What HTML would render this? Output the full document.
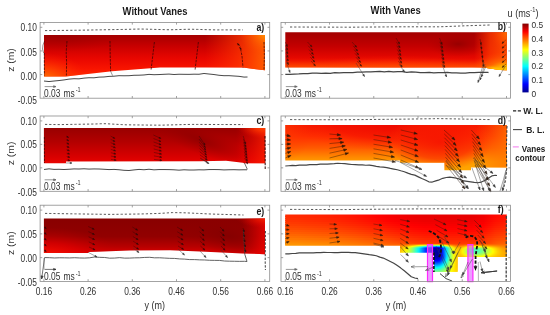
<!DOCTYPE html>
<html lang="en"><head><meta charset="utf-8"><title>Velocity fields with and without vanes</title>
<style>
html,body{margin:0;padding:0;background:#fff;}
body{width:550px;height:315px;overflow:hidden;}
svg{display:block;font-family:'Liberation Sans', sans-serif;}
</style></head><body>
<svg width="550" height="315" viewBox="0 0 550 315">
<defs><linearGradient id="g1" gradientUnits="userSpaceOnUse" x1="0" y1="35" x2="0" y2="77"><stop offset="0" stop-color="#a40000"/><stop offset="0.25" stop-color="#c60000"/><stop offset="0.55" stop-color="#e80600"/><stop offset="0.8" stop-color="#f81400"/><stop offset="1" stop-color="#ff2a00"/></linearGradient><radialGradient id="g2" gradientUnits="userSpaceOnUse" cx="0" cy="0" r="40" gradientTransform="translate(60 34) rotate(0) scale(1.6 0.45)"><stop offset="0" stop-color="#960000" stop-opacity="0.8"/><stop offset="1" stop-color="#a80000" stop-opacity="0"/></radialGradient><radialGradient id="g3" gradientUnits="userSpaceOnUse" cx="0" cy="0" r="34" gradientTransform="translate(44 80) rotate(0) scale(1.3 0.8)"><stop offset="0" stop-color="#ff7a00" stop-opacity="1"/><stop offset="0.45" stop-color="#ff4a00" stop-opacity="0.7"/><stop offset="1" stop-color="#ff2000" stop-opacity="0"/></radialGradient><linearGradient id="g4" gradientUnits="userSpaceOnUse" x1="205" y1="0" x2="266" y2="0"><stop offset="0" stop-color="#ff3000" stop-opacity="0"/><stop offset="0.55" stop-color="#ff3a00" stop-opacity="0.65"/><stop offset="1" stop-color="#ff5e00" stop-opacity="1"/></linearGradient><radialGradient id="g5" gradientUnits="userSpaceOnUse" cx="0" cy="0" r="26" gradientTransform="translate(266 33) rotate(0) scale(1 0.9)"><stop offset="0" stop-color="#ff9a00" stop-opacity="1"/><stop offset="0.4" stop-color="#ff6a00" stop-opacity="0.7"/><stop offset="1" stop-color="#ff4000" stop-opacity="0"/></radialGradient><clipPath id="c6"><polygon points="44,35 265,35 265,70.2 243,67.6 160,67.6 112,71.2 66,76.4 44,76.4"/></clipPath><linearGradient id="g7" gradientUnits="userSpaceOnUse" x1="0" y1="32" x2="0" y2="68"><stop offset="0" stop-color="#a20000"/><stop offset="0.4" stop-color="#c40000"/><stop offset="0.8" stop-color="#ee0a00"/><stop offset="1" stop-color="#ff2a00"/></linearGradient><radialGradient id="g8" gradientUnits="userSpaceOnUse" cx="0" cy="0" r="60" gradientTransform="translate(395 72) rotate(0) scale(1.6 0.28)"><stop offset="0" stop-color="#ff3a00" stop-opacity="0.9"/><stop offset="1" stop-color="#ff2000" stop-opacity="0"/></radialGradient><radialGradient id="g9" gradientUnits="userSpaceOnUse" cx="0" cy="0" r="24" gradientTransform="translate(458 44) rotate(0) scale(1.3 0.55)"><stop offset="0" stop-color="#8e0000" stop-opacity="0.8"/><stop offset="1" stop-color="#b00000" stop-opacity="0"/></radialGradient><linearGradient id="g10" gradientUnits="userSpaceOnUse" x1="474" y1="0" x2="507" y2="0"><stop offset="0" stop-color="#ff3000" stop-opacity="0"/><stop offset="0.5" stop-color="#ff3c00" stop-opacity="0.75"/><stop offset="1" stop-color="#ff5000" stop-opacity="0.95"/></linearGradient><linearGradient id="g11" gradientUnits="userSpaceOnUse" x1="0" y1="58" x2="0" y2="70"><stop offset="0" stop-color="#ff6000" stop-opacity="0"/><stop offset="1" stop-color="#ff7a00" stop-opacity="0.55"/></linearGradient><radialGradient id="g12" gradientUnits="userSpaceOnUse" cx="0" cy="0" r="34" gradientTransform="translate(508 72) rotate(0) scale(1.1 0.62)"><stop offset="0" stop-color="#fff000" stop-opacity="1"/><stop offset="0.3" stop-color="#ffc000" stop-opacity="0.95"/><stop offset="0.55" stop-color="#ff7000" stop-opacity="0.7"/><stop offset="1" stop-color="#ff4000" stop-opacity="0"/></radialGradient><radialGradient id="g13" gradientUnits="userSpaceOnUse" cx="0" cy="0" r="22" gradientTransform="translate(508 32) rotate(0) scale(0.8 1)"><stop offset="0" stop-color="#ff7a00" stop-opacity="0.9"/><stop offset="1" stop-color="#ff3000" stop-opacity="0"/></radialGradient><radialGradient id="g14" gradientUnits="userSpaceOnUse" cx="0" cy="0" r="16" gradientTransform="translate(493 70.5) rotate(0) scale(1 0.36)"><stop offset="0" stop-color="#ffe800" stop-opacity="0.95"/><stop offset="0.5" stop-color="#ffc000" stop-opacity="0.7"/><stop offset="1" stop-color="#ff8000" stop-opacity="0"/></radialGradient><clipPath id="c15"><polygon points="285.3,32.2 506.8,32.2 506.8,70.2 500,70 483,67.6 285.3,67.6"/></clipPath><linearGradient id="g16" gradientUnits="userSpaceOnUse" x1="0" y1="128" x2="0" y2="164"><stop offset="0" stop-color="#980000"/><stop offset="0.4" stop-color="#b40000"/><stop offset="0.8" stop-color="#d80000"/><stop offset="1" stop-color="#ea0400"/></linearGradient><radialGradient id="g17" gradientUnits="userSpaceOnUse" cx="0" cy="0" r="40" gradientTransform="translate(200 140) rotate(22) scale(1.4 0.35)"><stop offset="0" stop-color="#8a0000" stop-opacity="0.75"/><stop offset="1" stop-color="#a00000" stop-opacity="0"/></radialGradient><radialGradient id="g18" gradientUnits="userSpaceOnUse" cx="0" cy="0" r="24" gradientTransform="translate(266 127) rotate(0) scale(1.2 0.5)"><stop offset="0" stop-color="#ffa000" stop-opacity="1"/><stop offset="0.35" stop-color="#ff5a00" stop-opacity="0.85"/><stop offset="1" stop-color="#e00000" stop-opacity="0"/></radialGradient><linearGradient id="g19" gradientUnits="userSpaceOnUse" x1="236" y1="0" x2="266" y2="0"><stop offset="0" stop-color="#f00000" stop-opacity="0"/><stop offset="1" stop-color="#ff2400" stop-opacity="0.75"/></linearGradient><clipPath id="c20"><polygon points="43.9,128 265.2,128 265.2,163.3 244,163.2 243,162.7 226,160.7 200,161.3 66,161.6 66,163.2 43.9,163.2"/></clipPath><linearGradient id="g21" gradientUnits="userSpaceOnUse" x1="0" y1="125" x2="0" y2="171"><stop offset="0" stop-color="#f41200"/><stop offset="0.25" stop-color="#ff2e00"/><stop offset="0.5" stop-color="#ff5a00"/><stop offset="0.68" stop-color="#ff8400"/><stop offset="0.8" stop-color="#ff9e00"/><stop offset="1" stop-color="#ffa600"/></linearGradient><radialGradient id="g22" gradientUnits="userSpaceOnUse" cx="0" cy="0" r="70" gradientTransform="translate(400 122) rotate(0) scale(1.6 0.42)"><stop offset="0" stop-color="#ea0800" stop-opacity="0.95"/><stop offset="0.6" stop-color="#f41000" stop-opacity="0.6"/><stop offset="1" stop-color="#ff3000" stop-opacity="0"/></radialGradient><radialGradient id="g23" gradientUnits="userSpaceOnUse" cx="0" cy="0" r="36" gradientTransform="translate(284 126) rotate(0) scale(0.8 1)"><stop offset="0" stop-color="#ff4200" stop-opacity="0.6"/><stop offset="1" stop-color="#ff3800" stop-opacity="0"/></radialGradient><radialGradient id="g24" gradientUnits="userSpaceOnUse" cx="0" cy="0" r="38" gradientTransform="translate(440 142) rotate(0) scale(1.4 0.75)"><stop offset="0" stop-color="#f61400" stop-opacity="0.9"/><stop offset="0.6" stop-color="#fa1c00" stop-opacity="0.6"/><stop offset="1" stop-color="#ff3000" stop-opacity="0"/></radialGradient><linearGradient id="g25" gradientUnits="userSpaceOnUse" x1="476" y1="0" x2="508" y2="0"><stop offset="0" stop-color="#ff6000" stop-opacity="0"/><stop offset="1" stop-color="#ff7800" stop-opacity="0.8"/></linearGradient><clipPath id="c26"><polygon points="285.3,125 506.8,125 506.8,167.6 471,167.6 471,170.2 444.4,170.2 444.4,162.8 400,162.8 400,160.6 285.3,160.6"/></clipPath><linearGradient id="g27" gradientUnits="userSpaceOnUse" x1="0" y1="218" x2="0" y2="255"><stop offset="0" stop-color="#880000"/><stop offset="0.5" stop-color="#920000"/><stop offset="0.78" stop-color="#b80000"/><stop offset="1" stop-color="#e60000"/></linearGradient><radialGradient id="g28" gradientUnits="userSpaceOnUse" cx="0" cy="0" r="56" gradientTransform="translate(44 258) rotate(0) scale(1.4 0.55)"><stop offset="0" stop-color="#ff1800" stop-opacity="0.9"/><stop offset="0.5" stop-color="#e80000" stop-opacity="0.6"/><stop offset="1" stop-color="#c00000" stop-opacity="0"/></radialGradient><radialGradient id="g29" gradientUnits="userSpaceOnUse" cx="0" cy="0" r="32" gradientTransform="translate(228 236) rotate(15) scale(1.5 0.6)"><stop offset="0" stop-color="#840000" stop-opacity="0.9"/><stop offset="1" stop-color="#900000" stop-opacity="0"/></radialGradient><linearGradient id="g30" gradientUnits="userSpaceOnUse" x1="242" y1="0" x2="266" y2="0"><stop offset="0" stop-color="#e00000" stop-opacity="0"/><stop offset="1" stop-color="#ee0400" stop-opacity="0.85"/></linearGradient><radialGradient id="g31" gradientUnits="userSpaceOnUse" cx="0" cy="0" r="20" gradientTransform="translate(266 218) rotate(0) scale(1.5 0.5)"><stop offset="0" stop-color="#ff2a00" stop-opacity="0.9"/><stop offset="1" stop-color="#e00000" stop-opacity="0"/></radialGradient><clipPath id="c32"><polygon points="43.9,218.6 265,218.6 265,254.2 243,253.4 200,251.6 170,250.2 130,250.5 88.5,251.9 88.5,253.1 43.9,253.1"/></clipPath><clipPath id="c33"><polygon points="285.2,214.6 506.8,214.6 506.8,257 457.6,257 457.6,271.8 434,271.8 434,252.4 400,252.4 400,245.6 285.2,245.6"/></clipPath><linearGradient id="r34" gradientUnits="userSpaceOnUse" x1="285.3" y1="0" x2="506.8" y2="0"><stop offset="0" stop-color="#ff2a00"/><stop offset="0.053" stop-color="#ff2800"/><stop offset="0.105" stop-color="#ff2400"/><stop offset="0.158" stop-color="#ff2100"/><stop offset="0.211" stop-color="#ff1d00"/><stop offset="0.263" stop-color="#ff1800"/><stop offset="0.316" stop-color="#ff1000"/><stop offset="0.368" stop-color="#ff0800"/><stop offset="0.421" stop-color="#ff0000"/><stop offset="0.474" stop-color="#f60000"/><stop offset="0.526" stop-color="#ef0000"/><stop offset="0.579" stop-color="#e90000"/><stop offset="0.632" stop-color="#e60000"/><stop offset="0.842" stop-color="#e60000"/><stop offset="0.895" stop-color="#ef0000"/><stop offset="0.947" stop-color="#ff0600"/><stop offset="1" stop-color="#ff1400"/></linearGradient><linearGradient id="r35" gradientUnits="userSpaceOnUse" x1="285.3" y1="0" x2="506.8" y2="0"><stop offset="0" stop-color="#ff2c00"/><stop offset="0.053" stop-color="#ff2a00"/><stop offset="0.105" stop-color="#ff2700"/><stop offset="0.158" stop-color="#ff2300"/><stop offset="0.211" stop-color="#ff1f00"/><stop offset="0.263" stop-color="#ff1a00"/><stop offset="0.316" stop-color="#ff1300"/><stop offset="0.368" stop-color="#ff0b00"/><stop offset="0.421" stop-color="#ff0200"/><stop offset="0.474" stop-color="#f80000"/><stop offset="0.526" stop-color="#f10000"/><stop offset="0.579" stop-color="#eb0000"/><stop offset="0.632" stop-color="#e80000"/><stop offset="0.684" stop-color="#e70000"/><stop offset="0.842" stop-color="#e70000"/><stop offset="0.895" stop-color="#f00000"/><stop offset="0.947" stop-color="#ff0800"/><stop offset="1" stop-color="#ff1500"/></linearGradient><linearGradient id="r36" gradientUnits="userSpaceOnUse" x1="285.3" y1="0" x2="506.8" y2="0"><stop offset="0" stop-color="#ff3000"/><stop offset="0.053" stop-color="#ff2e00"/><stop offset="0.105" stop-color="#ff2a00"/><stop offset="0.158" stop-color="#ff2700"/><stop offset="0.211" stop-color="#ff2300"/><stop offset="0.263" stop-color="#ff1d00"/><stop offset="0.316" stop-color="#ff1600"/><stop offset="0.368" stop-color="#ff0e00"/><stop offset="0.421" stop-color="#ff0500"/><stop offset="0.474" stop-color="#fc0000"/><stop offset="0.526" stop-color="#f40000"/><stop offset="0.579" stop-color="#ee0000"/><stop offset="0.632" stop-color="#eb0000"/><stop offset="0.684" stop-color="#ea0000"/><stop offset="0.842" stop-color="#ea0000"/><stop offset="0.895" stop-color="#f30000"/><stop offset="0.947" stop-color="#ff0b00"/><stop offset="1" stop-color="#ff1800"/></linearGradient><linearGradient id="r37" gradientUnits="userSpaceOnUse" x1="285.3" y1="0" x2="506.8" y2="0"><stop offset="0" stop-color="#ff3400"/><stop offset="0.053" stop-color="#ff3300"/><stop offset="0.105" stop-color="#ff2f00"/><stop offset="0.158" stop-color="#ff2b00"/><stop offset="0.211" stop-color="#ff2700"/><stop offset="0.263" stop-color="#ff2200"/><stop offset="0.316" stop-color="#ff1b00"/><stop offset="0.368" stop-color="#ff1300"/><stop offset="0.421" stop-color="#ff0a00"/><stop offset="0.474" stop-color="#ff0100"/><stop offset="0.526" stop-color="#f80000"/><stop offset="0.579" stop-color="#f20000"/><stop offset="0.632" stop-color="#ee0000"/><stop offset="0.842" stop-color="#ee0000"/><stop offset="0.895" stop-color="#f70000"/><stop offset="0.947" stop-color="#ff0e00"/><stop offset="1" stop-color="#ff1c00"/></linearGradient><linearGradient id="r38" gradientUnits="userSpaceOnUse" x1="285.3" y1="0" x2="506.8" y2="0"><stop offset="0" stop-color="#ff3a00"/><stop offset="0.053" stop-color="#ff3800"/><stop offset="0.105" stop-color="#ff3400"/><stop offset="0.158" stop-color="#ff3100"/><stop offset="0.211" stop-color="#ff2d00"/><stop offset="0.263" stop-color="#ff2700"/><stop offset="0.316" stop-color="#ff2000"/><stop offset="0.368" stop-color="#ff1800"/><stop offset="0.421" stop-color="#ff0f00"/><stop offset="0.474" stop-color="#ff0700"/><stop offset="0.526" stop-color="#fd0000"/><stop offset="0.579" stop-color="#f70000"/><stop offset="0.632" stop-color="#f30000"/><stop offset="0.684" stop-color="#f20000"/><stop offset="0.842" stop-color="#f20000"/><stop offset="0.895" stop-color="#fb0000"/><stop offset="0.947" stop-color="#ff1300"/><stop offset="1" stop-color="#ff2000"/></linearGradient><linearGradient id="r39" gradientUnits="userSpaceOnUse" x1="285.3" y1="0" x2="506.8" y2="0"><stop offset="0" stop-color="#ff4000"/><stop offset="0.053" stop-color="#ff3e00"/><stop offset="0.105" stop-color="#ff3a00"/><stop offset="0.158" stop-color="#ff3700"/><stop offset="0.211" stop-color="#ff3300"/><stop offset="0.263" stop-color="#ff2d00"/><stop offset="0.316" stop-color="#ff2600"/><stop offset="0.368" stop-color="#ff1e00"/><stop offset="0.421" stop-color="#ff1500"/><stop offset="0.474" stop-color="#ff0d00"/><stop offset="0.526" stop-color="#ff0400"/><stop offset="0.579" stop-color="#fc0000"/><stop offset="0.632" stop-color="#f80000"/><stop offset="0.684" stop-color="#f70000"/><stop offset="0.842" stop-color="#f70000"/><stop offset="0.895" stop-color="#ff0100"/><stop offset="0.947" stop-color="#ff1700"/><stop offset="1" stop-color="#ff2500"/></linearGradient><linearGradient id="r40" gradientUnits="userSpaceOnUse" x1="285.3" y1="0" x2="506.8" y2="0"><stop offset="0" stop-color="#ff4700"/><stop offset="0.053" stop-color="#ff4500"/><stop offset="0.105" stop-color="#ff4100"/><stop offset="0.158" stop-color="#ff3d00"/><stop offset="0.211" stop-color="#ff3a00"/><stop offset="0.263" stop-color="#ff3400"/><stop offset="0.316" stop-color="#ff2d00"/><stop offset="0.368" stop-color="#ff2500"/><stop offset="0.421" stop-color="#ff1c00"/><stop offset="0.474" stop-color="#ff1300"/><stop offset="0.526" stop-color="#ff0a00"/><stop offset="0.579" stop-color="#ff0300"/><stop offset="0.632" stop-color="#fd0000"/><stop offset="0.684" stop-color="#fc0000"/><stop offset="0.842" stop-color="#fc0000"/><stop offset="0.895" stop-color="#ff0600"/><stop offset="0.947" stop-color="#ff1c00"/><stop offset="1" stop-color="#ff2a00"/></linearGradient><linearGradient id="r41" gradientUnits="userSpaceOnUse" x1="285.3" y1="0" x2="506.8" y2="0"><stop offset="0" stop-color="#ff4e00"/><stop offset="0.053" stop-color="#ff4c00"/><stop offset="0.105" stop-color="#ff4800"/><stop offset="0.158" stop-color="#ff4500"/><stop offset="0.211" stop-color="#ff4100"/><stop offset="0.263" stop-color="#ff3b00"/><stop offset="0.316" stop-color="#ff3400"/><stop offset="0.368" stop-color="#ff2c00"/><stop offset="0.421" stop-color="#ff2300"/><stop offset="0.474" stop-color="#ff1a00"/><stop offset="0.526" stop-color="#ff1100"/><stop offset="0.579" stop-color="#ff0900"/><stop offset="0.632" stop-color="#ff0400"/><stop offset="0.684" stop-color="#ff0200"/><stop offset="0.842" stop-color="#ff0200"/><stop offset="0.895" stop-color="#ff0b00"/><stop offset="0.947" stop-color="#ff2200"/><stop offset="1" stop-color="#ff2f00"/></linearGradient><linearGradient id="r42" gradientUnits="userSpaceOnUse" x1="285.3" y1="0" x2="506.8" y2="0"><stop offset="0" stop-color="#ff5500"/><stop offset="0.053" stop-color="#ff5400"/><stop offset="0.105" stop-color="#ff5000"/><stop offset="0.158" stop-color="#ff4c00"/><stop offset="0.211" stop-color="#ff4800"/><stop offset="0.263" stop-color="#ff4300"/><stop offset="0.316" stop-color="#ff3c00"/><stop offset="0.368" stop-color="#ff3400"/><stop offset="0.421" stop-color="#ff2b00"/><stop offset="0.474" stop-color="#ff2200"/><stop offset="0.526" stop-color="#ff1800"/><stop offset="0.579" stop-color="#ff1000"/><stop offset="0.632" stop-color="#ff0a00"/><stop offset="0.684" stop-color="#ff0900"/><stop offset="0.737" stop-color="#ff0800"/><stop offset="0.842" stop-color="#ff0800"/><stop offset="0.895" stop-color="#ff1100"/><stop offset="0.947" stop-color="#ff2800"/><stop offset="1" stop-color="#ff3500"/></linearGradient><linearGradient id="r43" gradientUnits="userSpaceOnUse" x1="285.3" y1="0" x2="506.8" y2="0"><stop offset="0" stop-color="#ff5e00"/><stop offset="0.053" stop-color="#ff5c00"/><stop offset="0.105" stop-color="#ff5800"/><stop offset="0.158" stop-color="#ff5500"/><stop offset="0.211" stop-color="#ff5100"/><stop offset="0.263" stop-color="#ff4b00"/><stop offset="0.316" stop-color="#ff4400"/><stop offset="0.368" stop-color="#ff3c00"/><stop offset="0.421" stop-color="#ff3300"/><stop offset="0.474" stop-color="#ff2a00"/><stop offset="0.526" stop-color="#ff2000"/><stop offset="0.579" stop-color="#ff1700"/><stop offset="0.632" stop-color="#ff1100"/><stop offset="0.684" stop-color="#ff0f00"/><stop offset="0.842" stop-color="#ff0f00"/><stop offset="0.895" stop-color="#ff1800"/><stop offset="0.947" stop-color="#ff2f00"/><stop offset="1" stop-color="#ff3c00"/></linearGradient><linearGradient id="r44" gradientUnits="userSpaceOnUse" x1="285.3" y1="0" x2="506.8" y2="0"><stop offset="0" stop-color="#ff6600"/><stop offset="0.053" stop-color="#ff6500"/><stop offset="0.105" stop-color="#ff6100"/><stop offset="0.158" stop-color="#ff5d00"/><stop offset="0.211" stop-color="#ff5900"/><stop offset="0.263" stop-color="#ff5400"/><stop offset="0.316" stop-color="#ff4d00"/><stop offset="0.368" stop-color="#ff4500"/><stop offset="0.421" stop-color="#ff3c00"/><stop offset="0.474" stop-color="#ff3200"/><stop offset="0.526" stop-color="#ff2800"/><stop offset="0.579" stop-color="#ff1e00"/><stop offset="0.632" stop-color="#ff1800"/><stop offset="0.684" stop-color="#ff1600"/><stop offset="0.842" stop-color="#ff1600"/><stop offset="0.895" stop-color="#ff1f00"/><stop offset="0.947" stop-color="#ff3500"/><stop offset="1" stop-color="#ff4200"/></linearGradient><linearGradient id="r45" gradientUnits="userSpaceOnUse" x1="285.3" y1="0" x2="506.8" y2="0"><stop offset="0" stop-color="#ff6f00"/><stop offset="0.053" stop-color="#ff6e00"/><stop offset="0.105" stop-color="#ff6a00"/><stop offset="0.158" stop-color="#ff6600"/><stop offset="0.211" stop-color="#ff6300"/><stop offset="0.263" stop-color="#ff5d00"/><stop offset="0.316" stop-color="#ff5600"/><stop offset="0.368" stop-color="#ff4e00"/><stop offset="0.421" stop-color="#ff4500"/><stop offset="0.474" stop-color="#ff3b00"/><stop offset="0.526" stop-color="#ff3000"/><stop offset="0.579" stop-color="#ff2600"/><stop offset="0.632" stop-color="#ff1f00"/><stop offset="0.684" stop-color="#ff1d00"/><stop offset="0.842" stop-color="#ff1d00"/><stop offset="0.895" stop-color="#ff2600"/><stop offset="0.947" stop-color="#ff3c00"/><stop offset="1" stop-color="#ff4a00"/></linearGradient><linearGradient id="r46" gradientUnits="userSpaceOnUse" x1="285.3" y1="0" x2="506.8" y2="0"><stop offset="0" stop-color="#ff7900"/><stop offset="0.053" stop-color="#ff7700"/><stop offset="0.105" stop-color="#ff7300"/><stop offset="0.158" stop-color="#ff7000"/><stop offset="0.211" stop-color="#ff6c00"/><stop offset="0.263" stop-color="#ff6700"/><stop offset="0.316" stop-color="#ff6000"/><stop offset="0.368" stop-color="#ff5700"/><stop offset="0.421" stop-color="#ff4f00"/><stop offset="0.474" stop-color="#ff4500"/><stop offset="0.526" stop-color="#ff3900"/><stop offset="0.579" stop-color="#ff2f00"/><stop offset="0.632" stop-color="#ff2700"/><stop offset="0.684" stop-color="#ff2400"/><stop offset="0.842" stop-color="#ff2400"/><stop offset="0.895" stop-color="#ff2d00"/><stop offset="0.947" stop-color="#ff4400"/><stop offset="1" stop-color="#ff5100"/></linearGradient><linearGradient id="r47" gradientUnits="userSpaceOnUse" x1="285.3" y1="0" x2="506.8" y2="0"><stop offset="0" stop-color="#ff8000"/><stop offset="0.053" stop-color="#ff7f00"/><stop offset="0.105" stop-color="#ff7b00"/><stop offset="0.158" stop-color="#ff7700"/><stop offset="0.211" stop-color="#ff7300"/><stop offset="0.263" stop-color="#ff6e00"/><stop offset="0.316" stop-color="#ff6700"/><stop offset="0.368" stop-color="#ff5f00"/><stop offset="0.421" stop-color="#ff5600"/><stop offset="0.474" stop-color="#ff4c00"/><stop offset="0.526" stop-color="#ff4000"/><stop offset="0.579" stop-color="#ff3500"/><stop offset="0.632" stop-color="#ff2d00"/><stop offset="0.684" stop-color="#ff2a00"/><stop offset="0.842" stop-color="#ff2a00"/><stop offset="0.895" stop-color="#ff3300"/><stop offset="0.947" stop-color="#ff4a00"/><stop offset="1" stop-color="#ff5700"/></linearGradient><linearGradient id="r48" gradientUnits="userSpaceOnUse" x1="285.3" y1="0" x2="506.8" y2="0"><stop offset="0" stop-color="#ff8600"/><stop offset="0.062" stop-color="#ff8300"/><stop offset="0.124" stop-color="#ff7e00"/><stop offset="0.186" stop-color="#ff7b00"/><stop offset="0.248" stop-color="#ff7500"/><stop offset="0.31" stop-color="#ff6d00"/><stop offset="0.371" stop-color="#ff6300"/><stop offset="0.433" stop-color="#ff5900"/><stop offset="0.495" stop-color="#ff4c00"/><stop offset="0.509" stop-color="#ff4900"/><stop offset="0.519" stop-color="#ff4700"/><stop offset="0.53" stop-color="#ff4400"/><stop offset="0.54" stop-color="#ff4200"/><stop offset="0.551" stop-color="#ff3f00"/><stop offset="0.561" stop-color="#ff3d00"/><stop offset="0.572" stop-color="#ff3b00"/><stop offset="0.582" stop-color="#ff3900"/><stop offset="0.592" stop-color="#ff3700"/><stop offset="0.603" stop-color="#ff3500"/><stop offset="0.613" stop-color="#ff3400"/><stop offset="0.624" stop-color="#ff3200"/><stop offset="0.634" stop-color="#ff3100"/><stop offset="0.645" stop-color="#ff3000"/><stop offset="0.655" stop-color="#ff2f00"/><stop offset="0.666" stop-color="#ff2f00"/><stop offset="0.676" stop-color="#ff2e00"/><stop offset="0.854" stop-color="#ff2e00"/><stop offset="0.864" stop-color="#ff2f00"/><stop offset="0.875" stop-color="#ff3100"/><stop offset="0.885" stop-color="#ff3300"/><stop offset="0.895" stop-color="#ff3700"/><stop offset="0.906" stop-color="#ff3b00"/><stop offset="0.916" stop-color="#ff4000"/><stop offset="0.927" stop-color="#ff4400"/><stop offset="0.937" stop-color="#ff4900"/><stop offset="0.948" stop-color="#ff4e00"/><stop offset="0.958" stop-color="#ff5200"/><stop offset="0.969" stop-color="#ff5500"/><stop offset="0.979" stop-color="#ff5800"/><stop offset="0.99" stop-color="#ff5a00"/><stop offset="1" stop-color="#ff5b00"/></linearGradient><linearGradient id="r49" gradientUnits="userSpaceOnUse" x1="285.3" y1="0" x2="506.8" y2="0"><stop offset="0" stop-color="#ff8b00"/><stop offset="0.062" stop-color="#ff8800"/><stop offset="0.124" stop-color="#ff8400"/><stop offset="0.186" stop-color="#ff8000"/><stop offset="0.248" stop-color="#ff7a00"/><stop offset="0.31" stop-color="#ff7200"/><stop offset="0.371" stop-color="#ff6800"/><stop offset="0.433" stop-color="#ff5e00"/><stop offset="0.495" stop-color="#ff5100"/><stop offset="0.509" stop-color="#ff4e00"/><stop offset="0.519" stop-color="#ff4b00"/><stop offset="0.53" stop-color="#ff4900"/><stop offset="0.54" stop-color="#ff4700"/><stop offset="0.551" stop-color="#ff4400"/><stop offset="0.561" stop-color="#ff4200"/><stop offset="0.572" stop-color="#ff4000"/><stop offset="0.582" stop-color="#ff3d00"/><stop offset="0.592" stop-color="#ff3b00"/><stop offset="0.603" stop-color="#ff3a00"/><stop offset="0.613" stop-color="#ff3800"/><stop offset="0.624" stop-color="#ff3600"/><stop offset="0.634" stop-color="#ff3500"/><stop offset="0.645" stop-color="#ff3400"/><stop offset="0.655" stop-color="#ff3300"/><stop offset="0.666" stop-color="#ff3300"/><stop offset="0.676" stop-color="#ff3200"/><stop offset="0.854" stop-color="#ff3200"/><stop offset="0.864" stop-color="#ff3300"/><stop offset="0.875" stop-color="#ff3500"/><stop offset="0.885" stop-color="#ff3700"/><stop offset="0.895" stop-color="#ff3b00"/><stop offset="0.906" stop-color="#ff3f00"/><stop offset="0.916" stop-color="#ff4400"/><stop offset="0.927" stop-color="#ff4800"/><stop offset="0.937" stop-color="#ff4d00"/><stop offset="0.948" stop-color="#ff5200"/><stop offset="0.958" stop-color="#ff5600"/><stop offset="0.969" stop-color="#ff5900"/><stop offset="0.979" stop-color="#ff5c00"/><stop offset="0.99" stop-color="#ff5e00"/><stop offset="1" stop-color="#ff5f00"/></linearGradient><linearGradient id="r50" gradientUnits="userSpaceOnUse" x1="285.3" y1="0" x2="506.8" y2="0"><stop offset="0" stop-color="#ff9000"/><stop offset="0.062" stop-color="#ff8e00"/><stop offset="0.124" stop-color="#ff8900"/><stop offset="0.186" stop-color="#ff8500"/><stop offset="0.248" stop-color="#ff7f00"/><stop offset="0.31" stop-color="#ff7700"/><stop offset="0.371" stop-color="#ff6e00"/><stop offset="0.433" stop-color="#ff6300"/><stop offset="0.495" stop-color="#ff5700"/><stop offset="0.509" stop-color="#ff5300"/><stop offset="0.519" stop-color="#ff5100"/><stop offset="0.53" stop-color="#ff4f00"/><stop offset="0.54" stop-color="#ff4d00"/><stop offset="0.551" stop-color="#ff4a00"/><stop offset="0.561" stop-color="#ff4800"/><stop offset="0.572" stop-color="#ff4700"/><stop offset="0.582" stop-color="#ff4500"/><stop offset="0.592" stop-color="#ff4300"/><stop offset="0.603" stop-color="#ff4200"/><stop offset="0.613" stop-color="#ff4100"/><stop offset="0.624" stop-color="#ff4000"/><stop offset="0.634" stop-color="#ff3f00"/><stop offset="0.645" stop-color="#ff3f00"/><stop offset="0.655" stop-color="#ff3e00"/><stop offset="0.676" stop-color="#ff3e00"/><stop offset="0.686" stop-color="#ff3d00"/><stop offset="0.697" stop-color="#ff3d00"/><stop offset="0.707" stop-color="#ff3c00"/><stop offset="0.718" stop-color="#ff3b00"/><stop offset="0.728" stop-color="#ff3a00"/><stop offset="0.739" stop-color="#ff3900"/><stop offset="0.749" stop-color="#ff3800"/><stop offset="0.76" stop-color="#ff3700"/><stop offset="0.812" stop-color="#ff3700"/><stop offset="0.822" stop-color="#ff3800"/><stop offset="0.854" stop-color="#ff3800"/><stop offset="0.864" stop-color="#ff3900"/><stop offset="0.875" stop-color="#ff3b00"/><stop offset="0.885" stop-color="#ff3e00"/><stop offset="0.895" stop-color="#ff4100"/><stop offset="0.906" stop-color="#ff4500"/><stop offset="0.916" stop-color="#ff4900"/><stop offset="0.927" stop-color="#ff4e00"/><stop offset="0.937" stop-color="#ff5200"/><stop offset="0.948" stop-color="#ff5600"/><stop offset="0.958" stop-color="#ff5a00"/><stop offset="0.969" stop-color="#ff5e00"/><stop offset="0.979" stop-color="#ff6100"/><stop offset="0.99" stop-color="#ff6200"/><stop offset="1" stop-color="#ff6300"/></linearGradient><linearGradient id="r51" gradientUnits="userSpaceOnUse" x1="285.3" y1="0" x2="506.8" y2="0"><stop offset="0" stop-color="#ff9500"/><stop offset="0.062" stop-color="#ff9300"/><stop offset="0.124" stop-color="#ff8e00"/><stop offset="0.186" stop-color="#ff8a00"/><stop offset="0.248" stop-color="#ff8500"/><stop offset="0.31" stop-color="#ff7d00"/><stop offset="0.371" stop-color="#ff7300"/><stop offset="0.433" stop-color="#ff6900"/><stop offset="0.495" stop-color="#ff6100"/><stop offset="0.509" stop-color="#ff6000"/><stop offset="0.519" stop-color="#ff6000"/><stop offset="0.53" stop-color="#ff6200"/><stop offset="0.54" stop-color="#ff6300"/><stop offset="0.551" stop-color="#ff6600"/><stop offset="0.561" stop-color="#ff6a00"/><stop offset="0.572" stop-color="#ff7000"/><stop offset="0.582" stop-color="#ff7600"/><stop offset="0.592" stop-color="#ff7c00"/><stop offset="0.603" stop-color="#ff8400"/><stop offset="0.613" stop-color="#ff8c00"/><stop offset="0.624" stop-color="#ff9400"/><stop offset="0.634" stop-color="#ff9c00"/><stop offset="0.645" stop-color="#ffa300"/><stop offset="0.655" stop-color="#ffa800"/><stop offset="0.666" stop-color="#ffad00"/><stop offset="0.676" stop-color="#ffaf00"/><stop offset="0.686" stop-color="#ffb000"/><stop offset="0.697" stop-color="#ffab00"/><stop offset="0.707" stop-color="#ffa000"/><stop offset="0.718" stop-color="#ff9000"/><stop offset="0.728" stop-color="#ff7e00"/><stop offset="0.739" stop-color="#ff6d00"/><stop offset="0.749" stop-color="#ff5f00"/><stop offset="0.76" stop-color="#ff5300"/><stop offset="0.77" stop-color="#ff4c00"/><stop offset="0.781" stop-color="#ff4900"/><stop offset="0.791" stop-color="#ff4a00"/><stop offset="0.801" stop-color="#ff4d00"/><stop offset="0.812" stop-color="#ff5300"/><stop offset="0.822" stop-color="#ff5900"/><stop offset="0.833" stop-color="#ff5e00"/><stop offset="0.843" stop-color="#ff6200"/><stop offset="0.854" stop-color="#ff6300"/><stop offset="0.906" stop-color="#ff6300"/><stop offset="0.916" stop-color="#ff6400"/><stop offset="0.927" stop-color="#ff6400"/><stop offset="0.937" stop-color="#ff6500"/><stop offset="0.948" stop-color="#ff6700"/><stop offset="0.958" stop-color="#ff6800"/><stop offset="0.969" stop-color="#ff6900"/><stop offset="0.979" stop-color="#ff6a00"/><stop offset="1" stop-color="#ff6a00"/></linearGradient><linearGradient id="r52" gradientUnits="userSpaceOnUse" x1="285.3" y1="0" x2="506.8" y2="0"><stop offset="0" stop-color="#ff9b00"/><stop offset="0.062" stop-color="#ff9800"/><stop offset="0.124" stop-color="#ff9400"/><stop offset="0.186" stop-color="#ff9000"/><stop offset="0.248" stop-color="#ff8a00"/><stop offset="0.31" stop-color="#ff8200"/><stop offset="0.371" stop-color="#ff7900"/><stop offset="0.433" stop-color="#ff7000"/><stop offset="0.495" stop-color="#ff6f00"/><stop offset="0.509" stop-color="#ff7300"/><stop offset="0.519" stop-color="#ff7800"/><stop offset="0.53" stop-color="#ff7f00"/><stop offset="0.54" stop-color="#ff8800"/><stop offset="0.551" stop-color="#ff9400"/><stop offset="0.561" stop-color="#ffa300"/><stop offset="0.572" stop-color="#ffb400"/><stop offset="0.582" stop-color="#ffc800"/><stop offset="0.592" stop-color="#ffde00"/><stop offset="0.603" stop-color="#fff500"/><stop offset="0.613" stop-color="#f1ff0e"/><stop offset="0.624" stop-color="#d9ff26"/><stop offset="0.634" stop-color="#c2ff3d"/><stop offset="0.645" stop-color="#aeff51"/><stop offset="0.655" stop-color="#9dff62"/><stop offset="0.666" stop-color="#91ff6e"/><stop offset="0.676" stop-color="#89ff76"/><stop offset="0.686" stop-color="#88ff77"/><stop offset="0.697" stop-color="#94ff6b"/><stop offset="0.707" stop-color="#b2ff4d"/><stop offset="0.718" stop-color="#dcff23"/><stop offset="0.728" stop-color="#fff300"/><stop offset="0.739" stop-color="#ffc600"/><stop offset="0.749" stop-color="#ff9f00"/><stop offset="0.76" stop-color="#ff8200"/><stop offset="0.77" stop-color="#ff6f00"/><stop offset="0.781" stop-color="#ff6700"/><stop offset="0.791" stop-color="#ff6900"/><stop offset="0.801" stop-color="#ff7200"/><stop offset="0.812" stop-color="#ff8100"/><stop offset="0.822" stop-color="#ff9100"/><stop offset="0.833" stop-color="#ffa000"/><stop offset="0.843" stop-color="#ffaa00"/><stop offset="0.854" stop-color="#ffad00"/><stop offset="0.864" stop-color="#ffac00"/><stop offset="0.875" stop-color="#ffa900"/><stop offset="0.885" stop-color="#ffa400"/><stop offset="0.895" stop-color="#ff9e00"/><stop offset="0.906" stop-color="#ff9800"/><stop offset="0.916" stop-color="#ff9100"/><stop offset="0.927" stop-color="#ff8b00"/><stop offset="0.937" stop-color="#ff8500"/><stop offset="0.948" stop-color="#ff8100"/><stop offset="0.958" stop-color="#ff7d00"/><stop offset="0.969" stop-color="#ff7a00"/><stop offset="0.979" stop-color="#ff7700"/><stop offset="0.99" stop-color="#ff7500"/><stop offset="1" stop-color="#ff7200"/></linearGradient><linearGradient id="r53" gradientUnits="userSpaceOnUse" x1="285.3" y1="0" x2="506.8" y2="0"><stop offset="0" stop-color="#ffa000"/><stop offset="0.062" stop-color="#ff9e00"/><stop offset="0.124" stop-color="#ff9900"/><stop offset="0.186" stop-color="#ff9500"/><stop offset="0.248" stop-color="#ff9000"/><stop offset="0.31" stop-color="#ff8800"/><stop offset="0.371" stop-color="#ff7e00"/><stop offset="0.433" stop-color="#ff7600"/><stop offset="0.495" stop-color="#ff7e00"/><stop offset="0.509" stop-color="#ff8700"/><stop offset="0.519" stop-color="#ff9100"/><stop offset="0.53" stop-color="#ff9f00"/><stop offset="0.54" stop-color="#ffb100"/><stop offset="0.551" stop-color="#ffc700"/><stop offset="0.561" stop-color="#ffe100"/><stop offset="0.572" stop-color="#feff01"/><stop offset="0.582" stop-color="#dbff24"/><stop offset="0.592" stop-color="#b4ff4b"/><stop offset="0.603" stop-color="#8bff74"/><stop offset="0.613" stop-color="#61ff9e"/><stop offset="0.624" stop-color="#38ffc7"/><stop offset="0.634" stop-color="#10ffef"/><stop offset="0.645" stop-color="#00ecff"/><stop offset="0.655" stop-color="#00cfff"/><stop offset="0.666" stop-color="#00b9ff"/><stop offset="0.676" stop-color="#00adff"/><stop offset="0.686" stop-color="#00aaff"/><stop offset="0.697" stop-color="#00bfff"/><stop offset="0.707" stop-color="#00f1ff"/><stop offset="0.718" stop-color="#39ffc6"/><stop offset="0.728" stop-color="#88ff77"/><stop offset="0.739" stop-color="#d6ff29"/><stop offset="0.749" stop-color="#ffe600"/><stop offset="0.76" stop-color="#ffb400"/><stop offset="0.77" stop-color="#ff9500"/><stop offset="0.781" stop-color="#ff8900"/><stop offset="0.791" stop-color="#ff8c00"/><stop offset="0.801" stop-color="#ff9e00"/><stop offset="0.812" stop-color="#ffb800"/><stop offset="0.822" stop-color="#ffd500"/><stop offset="0.833" stop-color="#ffef00"/><stop offset="0.843" stop-color="#fdff02"/><stop offset="0.854" stop-color="#f9ff06"/><stop offset="0.864" stop-color="#fcff03"/><stop offset="0.875" stop-color="#fffc00"/><stop offset="0.885" stop-color="#fff100"/><stop offset="0.895" stop-color="#ffe400"/><stop offset="0.906" stop-color="#ffd600"/><stop offset="0.916" stop-color="#ffc700"/><stop offset="0.927" stop-color="#ffb800"/><stop offset="0.937" stop-color="#ffab00"/><stop offset="0.948" stop-color="#ff9f00"/><stop offset="0.958" stop-color="#ff9500"/><stop offset="0.969" stop-color="#ff8d00"/><stop offset="0.979" stop-color="#ff8600"/><stop offset="0.99" stop-color="#ff8100"/><stop offset="1" stop-color="#ff7c00"/></linearGradient><linearGradient id="r54" gradientUnits="userSpaceOnUse" x1="285.3" y1="0" x2="506.8" y2="0"><stop offset="0" stop-color="#ffa600"/><stop offset="0.062" stop-color="#ffa300"/><stop offset="0.124" stop-color="#ff9f00"/><stop offset="0.186" stop-color="#ff9b00"/><stop offset="0.248" stop-color="#ff9500"/><stop offset="0.31" stop-color="#ff8d00"/><stop offset="0.371" stop-color="#ff8400"/><stop offset="0.433" stop-color="#ff7c00"/><stop offset="0.495" stop-color="#ff8b00"/><stop offset="0.509" stop-color="#ff9800"/><stop offset="0.519" stop-color="#ffa700"/><stop offset="0.53" stop-color="#ffba00"/><stop offset="0.54" stop-color="#ffd300"/><stop offset="0.551" stop-color="#fff100"/><stop offset="0.561" stop-color="#e9ff16"/><stop offset="0.572" stop-color="#bfff40"/><stop offset="0.582" stop-color="#8fff70"/><stop offset="0.592" stop-color="#5bffa4"/><stop offset="0.603" stop-color="#23ffdc"/><stop offset="0.613" stop-color="#00e9ff"/><stop offset="0.624" stop-color="#00b1ff"/><stop offset="0.634" stop-color="#007cff"/><stop offset="0.645" stop-color="#004dff"/><stop offset="0.655" stop-color="#0026ff"/><stop offset="0.666" stop-color="#0008ff"/><stop offset="0.676" stop-color="#0000f6"/><stop offset="0.686" stop-color="#0000f2"/><stop offset="0.697" stop-color="#0010ff"/><stop offset="0.707" stop-color="#0053ff"/><stop offset="0.718" stop-color="#00b2ff"/><stop offset="0.728" stop-color="#1dffe2"/><stop offset="0.739" stop-color="#84ff7b"/><stop offset="0.749" stop-color="#dcff23"/><stop offset="0.76" stop-color="#ffdf00"/><stop offset="0.77" stop-color="#ffb600"/><stop offset="0.781" stop-color="#ffa600"/><stop offset="0.791" stop-color="#ffad00"/><stop offset="0.801" stop-color="#ffc600"/><stop offset="0.812" stop-color="#ffec00"/><stop offset="0.822" stop-color="#e9ff16"/><stop offset="0.833" stop-color="#c3ff3c"/><stop offset="0.843" stop-color="#aaff55"/><stop offset="0.854" stop-color="#a4ff5b"/><stop offset="0.864" stop-color="#a8ff57"/><stop offset="0.875" stop-color="#b3ff4c"/><stop offset="0.885" stop-color="#c2ff3d"/><stop offset="0.895" stop-color="#d6ff29"/><stop offset="0.906" stop-color="#ecff13"/><stop offset="0.916" stop-color="#fffb00"/><stop offset="0.927" stop-color="#ffe400"/><stop offset="0.937" stop-color="#ffcf00"/><stop offset="0.948" stop-color="#ffbd00"/><stop offset="0.958" stop-color="#ffad00"/><stop offset="0.969" stop-color="#ffa000"/><stop offset="0.979" stop-color="#ff9500"/><stop offset="0.99" stop-color="#ff8d00"/><stop offset="1" stop-color="#ff8600"/></linearGradient><linearGradient id="r55" gradientUnits="userSpaceOnUse" x1="285.3" y1="0" x2="506.8" y2="0"><stop offset="0" stop-color="#ffac00"/><stop offset="0.062" stop-color="#ffa900"/><stop offset="0.124" stop-color="#ffa500"/><stop offset="0.186" stop-color="#ffa100"/><stop offset="0.248" stop-color="#ff9b00"/><stop offset="0.31" stop-color="#ff9300"/><stop offset="0.371" stop-color="#ff8900"/><stop offset="0.433" stop-color="#ff8200"/><stop offset="0.495" stop-color="#ff9400"/><stop offset="0.509" stop-color="#ffa300"/><stop offset="0.519" stop-color="#ffb400"/><stop offset="0.53" stop-color="#ffc900"/><stop offset="0.54" stop-color="#ffe500"/><stop offset="0.551" stop-color="#f7ff08"/><stop offset="0.561" stop-color="#cfff30"/><stop offset="0.572" stop-color="#9fff60"/><stop offset="0.582" stop-color="#6aff95"/><stop offset="0.592" stop-color="#30ffcf"/><stop offset="0.603" stop-color="#00f1ff"/><stop offset="0.613" stop-color="#00b1ff"/><stop offset="0.624" stop-color="#0073ff"/><stop offset="0.634" stop-color="#0038ff"/><stop offset="0.645" stop-color="#0003ff"/><stop offset="0.655" stop-color="#0000d6"/><stop offset="0.666" stop-color="#0000b5"/><stop offset="0.676" stop-color="#0000a2"/><stop offset="0.686" stop-color="#00009d"/><stop offset="0.697" stop-color="#0000bd"/><stop offset="0.707" stop-color="#0009ff"/><stop offset="0.718" stop-color="#0073ff"/><stop offset="0.728" stop-color="#00e9ff"/><stop offset="0.739" stop-color="#5dffa2"/><stop offset="0.749" stop-color="#bfff40"/><stop offset="0.76" stop-color="#fff600"/><stop offset="0.77" stop-color="#ffc900"/><stop offset="0.781" stop-color="#ffba00"/><stop offset="0.791" stop-color="#ffc500"/><stop offset="0.801" stop-color="#ffe500"/><stop offset="0.812" stop-color="#ebff14"/><stop offset="0.822" stop-color="#b8ff47"/><stop offset="0.833" stop-color="#8aff75"/><stop offset="0.843" stop-color="#6cff93"/><stop offset="0.854" stop-color="#63ff9c"/><stop offset="0.864" stop-color="#69ff96"/><stop offset="0.875" stop-color="#76ff89"/><stop offset="0.885" stop-color="#8aff75"/><stop offset="0.895" stop-color="#a3ff5c"/><stop offset="0.906" stop-color="#bfff40"/><stop offset="0.916" stop-color="#dcff23"/><stop offset="0.927" stop-color="#f8ff07"/><stop offset="0.937" stop-color="#ffeb00"/><stop offset="0.948" stop-color="#ffd400"/><stop offset="0.958" stop-color="#ffc000"/><stop offset="0.969" stop-color="#ffaf00"/><stop offset="0.979" stop-color="#ffa100"/><stop offset="0.99" stop-color="#ff9700"/><stop offset="1" stop-color="#ff8e00"/></linearGradient><linearGradient id="r56" gradientUnits="userSpaceOnUse" x1="285.3" y1="0" x2="506.8" y2="0"><stop offset="0" stop-color="#ffb100"/><stop offset="0.062" stop-color="#ffaf00"/><stop offset="0.124" stop-color="#ffaa00"/><stop offset="0.186" stop-color="#ffa600"/><stop offset="0.248" stop-color="#ffa100"/><stop offset="0.31" stop-color="#ff9900"/><stop offset="0.371" stop-color="#ff8f00"/><stop offset="0.433" stop-color="#ff8800"/><stop offset="0.495" stop-color="#ff9900"/><stop offset="0.509" stop-color="#ffa800"/><stop offset="0.519" stop-color="#ffb900"/><stop offset="0.53" stop-color="#ffce00"/><stop offset="0.54" stop-color="#ffe900"/><stop offset="0.551" stop-color="#f3ff0c"/><stop offset="0.561" stop-color="#cbff34"/><stop offset="0.572" stop-color="#9cff63"/><stop offset="0.582" stop-color="#67ff98"/><stop offset="0.592" stop-color="#2dffd2"/><stop offset="0.603" stop-color="#00eeff"/><stop offset="0.613" stop-color="#00afff"/><stop offset="0.624" stop-color="#0071ff"/><stop offset="0.634" stop-color="#0036ff"/><stop offset="0.645" stop-color="#0001ff"/><stop offset="0.655" stop-color="#0000d5"/><stop offset="0.666" stop-color="#0000b4"/><stop offset="0.676" stop-color="#0000a1"/><stop offset="0.686" stop-color="#00009d"/><stop offset="0.697" stop-color="#0000bc"/><stop offset="0.707" stop-color="#0008ff"/><stop offset="0.718" stop-color="#0071ff"/><stop offset="0.728" stop-color="#00e6ff"/><stop offset="0.739" stop-color="#5affa5"/><stop offset="0.749" stop-color="#bbff44"/><stop offset="0.76" stop-color="#fffb00"/><stop offset="0.77" stop-color="#ffcf00"/><stop offset="0.781" stop-color="#ffc200"/><stop offset="0.791" stop-color="#ffcf00"/><stop offset="0.801" stop-color="#fff200"/><stop offset="0.812" stop-color="#daff25"/><stop offset="0.822" stop-color="#a3ff5c"/><stop offset="0.833" stop-color="#72ff8d"/><stop offset="0.843" stop-color="#51ffae"/><stop offset="0.854" stop-color="#49ffb6"/><stop offset="0.864" stop-color="#4fffb0"/><stop offset="0.875" stop-color="#5dffa2"/><stop offset="0.885" stop-color="#72ff8d"/><stop offset="0.895" stop-color="#8dff72"/><stop offset="0.906" stop-color="#abff54"/><stop offset="0.916" stop-color="#caff35"/><stop offset="0.927" stop-color="#e9ff16"/><stop offset="0.937" stop-color="#fff900"/><stop offset="0.948" stop-color="#ffdf00"/><stop offset="0.958" stop-color="#ffc900"/><stop offset="0.969" stop-color="#ffb700"/><stop offset="0.979" stop-color="#ffa900"/><stop offset="0.99" stop-color="#ff9d00"/><stop offset="1" stop-color="#ff9400"/></linearGradient><linearGradient id="r57" gradientUnits="userSpaceOnUse" x1="285.3" y1="0" x2="506.8" y2="0"><stop offset="0" stop-color="#ffb700"/><stop offset="0.062" stop-color="#ffb500"/><stop offset="0.124" stop-color="#ffb000"/><stop offset="0.186" stop-color="#ffac00"/><stop offset="0.248" stop-color="#ffa600"/><stop offset="0.31" stop-color="#ff9f00"/><stop offset="0.371" stop-color="#ff9500"/><stop offset="0.433" stop-color="#ff8e00"/><stop offset="0.495" stop-color="#ff9f00"/><stop offset="0.509" stop-color="#ffad00"/><stop offset="0.519" stop-color="#ffbe00"/><stop offset="0.53" stop-color="#ffd300"/><stop offset="0.54" stop-color="#ffee00"/><stop offset="0.551" stop-color="#efff10"/><stop offset="0.561" stop-color="#c7ff38"/><stop offset="0.572" stop-color="#98ff67"/><stop offset="0.582" stop-color="#64ff9b"/><stop offset="0.592" stop-color="#2affd5"/><stop offset="0.603" stop-color="#00ecff"/><stop offset="0.613" stop-color="#00adff"/><stop offset="0.624" stop-color="#006fff"/><stop offset="0.634" stop-color="#0035ff"/><stop offset="0.645" stop-color="#0001ff"/><stop offset="0.655" stop-color="#0000d4"/><stop offset="0.666" stop-color="#0000b4"/><stop offset="0.676" stop-color="#0000a1"/><stop offset="0.686" stop-color="#00009c"/><stop offset="0.697" stop-color="#0000bc"/><stop offset="0.707" stop-color="#0007ff"/><stop offset="0.718" stop-color="#006fff"/><stop offset="0.728" stop-color="#00e4ff"/><stop offset="0.739" stop-color="#57ffa8"/><stop offset="0.749" stop-color="#b8ff47"/><stop offset="0.76" stop-color="#fffe00"/><stop offset="0.77" stop-color="#ffd300"/><stop offset="0.781" stop-color="#ffc600"/><stop offset="0.791" stop-color="#ffd300"/><stop offset="0.801" stop-color="#fff600"/><stop offset="0.812" stop-color="#d6ff29"/><stop offset="0.822" stop-color="#a0ff5f"/><stop offset="0.833" stop-color="#6fff90"/><stop offset="0.843" stop-color="#4fffb0"/><stop offset="0.854" stop-color="#46ffb9"/><stop offset="0.864" stop-color="#4cffb3"/><stop offset="0.875" stop-color="#5affa5"/><stop offset="0.885" stop-color="#6fff90"/><stop offset="0.895" stop-color="#8aff75"/><stop offset="0.906" stop-color="#a8ff57"/><stop offset="0.916" stop-color="#c7ff38"/><stop offset="0.927" stop-color="#e5ff1a"/><stop offset="0.937" stop-color="#fffc00"/><stop offset="0.948" stop-color="#ffe300"/><stop offset="0.958" stop-color="#ffcd00"/><stop offset="0.969" stop-color="#ffbc00"/><stop offset="0.979" stop-color="#ffad00"/><stop offset="0.99" stop-color="#ffa200"/><stop offset="1" stop-color="#ff9800"/></linearGradient><linearGradient id="r58" gradientUnits="userSpaceOnUse" x1="285.3" y1="0" x2="506.8" y2="0"><stop offset="0" stop-color="#ffbd00"/><stop offset="0.062" stop-color="#ffbb00"/><stop offset="0.124" stop-color="#ffb600"/><stop offset="0.186" stop-color="#ffb200"/><stop offset="0.248" stop-color="#ffac00"/><stop offset="0.31" stop-color="#ffa500"/><stop offset="0.371" stop-color="#ff9b00"/><stop offset="0.433" stop-color="#ff9400"/><stop offset="0.495" stop-color="#ffa400"/><stop offset="0.509" stop-color="#ffb300"/><stop offset="0.519" stop-color="#ffc300"/><stop offset="0.53" stop-color="#ffd800"/><stop offset="0.54" stop-color="#fff300"/><stop offset="0.551" stop-color="#eaff15"/><stop offset="0.561" stop-color="#c3ff3c"/><stop offset="0.572" stop-color="#95ff6a"/><stop offset="0.582" stop-color="#61ff9e"/><stop offset="0.592" stop-color="#27ffd8"/><stop offset="0.603" stop-color="#00eaff"/><stop offset="0.613" stop-color="#00abff"/><stop offset="0.624" stop-color="#006eff"/><stop offset="0.634" stop-color="#0034ff"/><stop offset="0.645" stop-color="#0000ff"/><stop offset="0.655" stop-color="#0000d4"/><stop offset="0.666" stop-color="#0000b4"/><stop offset="0.676" stop-color="#0000a1"/><stop offset="0.686" stop-color="#00009c"/><stop offset="0.697" stop-color="#0000bc"/><stop offset="0.707" stop-color="#0007ff"/><stop offset="0.718" stop-color="#006eff"/><stop offset="0.728" stop-color="#00e2ff"/><stop offset="0.739" stop-color="#54ffab"/><stop offset="0.749" stop-color="#b5ff4a"/><stop offset="0.76" stop-color="#fcff03"/><stop offset="0.77" stop-color="#ffd700"/><stop offset="0.781" stop-color="#ffc900"/><stop offset="0.791" stop-color="#ffd600"/><stop offset="0.801" stop-color="#fff900"/><stop offset="0.812" stop-color="#d4ff2b"/><stop offset="0.822" stop-color="#9eff61"/><stop offset="0.833" stop-color="#6eff91"/><stop offset="0.843" stop-color="#4effb1"/><stop offset="0.854" stop-color="#46ffb9"/><stop offset="0.864" stop-color="#4bffb4"/><stop offset="0.875" stop-color="#59ffa6"/><stop offset="0.885" stop-color="#6eff91"/><stop offset="0.895" stop-color="#88ff77"/><stop offset="0.906" stop-color="#a6ff59"/><stop offset="0.916" stop-color="#c5ff3a"/><stop offset="0.927" stop-color="#e3ff1c"/><stop offset="0.937" stop-color="#ffff00"/><stop offset="0.948" stop-color="#ffe600"/><stop offset="0.958" stop-color="#ffd100"/><stop offset="0.969" stop-color="#ffbf00"/><stop offset="0.979" stop-color="#ffb100"/><stop offset="0.99" stop-color="#ffa600"/><stop offset="1" stop-color="#ff9c00"/></linearGradient><linearGradient id="r59" gradientUnits="userSpaceOnUse" x1="285.3" y1="0" x2="506.8" y2="0"><stop offset="0" stop-color="#ffc300"/><stop offset="0.062" stop-color="#ffc100"/><stop offset="0.124" stop-color="#ffbc00"/><stop offset="0.186" stop-color="#ffb800"/><stop offset="0.248" stop-color="#ffb200"/><stop offset="0.31" stop-color="#ffab00"/><stop offset="0.371" stop-color="#ffa100"/><stop offset="0.433" stop-color="#ff9a00"/><stop offset="0.495" stop-color="#ffaa00"/><stop offset="0.509" stop-color="#ffb800"/><stop offset="0.519" stop-color="#ffc800"/><stop offset="0.53" stop-color="#ffdd00"/><stop offset="0.54" stop-color="#fff700"/><stop offset="0.551" stop-color="#e6ff19"/><stop offset="0.561" stop-color="#bfff40"/><stop offset="0.572" stop-color="#91ff6e"/><stop offset="0.582" stop-color="#5dffa2"/><stop offset="0.592" stop-color="#25ffda"/><stop offset="0.603" stop-color="#00e7ff"/><stop offset="0.613" stop-color="#00aaff"/><stop offset="0.624" stop-color="#006cff"/><stop offset="0.634" stop-color="#0033ff"/><stop offset="0.645" stop-color="#0000fe"/><stop offset="0.655" stop-color="#0000d3"/><stop offset="0.666" stop-color="#0000b3"/><stop offset="0.676" stop-color="#0000a1"/><stop offset="0.686" stop-color="#00009c"/><stop offset="0.697" stop-color="#0000bb"/><stop offset="0.707" stop-color="#0006ff"/><stop offset="0.718" stop-color="#006dff"/><stop offset="0.728" stop-color="#00e0ff"/><stop offset="0.739" stop-color="#52ffad"/><stop offset="0.749" stop-color="#b2ff4d"/><stop offset="0.76" stop-color="#f9ff06"/><stop offset="0.77" stop-color="#ffd900"/><stop offset="0.781" stop-color="#ffcb00"/><stop offset="0.791" stop-color="#ffd600"/><stop offset="0.801" stop-color="#fff600"/><stop offset="0.812" stop-color="#daff25"/><stop offset="0.822" stop-color="#a7ff58"/><stop offset="0.833" stop-color="#79ff86"/><stop offset="0.843" stop-color="#5bffa4"/><stop offset="0.854" stop-color="#53ffac"/><stop offset="0.864" stop-color="#59ffa6"/><stop offset="0.875" stop-color="#66ff99"/><stop offset="0.885" stop-color="#79ff86"/><stop offset="0.895" stop-color="#92ff6d"/><stop offset="0.906" stop-color="#aeff51"/><stop offset="0.916" stop-color="#cbff34"/><stop offset="0.927" stop-color="#e7ff18"/><stop offset="0.937" stop-color="#fffd00"/><stop offset="0.948" stop-color="#ffe500"/><stop offset="0.958" stop-color="#ffd100"/><stop offset="0.969" stop-color="#ffc100"/><stop offset="0.979" stop-color="#ffb300"/><stop offset="0.99" stop-color="#ffa900"/><stop offset="1" stop-color="#ffa000"/></linearGradient><linearGradient id="r60" gradientUnits="userSpaceOnUse" x1="285.3" y1="0" x2="506.8" y2="0"><stop offset="0" stop-color="#ffc900"/><stop offset="0.062" stop-color="#ffc700"/><stop offset="0.124" stop-color="#ffc200"/><stop offset="0.186" stop-color="#ffbe00"/><stop offset="0.248" stop-color="#ffb900"/><stop offset="0.31" stop-color="#ffb100"/><stop offset="0.371" stop-color="#ffa700"/><stop offset="0.433" stop-color="#ffa000"/><stop offset="0.495" stop-color="#ffaf00"/><stop offset="0.509" stop-color="#ffbe00"/><stop offset="0.519" stop-color="#ffcd00"/><stop offset="0.53" stop-color="#ffe200"/><stop offset="0.54" stop-color="#fffc00"/><stop offset="0.551" stop-color="#e2ff1d"/><stop offset="0.561" stop-color="#bbff44"/><stop offset="0.572" stop-color="#8eff71"/><stop offset="0.582" stop-color="#5affa5"/><stop offset="0.592" stop-color="#22ffdd"/><stop offset="0.603" stop-color="#00e5ff"/><stop offset="0.613" stop-color="#00a8ff"/><stop offset="0.624" stop-color="#006bff"/><stop offset="0.634" stop-color="#0032ff"/><stop offset="0.645" stop-color="#0000fd"/><stop offset="0.655" stop-color="#0000d3"/><stop offset="0.666" stop-color="#0000b3"/><stop offset="0.676" stop-color="#0000a0"/><stop offset="0.686" stop-color="#00009c"/><stop offset="0.697" stop-color="#0000bb"/><stop offset="0.707" stop-color="#0005ff"/><stop offset="0.718" stop-color="#006bff"/><stop offset="0.728" stop-color="#00deff"/><stop offset="0.739" stop-color="#4fffb0"/><stop offset="0.749" stop-color="#afff50"/><stop offset="0.76" stop-color="#f7ff08"/><stop offset="0.77" stop-color="#ffdb00"/><stop offset="0.781" stop-color="#ffca00"/><stop offset="0.791" stop-color="#ffd200"/><stop offset="0.801" stop-color="#ffed00"/><stop offset="0.812" stop-color="#e7ff18"/><stop offset="0.822" stop-color="#baff45"/><stop offset="0.833" stop-color="#91ff6e"/><stop offset="0.843" stop-color="#75ff8a"/><stop offset="0.854" stop-color="#6eff91"/><stop offset="0.864" stop-color="#73ff8c"/><stop offset="0.875" stop-color="#7fff80"/><stop offset="0.885" stop-color="#90ff6f"/><stop offset="0.895" stop-color="#a6ff59"/><stop offset="0.906" stop-color="#bfff40"/><stop offset="0.916" stop-color="#d9ff26"/><stop offset="0.927" stop-color="#f2ff0d"/><stop offset="0.937" stop-color="#fff500"/><stop offset="0.948" stop-color="#ffe000"/><stop offset="0.958" stop-color="#ffce00"/><stop offset="0.969" stop-color="#ffc000"/><stop offset="0.979" stop-color="#ffb400"/><stop offset="0.99" stop-color="#ffab00"/><stop offset="1" stop-color="#ffa300"/></linearGradient><linearGradient id="r61" gradientUnits="userSpaceOnUse" x1="285.3" y1="0" x2="506.8" y2="0"><stop offset="0" stop-color="#ffcf00"/><stop offset="0.062" stop-color="#ffcd00"/><stop offset="0.124" stop-color="#ffc800"/><stop offset="0.186" stop-color="#ffc400"/><stop offset="0.248" stop-color="#ffbf00"/><stop offset="0.31" stop-color="#ffb700"/><stop offset="0.371" stop-color="#ffad00"/><stop offset="0.433" stop-color="#ffa600"/><stop offset="0.495" stop-color="#ffb500"/><stop offset="0.509" stop-color="#ffc300"/><stop offset="0.519" stop-color="#ffd200"/><stop offset="0.53" stop-color="#ffe700"/><stop offset="0.54" stop-color="#fdff02"/><stop offset="0.551" stop-color="#ddff22"/><stop offset="0.561" stop-color="#b7ff48"/><stop offset="0.572" stop-color="#8aff75"/><stop offset="0.582" stop-color="#57ffa8"/><stop offset="0.592" stop-color="#1fffe0"/><stop offset="0.603" stop-color="#00e3ff"/><stop offset="0.613" stop-color="#00a6ff"/><stop offset="0.624" stop-color="#0069ff"/><stop offset="0.634" stop-color="#0030ff"/><stop offset="0.645" stop-color="#0000fc"/><stop offset="0.655" stop-color="#0000d2"/><stop offset="0.666" stop-color="#0000b3"/><stop offset="0.676" stop-color="#0000a0"/><stop offset="0.686" stop-color="#00009c"/><stop offset="0.697" stop-color="#0000bb"/><stop offset="0.707" stop-color="#0004ff"/><stop offset="0.718" stop-color="#006aff"/><stop offset="0.728" stop-color="#00dcff"/><stop offset="0.739" stop-color="#4dffb2"/><stop offset="0.749" stop-color="#acff53"/><stop offset="0.76" stop-color="#f5ff0a"/><stop offset="0.77" stop-color="#ffdb00"/><stop offset="0.781" stop-color="#ffc700"/><stop offset="0.791" stop-color="#ffcb00"/><stop offset="0.801" stop-color="#ffe100"/><stop offset="0.812" stop-color="#faff05"/><stop offset="0.822" stop-color="#d3ff2c"/><stop offset="0.833" stop-color="#b0ff4f"/><stop offset="0.843" stop-color="#99ff66"/><stop offset="0.854" stop-color="#93ff6c"/><stop offset="0.864" stop-color="#97ff68"/><stop offset="0.875" stop-color="#a1ff5e"/><stop offset="0.885" stop-color="#afff50"/><stop offset="0.895" stop-color="#c2ff3d"/><stop offset="0.906" stop-color="#d7ff28"/><stop offset="0.916" stop-color="#ecff13"/><stop offset="0.927" stop-color="#fffd00"/><stop offset="0.937" stop-color="#ffe900"/><stop offset="0.948" stop-color="#ffd800"/><stop offset="0.958" stop-color="#ffc900"/><stop offset="0.969" stop-color="#ffbd00"/><stop offset="0.979" stop-color="#ffb300"/><stop offset="0.99" stop-color="#ffab00"/><stop offset="1" stop-color="#ffa500"/></linearGradient><linearGradient id="r62" gradientUnits="userSpaceOnUse" x1="285.3" y1="0" x2="506.8" y2="0"><stop offset="0" stop-color="#ffd600"/><stop offset="0.062" stop-color="#ffd300"/><stop offset="0.124" stop-color="#ffcf00"/><stop offset="0.186" stop-color="#ffcb00"/><stop offset="0.248" stop-color="#ffc500"/><stop offset="0.31" stop-color="#ffbd00"/><stop offset="0.371" stop-color="#ffb400"/><stop offset="0.433" stop-color="#ffac00"/><stop offset="0.495" stop-color="#ffbb00"/><stop offset="0.509" stop-color="#ffc900"/><stop offset="0.519" stop-color="#ffd800"/><stop offset="0.53" stop-color="#ffec00"/><stop offset="0.54" stop-color="#f9ff06"/><stop offset="0.551" stop-color="#d9ff26"/><stop offset="0.561" stop-color="#b3ff4c"/><stop offset="0.572" stop-color="#86ff79"/><stop offset="0.582" stop-color="#54ffab"/><stop offset="0.592" stop-color="#1dffe2"/><stop offset="0.603" stop-color="#00e1ff"/><stop offset="0.613" stop-color="#00a4ff"/><stop offset="0.624" stop-color="#0068ff"/><stop offset="0.634" stop-color="#0030ff"/><stop offset="0.645" stop-color="#0000fc"/><stop offset="0.655" stop-color="#0000d2"/><stop offset="0.666" stop-color="#0000b3"/><stop offset="0.676" stop-color="#0000a1"/><stop offset="0.686" stop-color="#00009c"/><stop offset="0.697" stop-color="#0000bb"/><stop offset="0.707" stop-color="#0004ff"/><stop offset="0.718" stop-color="#0069ff"/><stop offset="0.728" stop-color="#00dbff"/><stop offset="0.739" stop-color="#4affb5"/><stop offset="0.749" stop-color="#aaff55"/><stop offset="0.76" stop-color="#f3ff0c"/><stop offset="0.77" stop-color="#ffdb00"/><stop offset="0.781" stop-color="#ffc400"/><stop offset="0.791" stop-color="#ffc300"/><stop offset="0.801" stop-color="#ffd300"/><stop offset="0.812" stop-color="#ffee00"/><stop offset="0.822" stop-color="#f1ff0e"/><stop offset="0.833" stop-color="#d4ff2b"/><stop offset="0.843" stop-color="#c1ff3e"/><stop offset="0.854" stop-color="#bcff43"/><stop offset="0.864" stop-color="#bfff40"/><stop offset="0.875" stop-color="#c7ff38"/><stop offset="0.885" stop-color="#d3ff2c"/><stop offset="0.895" stop-color="#e1ff1e"/><stop offset="0.906" stop-color="#f2ff0d"/><stop offset="0.916" stop-color="#fffc00"/><stop offset="0.927" stop-color="#ffeb00"/><stop offset="0.937" stop-color="#ffdc00"/><stop offset="0.948" stop-color="#ffce00"/><stop offset="0.958" stop-color="#ffc300"/><stop offset="0.969" stop-color="#ffba00"/><stop offset="0.979" stop-color="#ffb200"/><stop offset="0.99" stop-color="#ffac00"/><stop offset="1" stop-color="#ffa700"/></linearGradient><linearGradient id="r63" gradientUnits="userSpaceOnUse" x1="285.3" y1="0" x2="506.8" y2="0"><stop offset="0" stop-color="#ffdc00"/><stop offset="0.062" stop-color="#ffda00"/><stop offset="0.124" stop-color="#ffd500"/><stop offset="0.186" stop-color="#ffd100"/><stop offset="0.248" stop-color="#ffcb00"/><stop offset="0.31" stop-color="#ffc300"/><stop offset="0.371" stop-color="#ffba00"/><stop offset="0.433" stop-color="#ffb300"/><stop offset="0.495" stop-color="#ffc000"/><stop offset="0.509" stop-color="#ffce00"/><stop offset="0.519" stop-color="#ffdc00"/><stop offset="0.53" stop-color="#fff000"/><stop offset="0.54" stop-color="#f5ff0a"/><stop offset="0.551" stop-color="#d6ff29"/><stop offset="0.561" stop-color="#b0ff4f"/><stop offset="0.572" stop-color="#85ff7a"/><stop offset="0.582" stop-color="#53ffac"/><stop offset="0.592" stop-color="#1dffe2"/><stop offset="0.603" stop-color="#00e2ff"/><stop offset="0.613" stop-color="#00a7ff"/><stop offset="0.624" stop-color="#006cff"/><stop offset="0.634" stop-color="#0034ff"/><stop offset="0.645" stop-color="#0002ff"/><stop offset="0.655" stop-color="#0000d8"/><stop offset="0.666" stop-color="#0000b9"/><stop offset="0.676" stop-color="#0000a7"/><stop offset="0.686" stop-color="#0000a3"/><stop offset="0.697" stop-color="#0000c1"/><stop offset="0.707" stop-color="#0009ff"/><stop offset="0.718" stop-color="#006cff"/><stop offset="0.728" stop-color="#00dcff"/><stop offset="0.739" stop-color="#4bffb4"/><stop offset="0.749" stop-color="#a9ff56"/><stop offset="0.76" stop-color="#f2ff0d"/><stop offset="0.77" stop-color="#ffdb00"/><stop offset="0.781" stop-color="#ffc100"/><stop offset="0.791" stop-color="#ffbb00"/><stop offset="0.801" stop-color="#ffc500"/><stop offset="0.812" stop-color="#ffd800"/><stop offset="0.822" stop-color="#fff000"/><stop offset="0.833" stop-color="#f8ff07"/><stop offset="0.843" stop-color="#e9ff16"/><stop offset="0.854" stop-color="#e5ff1a"/><stop offset="0.864" stop-color="#e8ff17"/><stop offset="0.875" stop-color="#edff12"/><stop offset="0.885" stop-color="#f6ff09"/><stop offset="0.895" stop-color="#fffe00"/><stop offset="0.906" stop-color="#fff200"/><stop offset="0.916" stop-color="#ffe500"/><stop offset="0.927" stop-color="#ffda00"/><stop offset="0.937" stop-color="#ffcf00"/><stop offset="0.948" stop-color="#ffc500"/><stop offset="0.958" stop-color="#ffbd00"/><stop offset="0.969" stop-color="#ffb700"/><stop offset="0.979" stop-color="#ffb100"/><stop offset="0.99" stop-color="#ffad00"/><stop offset="1" stop-color="#ffa900"/></linearGradient><linearGradient id="r64" gradientUnits="userSpaceOnUse" x1="285.3" y1="0" x2="506.8" y2="0"><stop offset="0" stop-color="#ffe200"/><stop offset="0.062" stop-color="#ffe000"/><stop offset="0.124" stop-color="#ffdb00"/><stop offset="0.186" stop-color="#ffd800"/><stop offset="0.248" stop-color="#ffd200"/><stop offset="0.31" stop-color="#ffca00"/><stop offset="0.371" stop-color="#ffc000"/><stop offset="0.433" stop-color="#ffb900"/><stop offset="0.495" stop-color="#ffc600"/><stop offset="0.509" stop-color="#ffd300"/><stop offset="0.519" stop-color="#ffe100"/><stop offset="0.53" stop-color="#fff400"/><stop offset="0.54" stop-color="#f2ff0d"/><stop offset="0.551" stop-color="#d4ff2b"/><stop offset="0.561" stop-color="#b0ff4f"/><stop offset="0.572" stop-color="#85ff7a"/><stop offset="0.582" stop-color="#55ffaa"/><stop offset="0.592" stop-color="#20ffdf"/><stop offset="0.603" stop-color="#00e7ff"/><stop offset="0.613" stop-color="#00adff"/><stop offset="0.624" stop-color="#0074ff"/><stop offset="0.634" stop-color="#003dff"/><stop offset="0.645" stop-color="#000dff"/><stop offset="0.655" stop-color="#0000e4"/><stop offset="0.666" stop-color="#0000c6"/><stop offset="0.676" stop-color="#0000b4"/><stop offset="0.686" stop-color="#0000b0"/><stop offset="0.697" stop-color="#0000cd"/><stop offset="0.707" stop-color="#0013ff"/><stop offset="0.718" stop-color="#0074ff"/><stop offset="0.728" stop-color="#00e2ff"/><stop offset="0.739" stop-color="#4effb1"/><stop offset="0.749" stop-color="#abff54"/><stop offset="0.76" stop-color="#f3ff0c"/><stop offset="0.77" stop-color="#ffda00"/><stop offset="0.781" stop-color="#ffbe00"/><stop offset="0.791" stop-color="#ffb400"/><stop offset="0.801" stop-color="#ffb800"/><stop offset="0.812" stop-color="#ffc500"/><stop offset="0.822" stop-color="#ffd600"/><stop offset="0.833" stop-color="#ffe600"/><stop offset="0.843" stop-color="#fff100"/><stop offset="0.854" stop-color="#fff400"/><stop offset="0.864" stop-color="#fff200"/><stop offset="0.875" stop-color="#ffee00"/><stop offset="0.885" stop-color="#ffe900"/><stop offset="0.895" stop-color="#ffe200"/><stop offset="0.906" stop-color="#ffda00"/><stop offset="0.916" stop-color="#ffd200"/><stop offset="0.927" stop-color="#ffca00"/><stop offset="0.937" stop-color="#ffc300"/><stop offset="0.948" stop-color="#ffbd00"/><stop offset="0.958" stop-color="#ffb800"/><stop offset="0.969" stop-color="#ffb400"/><stop offset="0.979" stop-color="#ffb100"/><stop offset="0.99" stop-color="#ffae00"/><stop offset="1" stop-color="#ffab00"/></linearGradient><linearGradient id="r65" gradientUnits="userSpaceOnUse" x1="285.3" y1="0" x2="506.8" y2="0"><stop offset="0" stop-color="#ffe900"/><stop offset="0.062" stop-color="#ffe700"/><stop offset="0.124" stop-color="#ffe200"/><stop offset="0.186" stop-color="#ffde00"/><stop offset="0.248" stop-color="#ffd800"/><stop offset="0.31" stop-color="#ffd000"/><stop offset="0.371" stop-color="#ffc700"/><stop offset="0.433" stop-color="#ffbf00"/><stop offset="0.495" stop-color="#ffcb00"/><stop offset="0.509" stop-color="#ffd700"/><stop offset="0.519" stop-color="#ffe500"/><stop offset="0.53" stop-color="#fff700"/><stop offset="0.54" stop-color="#f0ff0f"/><stop offset="0.551" stop-color="#d3ff2c"/><stop offset="0.561" stop-color="#b0ff4f"/><stop offset="0.572" stop-color="#87ff78"/><stop offset="0.582" stop-color="#59ffa6"/><stop offset="0.592" stop-color="#26ffd9"/><stop offset="0.603" stop-color="#00efff"/><stop offset="0.613" stop-color="#00b7ff"/><stop offset="0.624" stop-color="#007fff"/><stop offset="0.634" stop-color="#004bff"/><stop offset="0.645" stop-color="#001cff"/><stop offset="0.655" stop-color="#0000f4"/><stop offset="0.666" stop-color="#0000d8"/><stop offset="0.676" stop-color="#0000c6"/><stop offset="0.686" stop-color="#0000c2"/><stop offset="0.697" stop-color="#0000df"/><stop offset="0.707" stop-color="#0023ff"/><stop offset="0.718" stop-color="#0081ff"/><stop offset="0.728" stop-color="#00ebff"/><stop offset="0.739" stop-color="#53ffac"/><stop offset="0.749" stop-color="#adff52"/><stop offset="0.76" stop-color="#f4ff0b"/><stop offset="0.77" stop-color="#ffd900"/><stop offset="0.781" stop-color="#ffbb00"/><stop offset="0.791" stop-color="#ffae00"/><stop offset="0.801" stop-color="#ffae00"/><stop offset="0.812" stop-color="#ffb500"/><stop offset="0.822" stop-color="#ffc000"/><stop offset="0.833" stop-color="#ffcb00"/><stop offset="0.843" stop-color="#ffd300"/><stop offset="0.854" stop-color="#ffd500"/><stop offset="0.864" stop-color="#ffd400"/><stop offset="0.875" stop-color="#ffd200"/><stop offset="0.885" stop-color="#ffce00"/><stop offset="0.895" stop-color="#ffca00"/><stop offset="0.906" stop-color="#ffc600"/><stop offset="0.916" stop-color="#ffc200"/><stop offset="0.927" stop-color="#ffbd00"/><stop offset="0.937" stop-color="#ffba00"/><stop offset="0.948" stop-color="#ffb700"/><stop offset="0.958" stop-color="#ffb400"/><stop offset="0.969" stop-color="#ffb300"/><stop offset="0.979" stop-color="#ffb100"/><stop offset="0.99" stop-color="#ffb000"/><stop offset="1" stop-color="#ffae00"/></linearGradient><linearGradient id="r66" gradientUnits="userSpaceOnUse" x1="285.3" y1="0" x2="506.8" y2="0"><stop offset="0" stop-color="#fff000"/><stop offset="0.062" stop-color="#ffed00"/><stop offset="0.124" stop-color="#ffe900"/><stop offset="0.186" stop-color="#ffe500"/><stop offset="0.248" stop-color="#ffdf00"/><stop offset="0.31" stop-color="#ffd700"/><stop offset="0.371" stop-color="#ffcd00"/><stop offset="0.433" stop-color="#ffc600"/><stop offset="0.495" stop-color="#ffd000"/><stop offset="0.509" stop-color="#ffdb00"/><stop offset="0.519" stop-color="#ffe800"/><stop offset="0.53" stop-color="#fff900"/><stop offset="0.54" stop-color="#efff10"/><stop offset="0.551" stop-color="#d3ff2c"/><stop offset="0.561" stop-color="#b2ff4d"/><stop offset="0.572" stop-color="#8bff74"/><stop offset="0.582" stop-color="#5fffa0"/><stop offset="0.592" stop-color="#2effd1"/><stop offset="0.603" stop-color="#00faff"/><stop offset="0.613" stop-color="#00c4ff"/><stop offset="0.624" stop-color="#008fff"/><stop offset="0.634" stop-color="#005dff"/><stop offset="0.645" stop-color="#0030ff"/><stop offset="0.655" stop-color="#000bff"/><stop offset="0.666" stop-color="#0000ef"/><stop offset="0.676" stop-color="#0000de"/><stop offset="0.686" stop-color="#0000da"/><stop offset="0.697" stop-color="#0000f6"/><stop offset="0.707" stop-color="#0037ff"/><stop offset="0.718" stop-color="#0091ff"/><stop offset="0.728" stop-color="#00f6ff"/><stop offset="0.739" stop-color="#5bffa4"/><stop offset="0.749" stop-color="#b2ff4d"/><stop offset="0.76" stop-color="#f6ff09"/><stop offset="0.77" stop-color="#ffd800"/><stop offset="0.781" stop-color="#ffba00"/><stop offset="0.791" stop-color="#ffab00"/><stop offset="0.801" stop-color="#ffa600"/><stop offset="0.812" stop-color="#ffa900"/><stop offset="0.822" stop-color="#ffb000"/><stop offset="0.833" stop-color="#ffb700"/><stop offset="0.843" stop-color="#ffbc00"/><stop offset="0.854" stop-color="#ffbd00"/><stop offset="0.864" stop-color="#ffbd00"/><stop offset="0.875" stop-color="#ffbc00"/><stop offset="0.885" stop-color="#ffbb00"/><stop offset="0.895" stop-color="#ffb900"/><stop offset="0.906" stop-color="#ffb700"/><stop offset="0.916" stop-color="#ffb600"/><stop offset="0.927" stop-color="#ffb500"/><stop offset="0.937" stop-color="#ffb400"/><stop offset="0.948" stop-color="#ffb300"/><stop offset="0.969" stop-color="#ffb300"/><stop offset="0.979" stop-color="#ffb200"/><stop offset="0.99" stop-color="#ffb200"/><stop offset="1" stop-color="#ffb100"/></linearGradient><linearGradient id="r67" gradientUnits="userSpaceOnUse" x1="285.3" y1="0" x2="506.8" y2="0"><stop offset="0" stop-color="#fff600"/><stop offset="0.062" stop-color="#fff400"/><stop offset="0.124" stop-color="#ffef00"/><stop offset="0.186" stop-color="#ffeb00"/><stop offset="0.248" stop-color="#ffe600"/><stop offset="0.31" stop-color="#ffde00"/><stop offset="0.371" stop-color="#ffd400"/><stop offset="0.433" stop-color="#ffcc00"/><stop offset="0.495" stop-color="#ffd500"/><stop offset="0.509" stop-color="#ffdf00"/><stop offset="0.519" stop-color="#ffeb00"/><stop offset="0.53" stop-color="#fffb00"/><stop offset="0.54" stop-color="#eeff11"/><stop offset="0.551" stop-color="#d5ff2a"/><stop offset="0.561" stop-color="#b5ff4a"/><stop offset="0.572" stop-color="#91ff6e"/><stop offset="0.582" stop-color="#67ff98"/><stop offset="0.592" stop-color="#39ffc6"/><stop offset="0.603" stop-color="#08fff7"/><stop offset="0.613" stop-color="#00d4ff"/><stop offset="0.624" stop-color="#00a2ff"/><stop offset="0.634" stop-color="#0073ff"/><stop offset="0.645" stop-color="#0048ff"/><stop offset="0.655" stop-color="#0025ff"/><stop offset="0.666" stop-color="#000bff"/><stop offset="0.676" stop-color="#0000fa"/><stop offset="0.686" stop-color="#0000f7"/><stop offset="0.697" stop-color="#0012ff"/><stop offset="0.707" stop-color="#004fff"/><stop offset="0.718" stop-color="#00a4ff"/><stop offset="0.728" stop-color="#06fff9"/><stop offset="0.739" stop-color="#64ff9b"/><stop offset="0.749" stop-color="#b7ff48"/><stop offset="0.76" stop-color="#f8ff07"/><stop offset="0.77" stop-color="#ffd700"/><stop offset="0.781" stop-color="#ffb900"/><stop offset="0.791" stop-color="#ffa900"/><stop offset="0.801" stop-color="#ffa200"/><stop offset="0.812" stop-color="#ffa200"/><stop offset="0.822" stop-color="#ffa500"/><stop offset="0.833" stop-color="#ffa900"/><stop offset="0.843" stop-color="#ffac00"/><stop offset="0.854" stop-color="#ffad00"/><stop offset="0.885" stop-color="#ffad00"/><stop offset="0.895" stop-color="#ffae00"/><stop offset="0.906" stop-color="#ffae00"/><stop offset="0.916" stop-color="#ffaf00"/><stop offset="0.927" stop-color="#ffaf00"/><stop offset="0.937" stop-color="#ffb000"/><stop offset="0.948" stop-color="#ffb200"/><stop offset="0.958" stop-color="#ffb300"/><stop offset="0.969" stop-color="#ffb400"/><stop offset="0.979" stop-color="#ffb500"/><stop offset="1" stop-color="#ffb500"/></linearGradient><linearGradient id="r68" gradientUnits="userSpaceOnUse" x1="285.3" y1="0" x2="506.8" y2="0"><stop offset="0" stop-color="#fffd00"/><stop offset="0.062" stop-color="#fffb00"/><stop offset="0.124" stop-color="#fff600"/><stop offset="0.186" stop-color="#fff200"/><stop offset="0.248" stop-color="#ffec00"/><stop offset="0.31" stop-color="#ffe400"/><stop offset="0.371" stop-color="#ffdb00"/><stop offset="0.433" stop-color="#ffd300"/><stop offset="0.495" stop-color="#ffda00"/><stop offset="0.509" stop-color="#ffe300"/><stop offset="0.519" stop-color="#ffee00"/><stop offset="0.53" stop-color="#fffd00"/><stop offset="0.54" stop-color="#eeff11"/><stop offset="0.551" stop-color="#d6ff29"/><stop offset="0.561" stop-color="#b9ff46"/><stop offset="0.572" stop-color="#97ff68"/><stop offset="0.582" stop-color="#70ff8f"/><stop offset="0.592" stop-color="#45ffba"/><stop offset="0.603" stop-color="#17ffe8"/><stop offset="0.613" stop-color="#00e7ff"/><stop offset="0.624" stop-color="#00b8ff"/><stop offset="0.634" stop-color="#008bff"/><stop offset="0.645" stop-color="#0064ff"/><stop offset="0.655" stop-color="#0042ff"/><stop offset="0.666" stop-color="#002aff"/><stop offset="0.676" stop-color="#001bff"/><stop offset="0.686" stop-color="#0018ff"/><stop offset="0.697" stop-color="#0030ff"/><stop offset="0.707" stop-color="#006aff"/><stop offset="0.718" stop-color="#00baff"/><stop offset="0.728" stop-color="#16ffe9"/><stop offset="0.739" stop-color="#6fff90"/><stop offset="0.749" stop-color="#bdff42"/><stop offset="0.76" stop-color="#fbff04"/><stop offset="0.77" stop-color="#ffd600"/><stop offset="0.781" stop-color="#ffb900"/><stop offset="0.791" stop-color="#ffa800"/><stop offset="0.801" stop-color="#ffa000"/><stop offset="0.812" stop-color="#ff9e00"/><stop offset="0.822" stop-color="#ff9f00"/><stop offset="0.833" stop-color="#ffa100"/><stop offset="0.843" stop-color="#ffa300"/><stop offset="0.854" stop-color="#ffa300"/><stop offset="0.864" stop-color="#ffa400"/><stop offset="0.875" stop-color="#ffa400"/><stop offset="0.885" stop-color="#ffa600"/><stop offset="0.895" stop-color="#ffa700"/><stop offset="0.906" stop-color="#ffa900"/><stop offset="0.916" stop-color="#ffab00"/><stop offset="0.927" stop-color="#ffad00"/><stop offset="0.937" stop-color="#ffb000"/><stop offset="0.948" stop-color="#ffb200"/><stop offset="0.958" stop-color="#ffb400"/><stop offset="0.969" stop-color="#ffb700"/><stop offset="0.979" stop-color="#ffb800"/><stop offset="0.99" stop-color="#ffb900"/><stop offset="1" stop-color="#ffb900"/></linearGradient><linearGradient id="r69" gradientUnits="userSpaceOnUse" x1="285.3" y1="0" x2="506.8" y2="0"><stop offset="0" stop-color="#faff05"/><stop offset="0.062" stop-color="#fdff02"/><stop offset="0.124" stop-color="#fffd00"/><stop offset="0.186" stop-color="#fff900"/><stop offset="0.248" stop-color="#fff300"/><stop offset="0.31" stop-color="#ffeb00"/><stop offset="0.371" stop-color="#ffe200"/><stop offset="0.433" stop-color="#ffd900"/><stop offset="0.495" stop-color="#ffde00"/><stop offset="0.509" stop-color="#ffe700"/><stop offset="0.519" stop-color="#fff000"/><stop offset="0.53" stop-color="#fffe00"/><stop offset="0.54" stop-color="#efff10"/><stop offset="0.551" stop-color="#d9ff26"/><stop offset="0.561" stop-color="#beff41"/><stop offset="0.572" stop-color="#9eff61"/><stop offset="0.582" stop-color="#7aff85"/><stop offset="0.592" stop-color="#53ffac"/><stop offset="0.603" stop-color="#28ffd7"/><stop offset="0.613" stop-color="#00fbff"/><stop offset="0.624" stop-color="#00cfff"/><stop offset="0.634" stop-color="#00a6ff"/><stop offset="0.645" stop-color="#0081ff"/><stop offset="0.655" stop-color="#0062ff"/><stop offset="0.666" stop-color="#004cff"/><stop offset="0.676" stop-color="#003eff"/><stop offset="0.686" stop-color="#003bff"/><stop offset="0.697" stop-color="#0052ff"/><stop offset="0.707" stop-color="#0087ff"/><stop offset="0.718" stop-color="#00d3ff"/><stop offset="0.728" stop-color="#28ffd7"/><stop offset="0.739" stop-color="#7bff84"/><stop offset="0.749" stop-color="#c4ff3b"/><stop offset="0.76" stop-color="#feff01"/><stop offset="0.77" stop-color="#ffd600"/><stop offset="0.781" stop-color="#ffba00"/><stop offset="0.791" stop-color="#ffa900"/><stop offset="0.801" stop-color="#ffa100"/><stop offset="0.812" stop-color="#ff9d00"/><stop offset="0.822" stop-color="#ff9d00"/><stop offset="0.833" stop-color="#ff9e00"/><stop offset="0.843" stop-color="#ff9e00"/><stop offset="0.854" stop-color="#ff9f00"/><stop offset="0.864" stop-color="#ff9f00"/><stop offset="0.875" stop-color="#ffa000"/><stop offset="0.885" stop-color="#ffa200"/><stop offset="0.895" stop-color="#ffa400"/><stop offset="0.906" stop-color="#ffa700"/><stop offset="0.916" stop-color="#ffaa00"/><stop offset="0.927" stop-color="#ffae00"/><stop offset="0.937" stop-color="#ffb100"/><stop offset="0.948" stop-color="#ffb400"/><stop offset="0.958" stop-color="#ffb700"/><stop offset="0.969" stop-color="#ffba00"/><stop offset="0.979" stop-color="#ffbc00"/><stop offset="0.99" stop-color="#ffbd00"/><stop offset="1" stop-color="#ffbe00"/></linearGradient><linearGradient id="r70" gradientUnits="userSpaceOnUse" x1="285.3" y1="0" x2="506.8" y2="0"><stop offset="0" stop-color="#f3ff0c"/><stop offset="0.062" stop-color="#f6ff09"/><stop offset="0.124" stop-color="#faff05"/><stop offset="0.186" stop-color="#feff01"/><stop offset="0.248" stop-color="#fffa00"/><stop offset="0.31" stop-color="#fff200"/><stop offset="0.371" stop-color="#ffe800"/><stop offset="0.433" stop-color="#ffe000"/><stop offset="0.495" stop-color="#ffe300"/><stop offset="0.509" stop-color="#ffea00"/><stop offset="0.519" stop-color="#fff300"/><stop offset="0.53" stop-color="#ffff00"/><stop offset="0.54" stop-color="#efff10"/><stop offset="0.551" stop-color="#dbff24"/><stop offset="0.561" stop-color="#c3ff3c"/><stop offset="0.572" stop-color="#a6ff59"/><stop offset="0.582" stop-color="#85ff7a"/><stop offset="0.592" stop-color="#61ff9e"/><stop offset="0.603" stop-color="#3affc5"/><stop offset="0.613" stop-color="#11ffee"/><stop offset="0.624" stop-color="#00e8ff"/><stop offset="0.634" stop-color="#00c2ff"/><stop offset="0.645" stop-color="#00a0ff"/><stop offset="0.655" stop-color="#0084ff"/><stop offset="0.666" stop-color="#006fff"/><stop offset="0.676" stop-color="#0063ff"/><stop offset="0.686" stop-color="#0060ff"/><stop offset="0.697" stop-color="#0075ff"/><stop offset="0.707" stop-color="#00a7ff"/><stop offset="0.718" stop-color="#00ecff"/><stop offset="0.728" stop-color="#3cffc3"/><stop offset="0.739" stop-color="#88ff77"/><stop offset="0.749" stop-color="#ccff33"/><stop offset="0.76" stop-color="#fffc00"/><stop offset="0.77" stop-color="#ffd500"/><stop offset="0.781" stop-color="#ffbb00"/><stop offset="0.791" stop-color="#ffab00"/><stop offset="0.801" stop-color="#ffa300"/><stop offset="0.812" stop-color="#ff9f00"/><stop offset="0.822" stop-color="#ff9d00"/><stop offset="0.833" stop-color="#ff9d00"/><stop offset="0.843" stop-color="#ff9e00"/><stop offset="0.864" stop-color="#ff9e00"/><stop offset="0.875" stop-color="#ffa000"/><stop offset="0.885" stop-color="#ffa200"/><stop offset="0.895" stop-color="#ffa500"/><stop offset="0.906" stop-color="#ffa800"/><stop offset="0.916" stop-color="#ffac00"/><stop offset="0.927" stop-color="#ffb000"/><stop offset="0.937" stop-color="#ffb400"/><stop offset="0.948" stop-color="#ffb800"/><stop offset="0.958" stop-color="#ffbb00"/><stop offset="0.969" stop-color="#ffbe00"/><stop offset="0.979" stop-color="#ffc100"/><stop offset="0.99" stop-color="#ffc200"/><stop offset="1" stop-color="#ffc300"/></linearGradient><linearGradient id="r71" gradientUnits="userSpaceOnUse" x1="285.3" y1="0" x2="506.8" y2="0"><stop offset="0" stop-color="#edff12"/><stop offset="0.062" stop-color="#efff10"/><stop offset="0.124" stop-color="#f4ff0b"/><stop offset="0.186" stop-color="#f7ff08"/><stop offset="0.248" stop-color="#fdff02"/><stop offset="0.31" stop-color="#fff900"/><stop offset="0.371" stop-color="#ffef00"/><stop offset="0.433" stop-color="#ffe700"/><stop offset="0.495" stop-color="#ffe800"/><stop offset="0.509" stop-color="#ffee00"/><stop offset="0.519" stop-color="#fff500"/><stop offset="0.53" stop-color="#feff01"/><stop offset="0.54" stop-color="#f0ff0f"/><stop offset="0.551" stop-color="#deff21"/><stop offset="0.561" stop-color="#c8ff37"/><stop offset="0.572" stop-color="#aeff51"/><stop offset="0.582" stop-color="#91ff6e"/><stop offset="0.592" stop-color="#70ff8f"/><stop offset="0.603" stop-color="#4cffb3"/><stop offset="0.613" stop-color="#28ffd7"/><stop offset="0.624" stop-color="#03fffc"/><stop offset="0.634" stop-color="#00e0ff"/><stop offset="0.645" stop-color="#00c1ff"/><stop offset="0.655" stop-color="#00a7ff"/><stop offset="0.666" stop-color="#0094ff"/><stop offset="0.676" stop-color="#0088ff"/><stop offset="0.686" stop-color="#0086ff"/><stop offset="0.697" stop-color="#0099ff"/><stop offset="0.707" stop-color="#00c7ff"/><stop offset="0.718" stop-color="#07fff8"/><stop offset="0.728" stop-color="#4fffb0"/><stop offset="0.739" stop-color="#96ff69"/><stop offset="0.749" stop-color="#d4ff2b"/><stop offset="0.76" stop-color="#fff900"/><stop offset="0.77" stop-color="#ffd500"/><stop offset="0.781" stop-color="#ffbd00"/><stop offset="0.791" stop-color="#ffae00"/><stop offset="0.801" stop-color="#ffa600"/><stop offset="0.812" stop-color="#ffa200"/><stop offset="0.822" stop-color="#ffa000"/><stop offset="0.833" stop-color="#ff9f00"/><stop offset="0.854" stop-color="#ff9f00"/><stop offset="0.864" stop-color="#ffa000"/><stop offset="0.875" stop-color="#ffa200"/><stop offset="0.885" stop-color="#ffa400"/><stop offset="0.895" stop-color="#ffa700"/><stop offset="0.906" stop-color="#ffab00"/><stop offset="0.916" stop-color="#ffaf00"/><stop offset="0.927" stop-color="#ffb300"/><stop offset="0.937" stop-color="#ffb800"/><stop offset="0.948" stop-color="#ffbc00"/><stop offset="0.958" stop-color="#ffc000"/><stop offset="0.969" stop-color="#ffc300"/><stop offset="0.979" stop-color="#ffc600"/><stop offset="0.99" stop-color="#ffc700"/><stop offset="1" stop-color="#ffc800"/></linearGradient><linearGradient id="r72" gradientUnits="userSpaceOnUse" x1="285.3" y1="0" x2="506.8" y2="0"><stop offset="0" stop-color="#e6ff19"/><stop offset="0.062" stop-color="#e8ff17"/><stop offset="0.124" stop-color="#edff12"/><stop offset="0.186" stop-color="#f0ff0f"/><stop offset="0.248" stop-color="#f6ff09"/><stop offset="0.31" stop-color="#feff01"/><stop offset="0.371" stop-color="#fff600"/><stop offset="0.433" stop-color="#ffee00"/><stop offset="0.495" stop-color="#ffed00"/><stop offset="0.509" stop-color="#fff200"/><stop offset="0.519" stop-color="#fff800"/><stop offset="0.53" stop-color="#fdff02"/><stop offset="0.54" stop-color="#f1ff0e"/><stop offset="0.551" stop-color="#e1ff1e"/><stop offset="0.561" stop-color="#ceff31"/><stop offset="0.572" stop-color="#b7ff48"/><stop offset="0.582" stop-color="#9cff63"/><stop offset="0.592" stop-color="#7eff81"/><stop offset="0.603" stop-color="#5fffa0"/><stop offset="0.613" stop-color="#3effc1"/><stop offset="0.624" stop-color="#1dffe2"/><stop offset="0.634" stop-color="#00fdff"/><stop offset="0.645" stop-color="#00e1ff"/><stop offset="0.655" stop-color="#00caff"/><stop offset="0.666" stop-color="#00b9ff"/><stop offset="0.676" stop-color="#00aeff"/><stop offset="0.686" stop-color="#00acff"/><stop offset="0.697" stop-color="#00beff"/><stop offset="0.707" stop-color="#00e7ff"/><stop offset="0.718" stop-color="#22ffdd"/><stop offset="0.728" stop-color="#63ff9c"/><stop offset="0.739" stop-color="#a3ff5c"/><stop offset="0.749" stop-color="#dbff24"/><stop offset="0.76" stop-color="#fff600"/><stop offset="0.77" stop-color="#ffd500"/><stop offset="0.781" stop-color="#ffbf00"/><stop offset="0.791" stop-color="#ffb100"/><stop offset="0.801" stop-color="#ffa900"/><stop offset="0.812" stop-color="#ffa500"/><stop offset="0.822" stop-color="#ffa400"/><stop offset="0.833" stop-color="#ffa300"/><stop offset="0.843" stop-color="#ffa300"/><stop offset="0.854" stop-color="#ffa200"/><stop offset="0.864" stop-color="#ffa300"/><stop offset="0.875" stop-color="#ffa500"/><stop offset="0.885" stop-color="#ffa800"/><stop offset="0.895" stop-color="#ffab00"/><stop offset="0.906" stop-color="#ffaf00"/><stop offset="0.916" stop-color="#ffb300"/><stop offset="0.927" stop-color="#ffb800"/><stop offset="0.937" stop-color="#ffbc00"/><stop offset="0.948" stop-color="#ffc100"/><stop offset="0.958" stop-color="#ffc500"/><stop offset="0.969" stop-color="#ffc800"/><stop offset="0.979" stop-color="#ffcb00"/><stop offset="0.99" stop-color="#ffcc00"/><stop offset="1" stop-color="#ffcd00"/></linearGradient><linearGradient id="r73" gradientUnits="userSpaceOnUse" x1="285.3" y1="0" x2="506.8" y2="0"><stop offset="0" stop-color="#deff21"/><stop offset="0.062" stop-color="#e1ff1e"/><stop offset="0.124" stop-color="#e5ff1a"/><stop offset="0.186" stop-color="#e9ff16"/><stop offset="0.248" stop-color="#efff10"/><stop offset="0.31" stop-color="#f7ff08"/><stop offset="0.371" stop-color="#fffd00"/><stop offset="0.433" stop-color="#fff500"/><stop offset="0.495" stop-color="#fff200"/><stop offset="0.509" stop-color="#fff500"/><stop offset="0.519" stop-color="#fffb00"/><stop offset="0.53" stop-color="#fcff03"/><stop offset="0.54" stop-color="#f1ff0e"/><stop offset="0.551" stop-color="#e4ff1b"/><stop offset="0.561" stop-color="#d3ff2c"/><stop offset="0.572" stop-color="#beff41"/><stop offset="0.582" stop-color="#a7ff58"/><stop offset="0.592" stop-color="#8dff72"/><stop offset="0.603" stop-color="#71ff8e"/><stop offset="0.613" stop-color="#53ffac"/><stop offset="0.624" stop-color="#36ffc9"/><stop offset="0.634" stop-color="#1bffe4"/><stop offset="0.645" stop-color="#02fffd"/><stop offset="0.655" stop-color="#00ecff"/><stop offset="0.666" stop-color="#00ddff"/><stop offset="0.676" stop-color="#00d4ff"/><stop offset="0.686" stop-color="#00d2ff"/><stop offset="0.697" stop-color="#00e2ff"/><stop offset="0.707" stop-color="#08fff7"/><stop offset="0.718" stop-color="#3cffc3"/><stop offset="0.728" stop-color="#77ff88"/><stop offset="0.739" stop-color="#b0ff4f"/><stop offset="0.749" stop-color="#e3ff1c"/><stop offset="0.76" stop-color="#fff300"/><stop offset="0.77" stop-color="#ffd500"/><stop offset="0.781" stop-color="#ffc100"/><stop offset="0.791" stop-color="#ffb500"/><stop offset="0.801" stop-color="#ffae00"/><stop offset="0.812" stop-color="#ffaa00"/><stop offset="0.822" stop-color="#ffa800"/><stop offset="0.833" stop-color="#ffa700"/><stop offset="0.854" stop-color="#ffa700"/><stop offset="0.864" stop-color="#ffa800"/><stop offset="0.875" stop-color="#ffa900"/><stop offset="0.885" stop-color="#ffac00"/><stop offset="0.895" stop-color="#ffb000"/><stop offset="0.906" stop-color="#ffb400"/><stop offset="0.916" stop-color="#ffb800"/><stop offset="0.927" stop-color="#ffbd00"/><stop offset="0.937" stop-color="#ffc100"/><stop offset="0.948" stop-color="#ffc600"/><stop offset="0.958" stop-color="#ffca00"/><stop offset="0.969" stop-color="#ffcd00"/><stop offset="0.979" stop-color="#ffd000"/><stop offset="0.99" stop-color="#ffd200"/><stop offset="1" stop-color="#ffd300"/></linearGradient><linearGradient id="r74" gradientUnits="userSpaceOnUse" x1="285.3" y1="0" x2="506.8" y2="0"><stop offset="0" stop-color="#d7ff28"/><stop offset="0.062" stop-color="#daff25"/><stop offset="0.124" stop-color="#deff21"/><stop offset="0.186" stop-color="#e2ff1d"/><stop offset="0.248" stop-color="#e8ff17"/><stop offset="0.31" stop-color="#f0ff0f"/><stop offset="0.371" stop-color="#f9ff06"/><stop offset="0.433" stop-color="#fffc00"/><stop offset="0.495" stop-color="#fff700"/><stop offset="0.509" stop-color="#fff900"/><stop offset="0.519" stop-color="#fffd00"/><stop offset="0.53" stop-color="#faff05"/><stop offset="0.54" stop-color="#f1ff0e"/><stop offset="0.551" stop-color="#e6ff19"/><stop offset="0.561" stop-color="#d7ff28"/><stop offset="0.572" stop-color="#c6ff39"/><stop offset="0.582" stop-color="#b1ff4e"/><stop offset="0.592" stop-color="#9bff64"/><stop offset="0.603" stop-color="#82ff7d"/><stop offset="0.613" stop-color="#68ff97"/><stop offset="0.624" stop-color="#4fffb0"/><stop offset="0.634" stop-color="#36ffc9"/><stop offset="0.645" stop-color="#21ffde"/><stop offset="0.655" stop-color="#0efff1"/><stop offset="0.666" stop-color="#01fffe"/><stop offset="0.676" stop-color="#00f8ff"/><stop offset="0.686" stop-color="#00f6ff"/><stop offset="0.697" stop-color="#06fff9"/><stop offset="0.707" stop-color="#27ffd8"/><stop offset="0.718" stop-color="#55ffaa"/><stop offset="0.728" stop-color="#8aff75"/><stop offset="0.739" stop-color="#bdff42"/><stop offset="0.749" stop-color="#eaff15"/><stop offset="0.76" stop-color="#fff000"/><stop offset="0.77" stop-color="#ffd500"/><stop offset="0.781" stop-color="#ffc400"/><stop offset="0.791" stop-color="#ffb900"/><stop offset="0.801" stop-color="#ffb200"/><stop offset="0.812" stop-color="#ffaf00"/><stop offset="0.822" stop-color="#ffad00"/><stop offset="0.833" stop-color="#ffac00"/><stop offset="0.854" stop-color="#ffac00"/><stop offset="0.864" stop-color="#ffad00"/><stop offset="0.875" stop-color="#ffae00"/><stop offset="0.885" stop-color="#ffb100"/><stop offset="0.895" stop-color="#ffb500"/><stop offset="0.906" stop-color="#ffb900"/><stop offset="0.916" stop-color="#ffbd00"/><stop offset="0.927" stop-color="#ffc200"/><stop offset="0.937" stop-color="#ffc700"/><stop offset="0.948" stop-color="#ffcb00"/><stop offset="0.958" stop-color="#ffcf00"/><stop offset="0.969" stop-color="#ffd300"/><stop offset="0.979" stop-color="#ffd600"/><stop offset="0.99" stop-color="#ffd700"/><stop offset="1" stop-color="#ffd800"/></linearGradient><linearGradient id="r75" gradientUnits="userSpaceOnUse" x1="285.3" y1="0" x2="506.8" y2="0"><stop offset="0" stop-color="#d0ff2f"/><stop offset="0.062" stop-color="#d3ff2c"/><stop offset="0.124" stop-color="#d7ff28"/><stop offset="0.186" stop-color="#dbff24"/><stop offset="0.248" stop-color="#e1ff1e"/><stop offset="0.31" stop-color="#e9ff16"/><stop offset="0.371" stop-color="#f2ff0d"/><stop offset="0.433" stop-color="#fbff04"/><stop offset="0.495" stop-color="#fffc00"/><stop offset="0.509" stop-color="#fffe00"/><stop offset="0.519" stop-color="#fdff02"/><stop offset="0.53" stop-color="#f8ff07"/><stop offset="0.54" stop-color="#f1ff0e"/><stop offset="0.551" stop-color="#e8ff17"/><stop offset="0.561" stop-color="#dbff24"/><stop offset="0.572" stop-color="#cdff32"/><stop offset="0.582" stop-color="#bbff44"/><stop offset="0.592" stop-color="#a8ff57"/><stop offset="0.603" stop-color="#92ff6d"/><stop offset="0.613" stop-color="#7cff83"/><stop offset="0.624" stop-color="#66ff99"/><stop offset="0.634" stop-color="#51ffae"/><stop offset="0.645" stop-color="#3effc1"/><stop offset="0.655" stop-color="#2effd1"/><stop offset="0.666" stop-color="#22ffdd"/><stop offset="0.676" stop-color="#1bffe4"/><stop offset="0.686" stop-color="#1affe5"/><stop offset="0.697" stop-color="#27ffd8"/><stop offset="0.707" stop-color="#44ffbb"/><stop offset="0.718" stop-color="#6dff92"/><stop offset="0.728" stop-color="#9bff64"/><stop offset="0.739" stop-color="#c9ff36"/><stop offset="0.749" stop-color="#f1ff0e"/><stop offset="0.76" stop-color="#ffed00"/><stop offset="0.77" stop-color="#ffd600"/><stop offset="0.781" stop-color="#ffc600"/><stop offset="0.791" stop-color="#ffbd00"/><stop offset="0.801" stop-color="#ffb700"/><stop offset="0.812" stop-color="#ffb400"/><stop offset="0.822" stop-color="#ffb200"/><stop offset="0.833" stop-color="#ffb200"/><stop offset="0.843" stop-color="#ffb100"/><stop offset="0.854" stop-color="#ffb100"/><stop offset="0.864" stop-color="#ffb200"/><stop offset="0.875" stop-color="#ffb400"/><stop offset="0.885" stop-color="#ffb700"/><stop offset="0.895" stop-color="#ffba00"/><stop offset="0.906" stop-color="#ffbe00"/><stop offset="0.916" stop-color="#ffc300"/><stop offset="0.927" stop-color="#ffc800"/><stop offset="0.937" stop-color="#ffcc00"/><stop offset="0.948" stop-color="#ffd100"/><stop offset="0.958" stop-color="#ffd500"/><stop offset="0.969" stop-color="#ffd800"/><stop offset="0.979" stop-color="#ffdb00"/><stop offset="0.99" stop-color="#ffdd00"/><stop offset="1" stop-color="#ffde00"/></linearGradient><linearGradient id="r76" gradientUnits="userSpaceOnUse" x1="285.3" y1="0" x2="506.8" y2="0"><stop offset="0" stop-color="#c9ff36"/><stop offset="0.062" stop-color="#cbff34"/><stop offset="0.124" stop-color="#d0ff2f"/><stop offset="0.186" stop-color="#d4ff2b"/><stop offset="0.248" stop-color="#daff25"/><stop offset="0.31" stop-color="#e1ff1e"/><stop offset="0.371" stop-color="#ebff14"/><stop offset="0.433" stop-color="#f4ff0b"/><stop offset="0.495" stop-color="#fdff02"/><stop offset="0.509" stop-color="#fcff03"/><stop offset="0.519" stop-color="#faff05"/><stop offset="0.53" stop-color="#f6ff09"/><stop offset="0.54" stop-color="#f1ff0e"/><stop offset="0.551" stop-color="#e9ff16"/><stop offset="0.561" stop-color="#dfff20"/><stop offset="0.572" stop-color="#d3ff2c"/><stop offset="0.582" stop-color="#c4ff3b"/><stop offset="0.592" stop-color="#b3ff4c"/><stop offset="0.603" stop-color="#a1ff5e"/><stop offset="0.613" stop-color="#8eff71"/><stop offset="0.624" stop-color="#7bff84"/><stop offset="0.634" stop-color="#69ff96"/><stop offset="0.645" stop-color="#59ffa6"/><stop offset="0.655" stop-color="#4bffb4"/><stop offset="0.666" stop-color="#41ffbe"/><stop offset="0.676" stop-color="#3bffc4"/><stop offset="0.686" stop-color="#3affc5"/><stop offset="0.697" stop-color="#46ffb9"/><stop offset="0.707" stop-color="#5fffa0"/><stop offset="0.718" stop-color="#83ff7c"/><stop offset="0.728" stop-color="#acff53"/><stop offset="0.739" stop-color="#d4ff2b"/><stop offset="0.749" stop-color="#f7ff08"/><stop offset="0.76" stop-color="#ffec00"/><stop offset="0.77" stop-color="#ffd700"/><stop offset="0.781" stop-color="#ffc900"/><stop offset="0.791" stop-color="#ffc100"/><stop offset="0.801" stop-color="#ffbc00"/><stop offset="0.812" stop-color="#ffb900"/><stop offset="0.822" stop-color="#ffb800"/><stop offset="0.833" stop-color="#ffb700"/><stop offset="0.864" stop-color="#ffb700"/><stop offset="0.875" stop-color="#ffb900"/><stop offset="0.885" stop-color="#ffbc00"/><stop offset="0.895" stop-color="#ffc000"/><stop offset="0.906" stop-color="#ffc400"/><stop offset="0.916" stop-color="#ffc800"/><stop offset="0.927" stop-color="#ffcd00"/><stop offset="0.937" stop-color="#ffd200"/><stop offset="0.948" stop-color="#ffd600"/><stop offset="0.958" stop-color="#ffda00"/><stop offset="0.969" stop-color="#ffde00"/><stop offset="0.979" stop-color="#ffe100"/><stop offset="0.99" stop-color="#ffe300"/><stop offset="1" stop-color="#ffe300"/></linearGradient><linearGradient id="r77" gradientUnits="userSpaceOnUse" x1="285.3" y1="0" x2="506.8" y2="0"><stop offset="0" stop-color="#c1ff3e"/><stop offset="0.062" stop-color="#c4ff3b"/><stop offset="0.124" stop-color="#c9ff36"/><stop offset="0.186" stop-color="#ccff33"/><stop offset="0.248" stop-color="#d2ff2d"/><stop offset="0.31" stop-color="#daff25"/><stop offset="0.371" stop-color="#e4ff1b"/><stop offset="0.433" stop-color="#edff12"/><stop offset="0.495" stop-color="#f7ff08"/><stop offset="0.509" stop-color="#f7ff08"/><stop offset="0.519" stop-color="#f6ff09"/><stop offset="0.53" stop-color="#f4ff0b"/><stop offset="0.54" stop-color="#f0ff0f"/><stop offset="0.551" stop-color="#eaff15"/><stop offset="0.561" stop-color="#e2ff1d"/><stop offset="0.572" stop-color="#d8ff27"/><stop offset="0.582" stop-color="#cbff34"/><stop offset="0.592" stop-color="#beff41"/><stop offset="0.603" stop-color="#afff50"/><stop offset="0.613" stop-color="#9fff60"/><stop offset="0.624" stop-color="#8fff70"/><stop offset="0.634" stop-color="#80ff7f"/><stop offset="0.645" stop-color="#72ff8d"/><stop offset="0.655" stop-color="#66ff99"/><stop offset="0.666" stop-color="#5effa1"/><stop offset="0.676" stop-color="#59ffa6"/><stop offset="0.686" stop-color="#58ffa7"/><stop offset="0.697" stop-color="#62ff9d"/><stop offset="0.707" stop-color="#78ff87"/><stop offset="0.718" stop-color="#97ff68"/><stop offset="0.728" stop-color="#bbff44"/><stop offset="0.739" stop-color="#ddff22"/><stop offset="0.749" stop-color="#fbff04"/><stop offset="0.76" stop-color="#ffea00"/><stop offset="0.77" stop-color="#ffd900"/><stop offset="0.781" stop-color="#ffcd00"/><stop offset="0.791" stop-color="#ffc500"/><stop offset="0.801" stop-color="#ffc100"/><stop offset="0.812" stop-color="#ffbe00"/><stop offset="0.822" stop-color="#ffbd00"/><stop offset="0.833" stop-color="#ffbd00"/><stop offset="0.843" stop-color="#ffbc00"/><stop offset="0.854" stop-color="#ffbc00"/><stop offset="0.864" stop-color="#ffbd00"/><stop offset="0.875" stop-color="#ffbf00"/><stop offset="0.885" stop-color="#ffc200"/><stop offset="0.895" stop-color="#ffc500"/><stop offset="0.906" stop-color="#ffca00"/><stop offset="0.916" stop-color="#ffce00"/><stop offset="0.927" stop-color="#ffd300"/><stop offset="0.937" stop-color="#ffd700"/><stop offset="0.948" stop-color="#ffdc00"/><stop offset="0.958" stop-color="#ffe000"/><stop offset="0.969" stop-color="#ffe400"/><stop offset="0.979" stop-color="#ffe600"/><stop offset="0.99" stop-color="#ffe800"/><stop offset="1" stop-color="#ffe900"/></linearGradient><linearGradient id="r78" gradientUnits="userSpaceOnUse" x1="285.3" y1="0" x2="506.8" y2="0"><stop offset="0" stop-color="#baff45"/><stop offset="0.062" stop-color="#bcff43"/><stop offset="0.124" stop-color="#c1ff3e"/><stop offset="0.186" stop-color="#c5ff3a"/><stop offset="0.248" stop-color="#cbff34"/><stop offset="0.31" stop-color="#d3ff2c"/><stop offset="0.371" stop-color="#dcff23"/><stop offset="0.433" stop-color="#e6ff19"/><stop offset="0.495" stop-color="#f2ff0d"/><stop offset="0.509" stop-color="#f3ff0c"/><stop offset="0.519" stop-color="#f2ff0d"/><stop offset="0.53" stop-color="#f1ff0e"/><stop offset="0.54" stop-color="#eeff11"/><stop offset="0.551" stop-color="#eaff15"/><stop offset="0.561" stop-color="#e4ff1b"/><stop offset="0.572" stop-color="#dcff23"/><stop offset="0.582" stop-color="#d2ff2d"/><stop offset="0.592" stop-color="#c7ff38"/><stop offset="0.603" stop-color="#baff45"/><stop offset="0.613" stop-color="#adff52"/><stop offset="0.624" stop-color="#a0ff5f"/><stop offset="0.634" stop-color="#94ff6b"/><stop offset="0.645" stop-color="#88ff77"/><stop offset="0.655" stop-color="#7fff80"/><stop offset="0.666" stop-color="#78ff87"/><stop offset="0.676" stop-color="#74ff8b"/><stop offset="0.686" stop-color="#73ff8c"/><stop offset="0.697" stop-color="#7bff84"/><stop offset="0.707" stop-color="#8fff70"/><stop offset="0.718" stop-color="#a9ff56"/><stop offset="0.728" stop-color="#c8ff37"/><stop offset="0.739" stop-color="#e5ff1a"/><stop offset="0.749" stop-color="#fffe00"/><stop offset="0.76" stop-color="#ffea00"/><stop offset="0.77" stop-color="#ffda00"/><stop offset="0.781" stop-color="#ffd000"/><stop offset="0.791" stop-color="#ffca00"/><stop offset="0.801" stop-color="#ffc600"/><stop offset="0.812" stop-color="#ffc400"/><stop offset="0.822" stop-color="#ffc300"/><stop offset="0.833" stop-color="#ffc200"/><stop offset="0.854" stop-color="#ffc200"/><stop offset="0.864" stop-color="#ffc300"/><stop offset="0.875" stop-color="#ffc500"/><stop offset="0.885" stop-color="#ffc800"/><stop offset="0.895" stop-color="#ffcb00"/><stop offset="0.906" stop-color="#ffcf00"/><stop offset="0.916" stop-color="#ffd400"/><stop offset="0.927" stop-color="#ffd900"/><stop offset="0.937" stop-color="#ffdd00"/><stop offset="0.948" stop-color="#ffe200"/><stop offset="0.958" stop-color="#ffe600"/><stop offset="0.969" stop-color="#ffe900"/><stop offset="0.979" stop-color="#ffec00"/><stop offset="0.99" stop-color="#ffee00"/><stop offset="1" stop-color="#ffef00"/></linearGradient><linearGradient id="g79" gradientUnits="userSpaceOnUse" x1="0" y1="23.6" x2="0" y2="92.4"><stop offset="0" stop-color="#800000"/><stop offset="0.12" stop-color="#ff0000"/><stop offset="0.38" stop-color="#ffff00"/><stop offset="0.5" stop-color="#80ff80"/><stop offset="0.62" stop-color="#00ffff"/><stop offset="0.88" stop-color="#0000ff"/><stop offset="1" stop-color="#00008f"/></linearGradient></defs>
<rect width="550" height="315" fill="#fff"/>
<g clip-path="url(#c6)"><rect x="43" y="34" width="223" height="43.4" fill="url(#g1)"/><rect x="43" y="34" width="223" height="43.4" fill="url(#g2)"/><rect x="43" y="34" width="223" height="43.4" fill="url(#g3)"/><rect x="43" y="34" width="223" height="43.4" fill="url(#g4)"/><rect x="43" y="34" width="223" height="43.4" fill="url(#g5)"/></g><polyline points="45,30.6 50.08,30.54 55.15,30.48 60.23,30.43 65.31,30.37 70.38,30.31 75.46,30.25 80.54,30.19 85.62,30.1 90.69,30.01 95.77,29.92 100.85,29.83 105.92,29.74 111,29.65 116.08,29.56 121.15,29.47 126.23,29.37 131.31,29.23 136.38,29.1 141.46,29.04 146.54,29.17 151.62,29.31 156.69,29.45 161.77,29.58 166.85,29.72 171.92,29.74 177,29.59 182.08,29.44 187.15,29.29 192.23,29.26 197.31,29.4 202.38,29.55 207.46,29.69 212.54,29.83 217.62,29.9 222.69,29.9 227.77,29.9 232.85,29.9 237.92,29.9 243,29.9" fill="none" stroke="#444" stroke-width="0.9" stroke-dasharray="2.2 2.0"/><polyline points="44,81.04 49,81.56 54,81.02 59,80.54 64,79.93 69,79.11 74,78.71 79,78.83 84,78.11 89,77.72 94,77.81 99,77.13 104,76.98 109,76.4 114,76.2 119,75.7 124,75.78 129,75.71 134,75.29 139,75.21 144,74.96 149,74.38 154,74.71 159,74.55 164,74.31 169,74.09 174,74.53 179,74.24 184,74.32 189,74.36 194,74.2 199,74.26 204,73.47 209,74.03 214,74.54 219,75.28 224,75.69 229,75.67 234,76.01 239,76.34 244,77.08 247.5,77" fill="none" stroke="#333" stroke-width="0.9" stroke-linejoin="round"/><polyline points="44.3,53 44.4,75.5" fill="none" stroke="#3a0606" stroke-width="0.75" stroke-dasharray="2.6 1.0"/><polyline points="67,41 66.2,52 66.6,62 66.4,75.5" fill="none" stroke="#3a0606" stroke-width="0.75" stroke-dasharray="2.6 1.0"/><polyline points="110,41 110.2,55 110.6,71" fill="none" stroke="#3a0606" stroke-width="0.75" stroke-dasharray="2.6 1.0"/><polyline points="154.4,42 153.2,52 152,62 151,70.5" fill="none" stroke="#3a0606" stroke-width="0.75" stroke-dasharray="2.6 1.0"/><polyline points="198.4,42 197.2,52 196,62 195,70.5" fill="none" stroke="#3a0606" stroke-width="0.75" stroke-dasharray="2.6 1.0"/><polyline points="240.6,49 242,56 243,67.5" fill="none" stroke="#3a0606" stroke-width="0.75" stroke-dasharray="2.6 1.0"/><polyline points="264,42 264.4,56 264,69.5" fill="none" stroke="#3a0606" stroke-width="0.75" stroke-dasharray="2.6 1.0"/><polyline points="44.6,41 43,45 42.6,49 43.6,53" fill="none" stroke="#300808" stroke-width="0.5" stroke-linejoin="round"/><path d="M240.4 46.4L237.4 43.6M239.18 44.33L237.4 43.6L238.25 45.33Z" stroke="#300808" stroke-width="0.5" fill="#300808" opacity="1" stroke-linejoin="miter"/><path d="M241.6 49.4L239.6 47.6M241.2 48.22L239.6 47.6L240.38 49.12Z" stroke="#300808" stroke-width="0.5" fill="#300808" opacity="1" stroke-linejoin="miter"/><polyline points="110.5,71 112.6,75.6" fill="none" stroke="#333" stroke-width="0.5" stroke-linejoin="round"/><rect x="40.1" y="22.4" width="229.6" height="75.8" fill="none" stroke="#8c8c8c" stroke-width="0.8"/><path d="M43.9 98.2v-2.2M43.9 22.4v2.2M88.1 98.2v-2.2M88.1 22.4v2.2M132.3 98.2v-2.2M132.3 22.4v2.2M176.5 98.2v-2.2M176.5 22.4v2.2M220.7 98.2v-2.2M220.7 22.4v2.2M264.9 98.2v-2.2M264.9 22.4v2.2M40.1 27.3h2.2M269.7 27.3h-2.2M40.1 50.93h2.2M269.7 50.93h-2.2M40.1 74.57h2.2M269.7 74.57h-2.2" stroke="#8c8c8c" stroke-width="0.8" fill="none"/><text transform="translate(256.4 30.8) scale(0.88 1)" font-size="10" font-weight="bold" fill="#1a1a1a">a)</text><path d="M44.6 86.6L56 86.6M53.6 87.51L56 86.6L53.6 85.69Z" stroke="#6a6a6a" stroke-width="0.7" fill="#6a6a6a" opacity="1" stroke-linejoin="miter"/><text transform="translate(44.1 96.9) scale(0.84 1)" font-size="10" fill="#303030">0.03<tspan dx="0.9"> ms</tspan><tspan dy="-4.8" dx="1.2" font-size="6.6">-1</tspan></text><g clip-path="url(#c15)"><rect x="284.3" y="31.2" width="223.5" height="40" fill="url(#g7)"/><rect x="284.3" y="31.2" width="223.5" height="40" fill="url(#g8)"/><rect x="284.3" y="31.2" width="223.5" height="40" fill="url(#g9)"/><rect x="284.3" y="31.2" width="223.5" height="40" fill="url(#g10)"/><rect x="284.3" y="31.2" width="223.5" height="40" fill="url(#g11)"/><rect x="284.3" y="31.2" width="223.5" height="40" fill="url(#g12)"/><rect x="284.3" y="31.2" width="223.5" height="40" fill="url(#g13)"/><rect x="284.3" y="31.2" width="223.5" height="40" fill="url(#g14)"/></g><polyline points="290,27 295.13,27.02 300.26,27.03 305.38,27.05 310.51,27.07 315.64,27.09 320.77,27.1 325.9,27.12 331.03,27.14 336.15,27.15 341.28,27.17 346.41,27.19 351.54,27.19 356.67,27.15 361.79,27.11 366.92,27.06 372.05,27.02 377.18,26.98 382.31,26.94 387.44,26.9 392.56,26.86 397.69,26.82 402.82,26.8 407.95,26.8 413.08,26.8 418.21,26.8 423.33,26.8 428.46,26.8 433.59,26.8 438.72,26.8 443.85,26.65 448.97,26.44 454.1,26.24 459.23,26.03 464.36,25.83 469.49,25.66 474.62,25.49 479.74,25.33 484.87,25.16 490,25" fill="none" stroke="#444" stroke-width="0.9" stroke-dasharray="2.2 2.0"/><polyline points="285.3,74.49 289.8,74.32 294.3,74.12 298.8,73.98 303.3,73.7 307.8,73.74 312.3,73.02 316.8,73.24 321.3,73.48 325.8,73.19 330.3,73.27 334.8,72.63 339.3,72.79 343.8,72.55 348.3,72.66 352.8,72.6 357.3,72.11 361.8,72.08 366.3,71.83 370.8,71.97 375.3,71.59 379.8,71.28 384.3,71.83 388.8,71.48 393.3,71.92 397.8,71.69 402.3,71.69 406.8,72.36 411.3,71.97 415.8,72.04 420.3,72.64 424.8,72.63 429.3,72.29 433.8,72.83 438.3,72.6 442.8,72.74 447.3,72.44 451.8,72.99 456.3,72.84 460.8,73.07 465.3,73.04 469.8,72.66 474.3,72.66 478.8,72.47 483.3,72.41 487.8,72.3 488.5,72.6" fill="none" stroke="#454545" stroke-width="1.25" stroke-linejoin="round"/><path d="M285.4 42L287.4 46.6M285.98 45.15L287.4 46.6L287.3 44.57Z" stroke="#2e1208" stroke-width="0.45" fill="#2e1208" opacity="0.9" stroke-linejoin="miter"/><path d="M285.6 45.6L287.6 50.2M286.18 48.75L287.6 50.2L287.5 48.17Z" stroke="#2e1208" stroke-width="0.45" fill="#2e1208" opacity="0.9" stroke-linejoin="miter"/><path d="M285.8 49.2L287.8 53.8M286.38 52.35L287.8 53.8L287.7 51.77Z" stroke="#2e1208" stroke-width="0.45" fill="#2e1208" opacity="0.9" stroke-linejoin="miter"/><path d="M286 52.8L288 57.4M286.58 55.95L288 57.4L287.9 55.37Z" stroke="#2e1208" stroke-width="0.45" fill="#2e1208" opacity="0.9" stroke-linejoin="miter"/><path d="M286.2 56.4L288.2 61M286.78 59.55L288.2 61L288.1 58.97Z" stroke="#2e1208" stroke-width="0.45" fill="#2e1208" opacity="0.9" stroke-linejoin="miter"/><path d="M286.4 60L288.4 64.6M286.98 63.15L288.4 64.6L288.3 62.57Z" stroke="#2e1208" stroke-width="0.45" fill="#2e1208" opacity="0.9" stroke-linejoin="miter"/><path d="M307.5 42L311.9 46.8M310.08 45.89L311.9 46.8L311.15 44.91Z" stroke="#2e1208" stroke-width="0.45" fill="#2e1208" opacity="0.9" stroke-linejoin="miter"/><path d="M308.2 45.8L312.6 50.6M310.78 49.69L312.6 50.6L311.85 48.71Z" stroke="#2e1208" stroke-width="0.45" fill="#2e1208" opacity="0.9" stroke-linejoin="miter"/><path d="M308.9 49.6L313.3 54.4M311.48 53.49L313.3 54.4L312.55 52.51Z" stroke="#2e1208" stroke-width="0.45" fill="#2e1208" opacity="0.9" stroke-linejoin="miter"/><path d="M309.6 53.4L314 58.2M312.18 57.29L314 58.2L313.25 56.31Z" stroke="#2e1208" stroke-width="0.45" fill="#2e1208" opacity="0.9" stroke-linejoin="miter"/><path d="M310.3 57.2L314.7 62M312.88 61.09L314.7 62L313.95 60.11Z" stroke="#2e1208" stroke-width="0.45" fill="#2e1208" opacity="0.9" stroke-linejoin="miter"/><path d="M311 61L315.4 65.8M313.58 64.89L315.4 65.8L314.65 63.91Z" stroke="#2e1208" stroke-width="0.45" fill="#2e1208" opacity="0.9" stroke-linejoin="miter"/><path d="M352 42L356.6 47.2M354.8 46.26L356.6 47.2L355.88 45.3Z" stroke="#2e1208" stroke-width="0.45" fill="#2e1208" opacity="0.9" stroke-linejoin="miter"/><path d="M353 45.8L357.6 51M355.8 50.06L357.6 51L356.88 49.1Z" stroke="#2e1208" stroke-width="0.45" fill="#2e1208" opacity="0.9" stroke-linejoin="miter"/><path d="M354 49.6L358.6 54.8M356.8 53.86L358.6 54.8L357.88 52.9Z" stroke="#2e1208" stroke-width="0.45" fill="#2e1208" opacity="0.9" stroke-linejoin="miter"/><path d="M355 53.4L359.6 58.6M357.8 57.66L359.6 58.6L358.88 56.7Z" stroke="#2e1208" stroke-width="0.45" fill="#2e1208" opacity="0.9" stroke-linejoin="miter"/><path d="M356 57.2L360.6 62.4M358.8 61.46L360.6 62.4L359.88 60.5Z" stroke="#2e1208" stroke-width="0.45" fill="#2e1208" opacity="0.9" stroke-linejoin="miter"/><path d="M357 61L361.6 66.2M359.8 65.26L361.6 66.2L360.88 64.3Z" stroke="#2e1208" stroke-width="0.45" fill="#2e1208" opacity="0.9" stroke-linejoin="miter"/><path d="M396 38L399.6 44M398 42.74L399.6 44L399.24 42Z" stroke="#2e1208" stroke-width="0.45" fill="#2e1208" opacity="0.9" stroke-linejoin="miter"/><path d="M396.42 41.83L400.02 47.83M398.42 46.58L400.02 47.83L399.66 45.83Z" stroke="#2e1208" stroke-width="0.45" fill="#2e1208" opacity="0.9" stroke-linejoin="miter"/><path d="M396.83 45.67L400.43 51.67M398.84 50.41L400.43 51.67L400.07 49.67Z" stroke="#2e1208" stroke-width="0.45" fill="#2e1208" opacity="0.9" stroke-linejoin="miter"/><path d="M397.25 49.5L400.85 55.5M399.25 54.24L400.85 55.5L400.49 53.5Z" stroke="#2e1208" stroke-width="0.45" fill="#2e1208" opacity="0.9" stroke-linejoin="miter"/><path d="M397.67 53.33L401.27 59.33M399.67 58.08L401.27 59.33L400.91 57.33Z" stroke="#2e1208" stroke-width="0.45" fill="#2e1208" opacity="0.9" stroke-linejoin="miter"/><path d="M398.08 57.17L401.68 63.17M400.09 61.91L401.68 63.17L401.32 61.17Z" stroke="#2e1208" stroke-width="0.45" fill="#2e1208" opacity="0.9" stroke-linejoin="miter"/><path d="M398.5 61L402.1 67M400.5 65.74L402.1 67L401.74 65Z" stroke="#2e1208" stroke-width="0.45" fill="#2e1208" opacity="0.9" stroke-linejoin="miter"/><path d="M439.5 38L442.1 44.4M440.72 42.91L442.1 44.4L442.05 42.37Z" stroke="#2e1208" stroke-width="0.45" fill="#2e1208" opacity="0.9" stroke-linejoin="miter"/><path d="M439.92 41.83L442.52 48.23M441.13 46.74L442.52 48.23L442.47 46.2Z" stroke="#2e1208" stroke-width="0.45" fill="#2e1208" opacity="0.9" stroke-linejoin="miter"/><path d="M440.33 45.67L442.93 52.07M441.55 50.58L442.93 52.07L442.89 50.03Z" stroke="#2e1208" stroke-width="0.45" fill="#2e1208" opacity="0.9" stroke-linejoin="miter"/><path d="M440.75 49.5L443.35 55.9M441.97 54.41L443.35 55.9L443.3 53.87Z" stroke="#2e1208" stroke-width="0.45" fill="#2e1208" opacity="0.9" stroke-linejoin="miter"/><path d="M441.17 53.33L443.77 59.73M442.38 58.24L443.77 59.73L443.72 57.7Z" stroke="#2e1208" stroke-width="0.45" fill="#2e1208" opacity="0.9" stroke-linejoin="miter"/><path d="M441.58 57.17L444.18 63.57M442.8 62.08L444.18 63.57L444.14 61.53Z" stroke="#2e1208" stroke-width="0.45" fill="#2e1208" opacity="0.9" stroke-linejoin="miter"/><path d="M442 61L444.6 67.4M443.22 65.91L444.6 67.4L444.55 65.37Z" stroke="#2e1208" stroke-width="0.45" fill="#2e1208" opacity="0.9" stroke-linejoin="miter"/><path d="M480 39L481.2 44.6M480.1 42.89L481.2 44.6L481.51 42.59Z" stroke="#2e1208" stroke-width="0.45" fill="#2e1208" opacity="0.9" stroke-linejoin="miter"/><path d="M480.5 43.4L481.7 49M480.6 47.29L481.7 49L482.01 46.99Z" stroke="#2e1208" stroke-width="0.45" fill="#2e1208" opacity="0.9" stroke-linejoin="miter"/><path d="M481 47.8L482.2 53.4M481.1 51.69L482.2 53.4L482.51 51.39Z" stroke="#2e1208" stroke-width="0.45" fill="#2e1208" opacity="0.9" stroke-linejoin="miter"/><path d="M481.5 52.2L482.7 57.8M481.6 56.09L482.7 57.8L483.01 55.79Z" stroke="#2e1208" stroke-width="0.45" fill="#2e1208" opacity="0.9" stroke-linejoin="miter"/><path d="M482 56.6L483.2 62.2M482.1 60.49L483.2 62.2L483.51 60.19Z" stroke="#2e1208" stroke-width="0.45" fill="#2e1208" opacity="0.9" stroke-linejoin="miter"/><path d="M482.5 61L483.7 66.6M482.6 64.89L483.7 66.6L484.01 64.59Z" stroke="#2e1208" stroke-width="0.45" fill="#2e1208" opacity="0.9" stroke-linejoin="miter"/><path d="M505.8 40L502 43.4M502.93 41.6L502 43.4L503.9 42.67Z" stroke="#2e1208" stroke-width="0.45" fill="#2e1208" opacity="0.9" stroke-linejoin="miter"/><path d="M505.84 44.8L502.04 48.2M502.97 46.4L502.04 48.2L503.94 47.47Z" stroke="#2e1208" stroke-width="0.45" fill="#2e1208" opacity="0.9" stroke-linejoin="miter"/><path d="M505.88 49.6L502.08 53M503.01 51.2L502.08 53L503.98 52.27Z" stroke="#2e1208" stroke-width="0.45" fill="#2e1208" opacity="0.9" stroke-linejoin="miter"/><path d="M505.92 54.4L502.12 57.8M503.05 56L502.12 57.8L504.02 57.07Z" stroke="#2e1208" stroke-width="0.45" fill="#2e1208" opacity="0.9" stroke-linejoin="miter"/><path d="M505.96 59.2L502.16 62.6M503.09 60.8L502.16 62.6L504.06 61.87Z" stroke="#2e1208" stroke-width="0.45" fill="#2e1208" opacity="0.9" stroke-linejoin="miter"/><path d="M506 64L502.2 67.4M503.13 65.6L502.2 67.4L504.1 66.67Z" stroke="#2e1208" stroke-width="0.45" fill="#2e1208" opacity="0.9" stroke-linejoin="miter"/><path d="M286.4 62L290 72.5M288.5 70.69L290 72.5L290.08 70.15Z" stroke="#3a3a3a" stroke-width="0.45" fill="#3a3a3a" opacity="1" stroke-linejoin="miter"/><path d="M356 63L364.5 76.5M362.62 75.08L364.5 76.5L364.04 74.19Z" stroke="#3a3a3a" stroke-width="0.45" fill="#3a3a3a" opacity="1" stroke-linejoin="miter"/><path d="M399 64L404.5 72M402.56 70.66L404.5 72L403.94 69.71Z" stroke="#3a3a3a" stroke-width="0.45" fill="#3a3a3a" opacity="1" stroke-linejoin="miter"/><path d="M442 64L446.5 77M444.99 75.19L446.5 77L446.57 74.65Z" stroke="#3a3a3a" stroke-width="0.45" fill="#3a3a3a" opacity="1" stroke-linejoin="miter"/><path d="M484 62L478 82.5M477.82 80.15L478 82.5L479.42 80.62Z" stroke="#3a3a3a" stroke-width="0.45" fill="#3a3a3a" opacity="1" stroke-linejoin="miter"/><path d="M485 64L480 80M479.86 77.65L480 80L481.45 78.15Z" stroke="#3a3a3a" stroke-width="0.45" fill="#3a3a3a" opacity="1" stroke-linejoin="miter"/><path d="M486 66L481.4 77M481.48 74.65L481.4 77L483.02 75.29Z" stroke="#3a3a3a" stroke-width="0.45" fill="#3a3a3a" opacity="1" stroke-linejoin="miter"/><path d="M505.5 66L499 76.5M499.45 74.19L499 76.5L500.87 75.07Z" stroke="#3a3a3a" stroke-width="0.45" fill="#3a3a3a" opacity="1" stroke-linejoin="miter"/><rect x="281" y="22.4" width="229.5" height="75.8" fill="none" stroke="#8c8c8c" stroke-width="0.8"/><path d="M285.3 98.2v-2.2M285.3 22.4v2.2M329.54 98.2v-2.2M329.54 22.4v2.2M373.78 98.2v-2.2M373.78 22.4v2.2M418.02 98.2v-2.2M418.02 22.4v2.2M462.26 98.2v-2.2M462.26 22.4v2.2M506.5 98.2v-2.2M506.5 22.4v2.2M281 27.3h2.2M510.5 27.3h-2.2M281 50.93h2.2M510.5 50.93h-2.2M281 74.57h2.2M510.5 74.57h-2.2" stroke="#8c8c8c" stroke-width="0.8" fill="none"/><text transform="translate(497.7 29.6) scale(0.88 1)" font-size="10" font-weight="bold" fill="#1a1a1a">b)</text><path d="M285.8 86.6L297.2 86.6M294.8 87.51L297.2 86.6L294.8 85.69Z" stroke="#6a6a6a" stroke-width="0.7" fill="#6a6a6a" opacity="1" stroke-linejoin="miter"/><text transform="translate(285.3 96.9) scale(0.84 1)" font-size="10" fill="#303030">0.03<tspan dx="0.9"> ms</tspan><tspan dy="-4.8" dx="1.2" font-size="6.6">-1</tspan></text><g clip-path="url(#c20)"><rect x="42.9" y="127" width="223.3" height="37.3" fill="url(#g16)"/><rect x="42.9" y="127" width="223.3" height="37.3" fill="url(#g17)"/><rect x="42.9" y="127" width="223.3" height="37.3" fill="url(#g18)"/><rect x="42.9" y="127" width="223.3" height="37.3" fill="url(#g19)"/></g><polyline points="45,124.4 50.08,124.47 55.15,124.54 60.23,124.6 65.31,124.51 70.38,124.42 75.46,124.33 80.54,124.25 85.62,124.16 90.69,124.07 95.77,123.97 100.85,123.74 105.92,123.71 111,124 116.08,124.29 121.15,124.58 126.23,124.81 131.31,124.87 136.38,124.93 141.46,124.99 146.54,125.05 151.62,125.1 156.69,125.16 161.77,125.15 166.85,125.02 171.92,124.88 177,124.75 182.08,124.61 187.15,124.48 192.23,124.41 197.31,124.43 202.38,124.45 207.46,124.47 212.54,124.49 217.62,124.5 222.69,124.52 227.77,124.54 232.85,124.56 237.92,124.58 243,124.6" fill="none" stroke="#444" stroke-width="0.9" stroke-dasharray="2.2 2.0"/><polyline points="44,169.49 49,168.84 54,169.39 59,169.29 64,169.5 69,169.25 74,168.91 79,169.03 84,168.78 89,169.08 94,168.93 99,169.01 104,169.27 109,169.58 114,169.41 119,169.76 124,170.3 129,170.51 134,169.91 139,169.41 144,169.75 149,169.26 154,169.83 159,169.56 164,169.55 169,169.61 174,169.8 179,170.17 184,169.79 189,170 194,170 199,169.81 204,169.89 209,169.57 214,169.54 219,169.62 224,169.91 229,169.76 234,169.69 239,169.85 244,169.77 247,169.8" fill="none" stroke="#333" stroke-width="0.9" stroke-linejoin="round"/><path d="M66.2 136L68.6 137.6M66.72 137.17L68.6 137.6L67.48 136.03Z" stroke="#2e0a08" stroke-width="0.45" fill="#2e0a08" opacity="0.9" stroke-linejoin="miter"/><path d="M66.29 139.43L68.8 140.89M66.9 140.57L68.8 140.89L67.59 139.39Z" stroke="#2e0a08" stroke-width="0.45" fill="#2e0a08" opacity="0.9" stroke-linejoin="miter"/><path d="M66.37 142.86L69 144.17M67.08 143.98L69 144.17L67.7 142.75Z" stroke="#2e0a08" stroke-width="0.45" fill="#2e0a08" opacity="0.9" stroke-linejoin="miter"/><path d="M66.46 146.29L69.2 147.46M67.28 147.38L69.2 147.46L67.81 146.12Z" stroke="#2e0a08" stroke-width="0.45" fill="#2e0a08" opacity="0.9" stroke-linejoin="miter"/><path d="M66.54 149.71L69.4 150.74M67.47 150.78L69.4 150.74L67.94 149.49Z" stroke="#2e0a08" stroke-width="0.45" fill="#2e0a08" opacity="0.9" stroke-linejoin="miter"/><path d="M66.63 153.14L69.6 154.03M67.68 154.17L69.6 154.03L68.07 152.86Z" stroke="#2e0a08" stroke-width="0.45" fill="#2e0a08" opacity="0.9" stroke-linejoin="miter"/><path d="M66.71 156.57L69.8 157.31M67.89 157.56L69.8 157.31L68.21 156.23Z" stroke="#2e0a08" stroke-width="0.45" fill="#2e0a08" opacity="0.9" stroke-linejoin="miter"/><path d="M66.8 160L70 160.6M68.1 160.94L70 160.6L68.36 159.6Z" stroke="#2e0a08" stroke-width="0.45" fill="#2e0a08" opacity="0.9" stroke-linejoin="miter"/><path d="M110.6 136L114.8 138.4M112.9 138.1L114.8 138.4L113.58 136.91Z" stroke="#2e0a08" stroke-width="0.45" fill="#2e0a08" opacity="0.9" stroke-linejoin="miter"/><path d="M110.66 139.34L115 141.51M113.08 141.32L115 141.51L113.7 140.1Z" stroke="#2e0a08" stroke-width="0.45" fill="#2e0a08" opacity="0.9" stroke-linejoin="miter"/><path d="M110.71 142.69L115.2 144.63M113.28 144.54L115.2 144.63L113.82 143.29Z" stroke="#2e0a08" stroke-width="0.45" fill="#2e0a08" opacity="0.9" stroke-linejoin="miter"/><path d="M110.77 146.03L115.4 147.74M113.47 147.76L115.4 147.74L113.95 146.48Z" stroke="#2e0a08" stroke-width="0.45" fill="#2e0a08" opacity="0.9" stroke-linejoin="miter"/><path d="M110.83 149.37L115.6 150.86M113.68 150.98L115.6 150.86L114.08 149.67Z" stroke="#2e0a08" stroke-width="0.45" fill="#2e0a08" opacity="0.9" stroke-linejoin="miter"/><path d="M110.89 152.71L115.8 153.97M113.89 154.19L115.8 153.97L114.23 152.86Z" stroke="#2e0a08" stroke-width="0.45" fill="#2e0a08" opacity="0.9" stroke-linejoin="miter"/><path d="M110.94 156.06L116 157.09M114.1 157.4L116 157.09L114.37 156.06Z" stroke="#2e0a08" stroke-width="0.45" fill="#2e0a08" opacity="0.9" stroke-linejoin="miter"/><path d="M111 159.4L116.2 160.2M114.32 160.6L116.2 160.2L114.52 159.25Z" stroke="#2e0a08" stroke-width="0.45" fill="#2e0a08" opacity="0.9" stroke-linejoin="miter"/><path d="M153.4 135L160.8 138.4M158.88 138.27L160.8 138.4L159.45 137.03Z" stroke="#2e0a08" stroke-width="0.45" fill="#2e0a08" opacity="0.9" stroke-linejoin="miter"/><path d="M153.49 138.49L160.94 141.54M159.02 141.49L160.94 141.54L159.54 140.23Z" stroke="#2e0a08" stroke-width="0.45" fill="#2e0a08" opacity="0.9" stroke-linejoin="miter"/><path d="M153.57 141.97L161.09 144.69M159.16 144.72L161.09 144.69L159.63 143.43Z" stroke="#2e0a08" stroke-width="0.45" fill="#2e0a08" opacity="0.9" stroke-linejoin="miter"/><path d="M153.66 145.46L161.23 147.83M159.31 147.94L161.23 147.83L159.72 146.64Z" stroke="#2e0a08" stroke-width="0.45" fill="#2e0a08" opacity="0.9" stroke-linejoin="miter"/><path d="M153.74 148.94L161.37 150.97M159.46 151.17L161.37 150.97L159.81 149.85Z" stroke="#2e0a08" stroke-width="0.45" fill="#2e0a08" opacity="0.9" stroke-linejoin="miter"/><path d="M153.83 152.43L161.51 154.11M159.61 154.4L161.51 154.11L159.9 153.06Z" stroke="#2e0a08" stroke-width="0.45" fill="#2e0a08" opacity="0.9" stroke-linejoin="miter"/><path d="M153.91 155.91L161.66 157.26M159.77 157.62L161.66 157.26L160 156.28Z" stroke="#2e0a08" stroke-width="0.45" fill="#2e0a08" opacity="0.9" stroke-linejoin="miter"/><path d="M154 159.4L161.8 160.4M159.93 160.85L161.8 160.4L160.1 159.49Z" stroke="#2e0a08" stroke-width="0.45" fill="#2e0a08" opacity="0.9" stroke-linejoin="miter"/><path d="M199 136L205 145M203.43 143.88L205 145L204.57 143.12Z" stroke="#2e0a08" stroke-width="0.45" fill="#2e0a08" opacity="0.9" stroke-linejoin="miter"/><path d="M199.14 139.14L205.37 147.49M203.75 146.45L205.37 147.49L204.84 145.63Z" stroke="#2e0a08" stroke-width="0.45" fill="#2e0a08" opacity="0.9" stroke-linejoin="miter"/><path d="M199.29 142.29L205.74 149.97M204.06 149.03L205.74 149.97L205.11 148.15Z" stroke="#2e0a08" stroke-width="0.45" fill="#2e0a08" opacity="0.9" stroke-linejoin="miter"/><path d="M199.43 145.43L206.11 152.46M204.38 151.62L206.11 152.46L205.37 150.68Z" stroke="#2e0a08" stroke-width="0.45" fill="#2e0a08" opacity="0.9" stroke-linejoin="miter"/><path d="M199.57 148.57L206.49 154.94M204.7 154.23L206.49 154.94L205.63 153.22Z" stroke="#2e0a08" stroke-width="0.45" fill="#2e0a08" opacity="0.9" stroke-linejoin="miter"/><path d="M199.71 151.71L206.86 157.43M205.02 156.84L206.86 157.43L205.88 155.77Z" stroke="#2e0a08" stroke-width="0.45" fill="#2e0a08" opacity="0.9" stroke-linejoin="miter"/><path d="M199.86 154.86L207.23 159.91M205.36 159.46L207.23 159.91L206.13 158.33Z" stroke="#2e0a08" stroke-width="0.45" fill="#2e0a08" opacity="0.9" stroke-linejoin="miter"/><path d="M200 158L207.6 162.4M205.7 162.09L207.6 162.4L206.38 160.91Z" stroke="#2e0a08" stroke-width="0.45" fill="#2e0a08" opacity="0.9" stroke-linejoin="miter"/><path d="M243.2 136L245.6 144M244.43 142.47L245.6 144L245.74 142.08Z" stroke="#2e0a08" stroke-width="0.45" fill="#2e0a08" opacity="0.9" stroke-linejoin="miter"/><path d="M243.4 139.14L245.89 146.86M244.68 145.35L245.89 146.86L245.98 144.93Z" stroke="#2e0a08" stroke-width="0.45" fill="#2e0a08" opacity="0.9" stroke-linejoin="miter"/><path d="M243.6 142.29L246.17 149.71M244.94 148.24L246.17 149.71L246.23 147.79Z" stroke="#2e0a08" stroke-width="0.45" fill="#2e0a08" opacity="0.9" stroke-linejoin="miter"/><path d="M243.8 145.43L246.46 152.57M245.19 151.12L246.46 152.57L246.47 150.65Z" stroke="#2e0a08" stroke-width="0.45" fill="#2e0a08" opacity="0.9" stroke-linejoin="miter"/><path d="M244 148.57L246.74 155.43M245.44 154.01L246.74 155.43L246.71 153.5Z" stroke="#2e0a08" stroke-width="0.45" fill="#2e0a08" opacity="0.9" stroke-linejoin="miter"/><path d="M244.2 151.71L247.03 158.29M245.69 156.9L247.03 158.29L246.95 156.36Z" stroke="#2e0a08" stroke-width="0.45" fill="#2e0a08" opacity="0.9" stroke-linejoin="miter"/><path d="M244.4 154.86L247.31 161.14M245.94 159.8L247.31 161.14L247.18 159.22Z" stroke="#2e0a08" stroke-width="0.45" fill="#2e0a08" opacity="0.9" stroke-linejoin="miter"/><path d="M244.6 158L247.6 164M246.18 162.7L247.6 164L247.41 162.08Z" stroke="#2e0a08" stroke-width="0.45" fill="#2e0a08" opacity="0.9" stroke-linejoin="miter"/><polyline points="44.4,137 44.5,163" fill="none" stroke="#3a0606" stroke-width="0.8" stroke-dasharray="2.4 1.2"/><polyline points="265,136 265.2,170" fill="none" stroke="#2a0606" stroke-width="1" stroke-dasharray="2.6 1.2"/><path d="M66 163L72 163M70 163.76L72 163L70 162.24Z" stroke="#444" stroke-width="0.5" fill="#444" opacity="1" stroke-linejoin="miter"/><polyline points="244.3,162.7 247.4,169.4" fill="none" stroke="#333" stroke-width="0.7" stroke-linejoin="round"/><path d="M201 159L209 163.6M206.89 163.26L209 163.6L207.65 161.94Z" stroke="#333" stroke-width="0.45" fill="#333" opacity="1" stroke-linejoin="miter"/><rect x="40.1" y="116" width="229.6" height="75.3" fill="none" stroke="#8c8c8c" stroke-width="0.8"/><path d="M43.9 191.3v-2.2M43.9 116v2.2M88.1 191.3v-2.2M88.1 116v2.2M132.3 191.3v-2.2M132.3 116v2.2M176.5 191.3v-2.2M176.5 116v2.2M220.7 191.3v-2.2M220.7 116v2.2M264.9 191.3v-2.2M264.9 116v2.2M40.1 120.9h2.2M269.7 120.9h-2.2M40.1 144.37h2.2M269.7 144.37h-2.2M40.1 167.83h2.2M269.7 167.83h-2.2" stroke="#8c8c8c" stroke-width="0.8" fill="none"/><text transform="translate(256.4 123.8) scale(0.88 1)" font-size="10" font-weight="bold" fill="#1a1a1a">c)</text><path d="M44.6 179.8L56 179.8M53.6 180.71L56 179.8L53.6 178.89Z" stroke="#6a6a6a" stroke-width="0.7" fill="#6a6a6a" opacity="1" stroke-linejoin="miter"/><text transform="translate(44.1 190) scale(0.84 1)" font-size="10" fill="#303030">0.03<tspan dx="0.9"> ms</tspan><tspan dy="-4.8" dx="1.2" font-size="6.6">-1</tspan></text><g clip-path="url(#c26)"><rect x="284.3" y="124" width="223.5" height="47.2" fill="url(#g21)"/><rect x="284.3" y="124" width="223.5" height="47.2" fill="url(#g22)"/><rect x="284.3" y="124" width="223.5" height="47.2" fill="url(#g23)"/><rect x="284.3" y="124" width="223.5" height="47.2" fill="url(#g24)"/><rect x="284.3" y="124" width="223.5" height="47.2" fill="url(#g25)"/></g><polyline points="290,119.6 295.13,119.62 300.26,119.64 305.38,119.66 310.51,119.68 315.64,119.7 320.77,119.72 325.9,119.74 331.03,119.76 336.15,119.78 341.28,119.79 346.41,119.74 351.54,119.68 356.67,119.63 361.79,119.58 366.92,119.53 372.05,119.48 377.18,119.43 382.31,119.38 387.44,119.33 392.56,119.27 397.69,119.22 402.82,119.16 407.95,119.08 413.08,119 418.21,118.93 423.33,118.85 428.46,118.77 433.59,118.7 438.72,118.62 443.85,118.68 448.97,118.78 454.1,118.88 459.23,118.98 464.36,119.09 469.49,119.19 474.62,119.29 479.74,119.39 484.87,119.5 490,119.6" fill="none" stroke="#444" stroke-width="0.9" stroke-dasharray="2.2 2.0"/><polyline points="285.3,165.99 288.8,165.76 292.3,165.47 295.8,165.58 299.3,165.04 302.8,165.09 306.3,165.11 309.8,164.64 313.3,164.69 316.8,164.57 320.3,164.2 323.8,164.14 327.3,164.08 330.8,163.78 334.3,163.7 337.8,163.27 341.3,163.52 344.8,163.7 348.3,164.09 351.8,164.48 355.3,164.55 358.8,164.84 362.3,164.89 365.8,165.25 369.3,165.2 372.8,165.69 376.3,166.31 379.8,166.8 383.3,167.14 386.8,167.6 390.3,168.37 393.8,169.04 397.3,169.77 400.8,170.79 404.3,171.71 407.8,173.15 411.3,174.32 414.8,175.16 418.3,176.87 421.8,178.52 425.3,179.95 428.8,181.79 432.3,182.03 435.8,180.89 439.3,179.81 442.8,178.32 446.3,177.51 449.8,177.17 453.3,177.56 456.8,178.28 460.3,179.54 463.8,180.95 467.3,181.3 470.8,181.85 474.3,182.34 477.8,182.73 481.3,182.07 484.8,180.45 488.3,178.21 491.8,175.94 495.3,175.25 497,175.5" fill="none" stroke="#454545" stroke-width="1.2" stroke-linejoin="round"/><path d="M285.4 135L290.4 136.2M287 136.64L290.4 136.2L287.57 134.27Z" stroke="#241408" stroke-width="0.45" fill="#241408" opacity="0.92" stroke-linejoin="miter"/><path d="M285.4 139.6L290.52 140.04M287.23 140.98L290.52 140.04L287.44 138.55Z" stroke="#241408" stroke-width="0.45" fill="#241408" opacity="0.92" stroke-linejoin="miter"/><path d="M285.4 144.2L290.64 143.88M287.52 145.29L290.64 143.88L287.37 142.86Z" stroke="#241408" stroke-width="0.45" fill="#241408" opacity="0.92" stroke-linejoin="miter"/><path d="M285.4 148.8L290.76 147.72M287.86 149.54L290.76 147.72L287.38 147.16Z" stroke="#241408" stroke-width="0.45" fill="#241408" opacity="0.92" stroke-linejoin="miter"/><path d="M285.4 153.4L290.88 151.56M288.23 153.73L290.88 151.56L287.46 151.43Z" stroke="#241408" stroke-width="0.45" fill="#241408" opacity="0.92" stroke-linejoin="miter"/><path d="M285.4 158L291 155.4M288.61 157.85L291 155.4L287.59 155.64Z" stroke="#241408" stroke-width="0.45" fill="#241408" opacity="0.92" stroke-linejoin="miter"/><path d="M329.5 134L340.5 135M337.2 135.92L340.5 135L337.42 133.5Z" stroke="#241408" stroke-width="0.45" fill="#241408" opacity="0.92" stroke-linejoin="miter"/><path d="M329.5 138.8L342.1 138.6M338.92 139.87L342.1 138.6L338.88 137.43Z" stroke="#241408" stroke-width="0.45" fill="#241408" opacity="0.92" stroke-linejoin="miter"/><path d="M329.5 143.6L343.7 142.2M340.63 143.72L343.7 142.2L340.4 141.3Z" stroke="#241408" stroke-width="0.45" fill="#241408" opacity="0.92" stroke-linejoin="miter"/><path d="M329.5 148.4L345.3 145.8M342.34 147.52L345.3 145.8L341.95 145.12Z" stroke="#241408" stroke-width="0.45" fill="#241408" opacity="0.92" stroke-linejoin="miter"/><path d="M329.5 153.2L346.9 149.4M344.03 151.27L346.9 149.4L343.51 148.89Z" stroke="#241408" stroke-width="0.45" fill="#241408" opacity="0.92" stroke-linejoin="miter"/><path d="M329.5 158L348.5 153M345.71 154.99L348.5 153L345.1 152.64Z" stroke="#241408" stroke-width="0.45" fill="#241408" opacity="0.92" stroke-linejoin="miter"/><path d="M373.5 135L390.5 137.6M387.15 138.32L390.5 137.6L387.52 135.91Z" stroke="#241408" stroke-width="0.45" fill="#241408" opacity="0.92" stroke-linejoin="miter"/><path d="M373.5 139.6L391.5 142.48M388.15 143.18L391.5 142.48L388.53 140.77Z" stroke="#241408" stroke-width="0.45" fill="#241408" opacity="0.92" stroke-linejoin="miter"/><path d="M373.5 144.2L392.5 147.36M389.14 148.03L392.5 147.36L389.54 145.64Z" stroke="#241408" stroke-width="0.45" fill="#241408" opacity="0.92" stroke-linejoin="miter"/><path d="M373.5 148.8L393.5 152.24M390.14 152.9L393.5 152.24L390.55 150.5Z" stroke="#241408" stroke-width="0.45" fill="#241408" opacity="0.92" stroke-linejoin="miter"/><path d="M373.5 153.4L394.5 157.12M391.14 157.76L394.5 157.12L391.56 155.36Z" stroke="#241408" stroke-width="0.45" fill="#241408" opacity="0.92" stroke-linejoin="miter"/><path d="M373.5 158L395.5 162M392.13 162.62L395.5 162L392.57 160.23Z" stroke="#241408" stroke-width="0.45" fill="#241408" opacity="0.92" stroke-linejoin="miter"/><path d="M400.8 130L417.3 133.8M413.91 134.27L417.3 133.8L414.45 131.9Z" stroke="#241408" stroke-width="0.45" fill="#241408" opacity="0.92" stroke-linejoin="miter"/><path d="M400.8 135L417.55 139.5M414.14 139.84L417.55 139.5L414.78 137.5Z" stroke="#241408" stroke-width="0.45" fill="#241408" opacity="0.92" stroke-linejoin="miter"/><path d="M400.8 140L417.8 145.2M414.38 145.43L417.8 145.2L415.1 143.1Z" stroke="#241408" stroke-width="0.45" fill="#241408" opacity="0.92" stroke-linejoin="miter"/><path d="M400.8 145L418.05 150.9M414.63 151.01L418.05 150.9L415.42 148.71Z" stroke="#241408" stroke-width="0.45" fill="#241408" opacity="0.92" stroke-linejoin="miter"/><path d="M400.8 150L418.3 156.6M414.88 156.61L418.3 156.6L415.73 154.33Z" stroke="#241408" stroke-width="0.45" fill="#241408" opacity="0.92" stroke-linejoin="miter"/><path d="M400.8 155L418.55 162.3M415.13 162.21L418.55 162.3L416.05 159.96Z" stroke="#241408" stroke-width="0.45" fill="#241408" opacity="0.92" stroke-linejoin="miter"/><path d="M400.8 160L418.8 168M415.38 167.81L418.8 168L416.37 165.59Z" stroke="#241408" stroke-width="0.45" fill="#241408" opacity="0.92" stroke-linejoin="miter"/><path d="M444 130L455 140M451.81 138.75L455 140L453.45 136.95Z" stroke="#241408" stroke-width="0.45" fill="#241408" opacity="0.92" stroke-linejoin="miter"/><path d="M444.22 133.89L456.11 145.44M452.97 144.09L456.11 145.44L454.66 142.34Z" stroke="#241408" stroke-width="0.45" fill="#241408" opacity="0.92" stroke-linejoin="miter"/><path d="M444.44 137.78L457.22 150.89M454.12 149.45L457.22 150.89L455.86 147.75Z" stroke="#241408" stroke-width="0.45" fill="#241408" opacity="0.92" stroke-linejoin="miter"/><path d="M444.67 141.67L458.33 156.33M455.26 154.82L458.33 156.33L457.04 153.16Z" stroke="#241408" stroke-width="0.45" fill="#241408" opacity="0.92" stroke-linejoin="miter"/><path d="M444.89 145.56L459.44 161.78M456.4 160.21L459.44 161.78L458.21 158.58Z" stroke="#241408" stroke-width="0.45" fill="#241408" opacity="0.92" stroke-linejoin="miter"/><path d="M445.11 149.44L460.56 167.22M457.54 165.6L460.56 167.22L459.37 164.01Z" stroke="#241408" stroke-width="0.45" fill="#241408" opacity="0.92" stroke-linejoin="miter"/><path d="M445.33 153.33L461.67 172.67M458.67 171.01L461.67 172.67L460.53 169.44Z" stroke="#241408" stroke-width="0.45" fill="#241408" opacity="0.92" stroke-linejoin="miter"/><path d="M445.56 157.22L462.78 178.11M459.8 176.42L462.78 178.11L461.68 174.87Z" stroke="#241408" stroke-width="0.45" fill="#241408" opacity="0.92" stroke-linejoin="miter"/><path d="M445.78 161.11L463.89 183.56M460.93 181.83L463.89 183.56L462.83 180.3Z" stroke="#241408" stroke-width="0.45" fill="#241408" opacity="0.92" stroke-linejoin="miter"/><path d="M446 165L465 189M462.06 187.25L465 189L463.97 185.74Z" stroke="#241408" stroke-width="0.45" fill="#241408" opacity="0.92" stroke-linejoin="miter"/><path d="M471.3 130L479.3 139M476.27 137.42L479.3 139L478.08 135.8Z" stroke="#241408" stroke-width="0.45" fill="#241408" opacity="0.92" stroke-linejoin="miter"/><path d="M471.71 133.89L480.6 144.89M477.64 143.16L480.6 144.89L479.53 141.64Z" stroke="#241408" stroke-width="0.45" fill="#241408" opacity="0.92" stroke-linejoin="miter"/><path d="M472.12 137.78L481.9 150.78M479 148.95L481.9 150.78L480.95 147.49Z" stroke="#241408" stroke-width="0.45" fill="#241408" opacity="0.92" stroke-linejoin="miter"/><path d="M472.53 141.67L483.2 156.67M480.35 154.76L483.2 156.67L482.34 153.35Z" stroke="#241408" stroke-width="0.45" fill="#241408" opacity="0.92" stroke-linejoin="miter"/><path d="M472.94 145.56L484.5 162.56M481.7 160.59L484.5 162.56L483.71 159.23Z" stroke="#241408" stroke-width="0.45" fill="#241408" opacity="0.92" stroke-linejoin="miter"/><path d="M473.36 149.44L485.8 168.44M483.03 166.43L485.8 168.44L485.06 165.1Z" stroke="#241408" stroke-width="0.45" fill="#241408" opacity="0.92" stroke-linejoin="miter"/><path d="M473.77 153.33L487.1 174.33M484.36 172.28L487.1 174.33L486.41 170.98Z" stroke="#241408" stroke-width="0.45" fill="#241408" opacity="0.92" stroke-linejoin="miter"/><path d="M474.18 157.22L488.4 180.22M485.68 178.14L488.4 180.22L487.75 176.86Z" stroke="#241408" stroke-width="0.45" fill="#241408" opacity="0.92" stroke-linejoin="miter"/><path d="M474.59 161.11L489.7 186.11M487 184L489.7 186.11L489.09 182.74Z" stroke="#241408" stroke-width="0.45" fill="#241408" opacity="0.92" stroke-linejoin="miter"/><path d="M475 165L491 192M488.32 189.87L491 192L490.41 188.63Z" stroke="#241408" stroke-width="0.45" fill="#241408" opacity="0.92" stroke-linejoin="miter"/><path d="M395 160.4L422 169.4M419.01 169.52L422 169.4L419.68 167.51Z" stroke="#3a3a3a" stroke-width="0.45" fill="#3a3a3a" opacity="1" stroke-linejoin="miter"/><path d="M401 162.8L426.6 176.4M423.63 176.03L426.6 176.4L424.63 174.15Z" stroke="#3a3a3a" stroke-width="0.45" fill="#3a3a3a" opacity="1" stroke-linejoin="miter"/><path d="M446 160L468.4 188.4M465.83 186.86L468.4 188.4L467.5 185.54Z" stroke="#3a3a3a" stroke-width="0.45" fill="#3a3a3a" opacity="1" stroke-linejoin="miter"/><path d="M447 166L466.6 178M463.66 177.45L466.6 178L464.77 175.63Z" stroke="#3a3a3a" stroke-width="0.45" fill="#3a3a3a" opacity="1" stroke-linejoin="miter"/><path d="M458 178L468 188.6M465.3 187.29L468 188.6L466.85 185.83Z" stroke="#3a3a3a" stroke-width="0.45" fill="#3a3a3a" opacity="1" stroke-linejoin="miter"/><path d="M474 160L483.7 190.8M481.84 188.45L483.7 190.8L483.87 187.81Z" stroke="#3a3a3a" stroke-width="0.45" fill="#3a3a3a" opacity="1" stroke-linejoin="miter"/><path d="M475 160L495.4 187.4M492.87 185.79L495.4 187.4L494.58 184.52Z" stroke="#3a3a3a" stroke-width="0.45" fill="#3a3a3a" opacity="1" stroke-linejoin="miter"/><path d="M477 164L490 190.8M487.82 188.75L490 190.8L489.74 187.82Z" stroke="#3a3a3a" stroke-width="0.45" fill="#3a3a3a" opacity="1" stroke-linejoin="miter"/><path d="M473 158L493 173.4M490.13 172.53L493 173.4L491.43 170.85Z" stroke="#3a3a3a" stroke-width="0.45" fill="#3a3a3a" opacity="1" stroke-linejoin="miter"/><path d="M472 168L480 190M478.04 187.73L480 190L480.04 187Z" stroke="#3a3a3a" stroke-width="0.45" fill="#3a3a3a" opacity="1" stroke-linejoin="miter"/><path d="M506.4 170L502.4 190.6M501.89 187.65L502.4 190.6L503.98 188.05Z" stroke="#3a3a3a" stroke-width="0.45" fill="#3a3a3a" opacity="1" stroke-linejoin="miter"/><polyline points="500,191 503.4,180 506,170" fill="none" stroke="#444" stroke-width="0.5" stroke-linejoin="round"/><polyline points="507,126 506.4,150 506.8,168 505.6,180 503,190.6" fill="none" stroke="#333" stroke-width="1" stroke-dasharray="2.6 1.6"/><rect x="281" y="116" width="229.5" height="75.3" fill="none" stroke="#8c8c8c" stroke-width="0.8"/><path d="M285.3 191.3v-2.2M285.3 116v2.2M329.54 191.3v-2.2M329.54 116v2.2M373.78 191.3v-2.2M373.78 116v2.2M418.02 191.3v-2.2M418.02 116v2.2M462.26 191.3v-2.2M462.26 116v2.2M506.5 191.3v-2.2M506.5 116v2.2M281 120.9h2.2M510.5 120.9h-2.2M281 144.37h2.2M510.5 144.37h-2.2M281 167.83h2.2M510.5 167.83h-2.2" stroke="#8c8c8c" stroke-width="0.8" fill="none"/><text transform="translate(497.7 123.7) scale(0.88 1)" font-size="10" font-weight="bold" fill="#1a1a1a">d)</text><path d="M285.8 179.8L297.2 179.8M294.8 180.71L297.2 179.8L294.8 178.89Z" stroke="#6a6a6a" stroke-width="0.7" fill="#6a6a6a" opacity="1" stroke-linejoin="miter"/><text transform="translate(285.3 190) scale(0.84 1)" font-size="10" fill="#303030">0.03<tspan dx="0.9"> ms</tspan><tspan dy="-4.8" dx="1.2" font-size="6.6">-1</tspan></text><g clip-path="url(#c32)"><rect x="42.9" y="217.6" width="223.1" height="37.6" fill="url(#g27)"/><rect x="42.9" y="217.6" width="223.1" height="37.6" fill="url(#g28)"/><rect x="42.9" y="217.6" width="223.1" height="37.6" fill="url(#g29)"/><rect x="42.9" y="217.6" width="223.1" height="37.6" fill="url(#g30)"/><rect x="42.9" y="217.6" width="223.1" height="37.6" fill="url(#g31)"/></g><polyline points="45,213.4 50.09,213.48 55.18,213.56 60.27,213.64 65.36,213.73 70.45,213.81 75.54,213.88 80.63,213.96 85.72,214.04 90.81,214.11 95.9,214.19 100.99,214.26 106.08,214.34 111.17,214.38 116.26,214.32 121.35,214.25 126.44,214.18 131.53,214.11 136.62,214.05 141.71,213.95 146.79,213.8 151.88,213.64 156.97,213.49 162.06,213.26 167.15,212.92 172.24,212.6 177.33,212.68 182.42,212.76 187.51,212.92 192.6,213.16 197.69,213.41 202.78,213.65 207.87,213.9 212.96,214.09 218.05,214.24 223.14,214.39 228.23,214.54 233.32,214.7 238.41,214.85 243.5,215" fill="none" stroke="#444" stroke-width="0.9" stroke-dasharray="2.2 2.0"/><polyline points="44.6,257.6 44.6,257.57 49.6,257.7 54.6,257.98 59.6,257.77 64.6,257.84 69.6,257.93 74.6,257.73 79.6,257.96 84.6,258.07 89.6,257.81 94.6,256.99 99.6,257.33 104.6,257.47 109.6,258.16 114.6,258.07 119.6,257.63 124.6,258.14 129.6,258.08 134.6,257.85 139.6,257.77 144.6,257.45 149.6,257.31 154.6,257.82 159.6,257.77 164.6,258.07 169.6,258.33 174.6,258.43 179.6,258.91 184.6,259.12 189.6,259.59 194.6,259.6 199.6,259.87 204.6,259.98 209.6,260.28 214.6,260.36 219.6,260.43 224.6,261.03 229.6,261.2 234.6,261.28 239.6,261.37 244.6,261.31 247,261.5 244.8,254.3 243.4,230" fill="none" stroke="#3a3a3a" stroke-width="0.8" stroke-linejoin="round"/><path d="M44.6 257.6L41.6 279M40.89 275.87L41.6 279L43.15 276.19Z" stroke="#3a3a3a" stroke-width="0.7" fill="#3a3a3a" opacity="1" stroke-linejoin="miter"/><polyline points="44,258 44,269.4" fill="none" stroke="#555" stroke-width="0.5" stroke-linejoin="round"/><path d="M44.4 227L46.2 228.6M44.3 227.88L46.2 228.6L45.26 226.8Z" stroke="#2a0a08" stroke-width="0.45" fill="#2a0a08" opacity="0.9" stroke-linejoin="miter"/><path d="M44.4 232.75L46.2 234.35M44.3 233.63L46.2 234.35L45.26 232.55Z" stroke="#2a0a08" stroke-width="0.45" fill="#2a0a08" opacity="0.9" stroke-linejoin="miter"/><path d="M44.4 238.5L46.2 240.1M44.3 239.38L46.2 240.1L45.26 238.3Z" stroke="#2a0a08" stroke-width="0.45" fill="#2a0a08" opacity="0.9" stroke-linejoin="miter"/><path d="M44.4 244.25L46.2 245.85M44.3 245.13L46.2 245.85L45.26 244.05Z" stroke="#2a0a08" stroke-width="0.45" fill="#2a0a08" opacity="0.9" stroke-linejoin="miter"/><path d="M44.4 250L46.2 251.6M44.3 250.88L46.2 251.6L45.26 249.8Z" stroke="#2a0a08" stroke-width="0.45" fill="#2a0a08" opacity="0.9" stroke-linejoin="miter"/><path d="M88.2 226.5L94.2 229.3M92.17 229.15L94.2 229.3L92.78 227.84Z" stroke="#2a0a08" stroke-width="0.45" fill="#2a0a08" opacity="0.9" stroke-linejoin="miter"/><path d="M88.4 231.62L94.4 234.43M92.37 234.28L94.4 234.43L92.98 232.97Z" stroke="#2a0a08" stroke-width="0.45" fill="#2a0a08" opacity="0.9" stroke-linejoin="miter"/><path d="M88.6 236.75L94.6 239.55M92.57 239.4L94.6 239.55L93.18 238.09Z" stroke="#2a0a08" stroke-width="0.45" fill="#2a0a08" opacity="0.9" stroke-linejoin="miter"/><path d="M88.8 241.88L94.8 244.68M92.77 244.53L94.8 244.68L93.38 243.22Z" stroke="#2a0a08" stroke-width="0.45" fill="#2a0a08" opacity="0.9" stroke-linejoin="miter"/><path d="M89 247L95 249.8M92.97 249.65L95 249.8L93.58 248.34Z" stroke="#2a0a08" stroke-width="0.45" fill="#2a0a08" opacity="0.9" stroke-linejoin="miter"/><path d="M132.4 227L137.6 230.2M135.6 229.82L137.6 230.2L136.36 228.59Z" stroke="#2a0a08" stroke-width="0.45" fill="#2a0a08" opacity="0.9" stroke-linejoin="miter"/><path d="M132.65 231.75L137.85 234.95M135.85 234.57L137.85 234.95L136.61 233.34Z" stroke="#2a0a08" stroke-width="0.45" fill="#2a0a08" opacity="0.9" stroke-linejoin="miter"/><path d="M132.9 236.5L138.1 239.7M136.1 239.32L138.1 239.7L136.86 238.09Z" stroke="#2a0a08" stroke-width="0.45" fill="#2a0a08" opacity="0.9" stroke-linejoin="miter"/><path d="M133.15 241.25L138.35 244.45M136.35 244.07L138.35 244.45L137.11 242.84Z" stroke="#2a0a08" stroke-width="0.45" fill="#2a0a08" opacity="0.9" stroke-linejoin="miter"/><path d="M133.4 246L138.6 249.2M136.6 248.82L138.6 249.2L137.36 247.59Z" stroke="#2a0a08" stroke-width="0.45" fill="#2a0a08" opacity="0.9" stroke-linejoin="miter"/><path d="M177 227L182.6 230.4M180.6 230.03L182.6 230.4L181.35 228.8Z" stroke="#2a0a08" stroke-width="0.45" fill="#2a0a08" opacity="0.9" stroke-linejoin="miter"/><path d="M177.25 231.75L182.85 235.15M180.85 234.78L182.85 235.15L181.6 233.55Z" stroke="#2a0a08" stroke-width="0.45" fill="#2a0a08" opacity="0.9" stroke-linejoin="miter"/><path d="M177.5 236.5L183.1 239.9M181.1 239.53L183.1 239.9L181.85 238.3Z" stroke="#2a0a08" stroke-width="0.45" fill="#2a0a08" opacity="0.9" stroke-linejoin="miter"/><path d="M177.75 241.25L183.35 244.65M181.35 244.28L183.35 244.65L182.1 243.05Z" stroke="#2a0a08" stroke-width="0.45" fill="#2a0a08" opacity="0.9" stroke-linejoin="miter"/><path d="M178 246L183.6 249.4M181.6 249.03L183.6 249.4L182.35 247.8Z" stroke="#2a0a08" stroke-width="0.45" fill="#2a0a08" opacity="0.9" stroke-linejoin="miter"/><path d="M199.4 227L203.8 231M201.91 230.26L203.8 231L202.88 229.19Z" stroke="#2a0a08" stroke-width="0.45" fill="#2a0a08" opacity="0.9" stroke-linejoin="miter"/><path d="M199.65 231.75L204.05 235.75M202.16 235.01L204.05 235.75L203.13 233.94Z" stroke="#2a0a08" stroke-width="0.45" fill="#2a0a08" opacity="0.9" stroke-linejoin="miter"/><path d="M199.9 236.5L204.3 240.5M202.41 239.76L204.3 240.5L203.38 238.69Z" stroke="#2a0a08" stroke-width="0.45" fill="#2a0a08" opacity="0.9" stroke-linejoin="miter"/><path d="M200.15 241.25L204.55 245.25M202.66 244.51L204.55 245.25L203.63 243.44Z" stroke="#2a0a08" stroke-width="0.45" fill="#2a0a08" opacity="0.9" stroke-linejoin="miter"/><path d="M200.4 246L204.8 250M202.91 249.26L204.8 250L203.88 248.19Z" stroke="#2a0a08" stroke-width="0.45" fill="#2a0a08" opacity="0.9" stroke-linejoin="miter"/><path d="M220 227L224 231.2M222.17 230.32L224 231.2L223.21 229.33Z" stroke="#2a0a08" stroke-width="0.45" fill="#2a0a08" opacity="0.9" stroke-linejoin="miter"/><path d="M220.25 231.75L224.25 235.95M222.42 235.07L224.25 235.95L223.46 234.08Z" stroke="#2a0a08" stroke-width="0.45" fill="#2a0a08" opacity="0.9" stroke-linejoin="miter"/><path d="M220.5 236.5L224.5 240.7M222.67 239.82L224.5 240.7L223.71 238.83Z" stroke="#2a0a08" stroke-width="0.45" fill="#2a0a08" opacity="0.9" stroke-linejoin="miter"/><path d="M220.75 241.25L224.75 245.45M222.92 244.57L224.75 245.45L223.96 243.58Z" stroke="#2a0a08" stroke-width="0.45" fill="#2a0a08" opacity="0.9" stroke-linejoin="miter"/><path d="M221 246L225 250.2M223.17 249.32L225 250.2L224.21 248.33Z" stroke="#2a0a08" stroke-width="0.45" fill="#2a0a08" opacity="0.9" stroke-linejoin="miter"/><path d="M243 228L244.2 232M242.96 230.39L244.2 232L244.35 229.97Z" stroke="#2a0a08" stroke-width="0.45" fill="#2a0a08" opacity="0.9" stroke-linejoin="miter"/><path d="M243.4 233L244.6 237M243.36 235.39L244.6 237L244.75 234.97Z" stroke="#2a0a08" stroke-width="0.45" fill="#2a0a08" opacity="0.9" stroke-linejoin="miter"/><path d="M243.8 238L245 242M243.76 240.39L245 242L245.15 239.97Z" stroke="#2a0a08" stroke-width="0.45" fill="#2a0a08" opacity="0.9" stroke-linejoin="miter"/><path d="M244.2 243L245.4 247M244.16 245.39L245.4 247L245.55 244.97Z" stroke="#2a0a08" stroke-width="0.45" fill="#2a0a08" opacity="0.9" stroke-linejoin="miter"/><path d="M244.6 248L245.8 252M244.56 250.39L245.8 252L245.95 249.97Z" stroke="#2a0a08" stroke-width="0.45" fill="#2a0a08" opacity="0.9" stroke-linejoin="miter"/><path d="M88.5 252.5L97 257M94.66 256.71L97 257L95.45 255.23Z" stroke="#3a3a3a" stroke-width="0.45" fill="#3a3a3a" opacity="1" stroke-linejoin="miter"/><path d="M133 248L139 252.6M136.75 251.92L139 252.6L137.76 250.6Z" stroke="#3a3a3a" stroke-width="0.45" fill="#3a3a3a" opacity="1" stroke-linejoin="miter"/><path d="M178 249L184.5 255M182.32 254.12L184.5 255L183.45 252.89Z" stroke="#3a3a3a" stroke-width="0.45" fill="#3a3a3a" opacity="1" stroke-linejoin="miter"/><path d="M200 251L206 257.5M203.89 256.45L206 257.5L205.12 255.32Z" stroke="#3a3a3a" stroke-width="0.45" fill="#3a3a3a" opacity="1" stroke-linejoin="miter"/><path d="M221 250L227.5 257.5M225.43 256.39L227.5 257.5L226.69 255.29Z" stroke="#3a3a3a" stroke-width="0.45" fill="#3a3a3a" opacity="1" stroke-linejoin="miter"/><polyline points="265.4,231 265.2,262 265.4,270" fill="none" stroke="#2a2a2a" stroke-width="0.9" stroke-dasharray="2.4 1.4"/><rect x="40.1" y="205.2" width="229.6" height="76.2" fill="none" stroke="#8c8c8c" stroke-width="0.8"/><path d="M43.9 281.4v-2.2M43.9 205.2v2.2M88.1 281.4v-2.2M88.1 205.2v2.2M132.3 281.4v-2.2M132.3 205.2v2.2M176.5 281.4v-2.2M176.5 205.2v2.2M220.7 281.4v-2.2M220.7 205.2v2.2M264.9 281.4v-2.2M264.9 205.2v2.2M40.1 210.1h2.2M269.7 210.1h-2.2M40.1 233.87h2.2M269.7 233.87h-2.2M40.1 257.63h2.2M269.7 257.63h-2.2" stroke="#8c8c8c" stroke-width="0.8" fill="none"/><text transform="translate(256.4 214.8) scale(0.88 1)" font-size="10" font-weight="bold" fill="#1a1a1a">e)</text><path d="M44.6 269.4L56 269.4M53.6 270.31L56 269.4L53.6 268.49Z" stroke="#3a3a3a" stroke-width="0.7" fill="#3a3a3a" opacity="1" stroke-linejoin="miter"/><text transform="translate(44.1 280.4) scale(0.84 1)" font-size="10" fill="#303030">0.05<tspan dx="0.9"> ms</tspan><tspan dy="-4.8" dx="1.2" font-size="6.6">-1</tspan></text><g clip-path="url(#c33)"><rect x="284.2" y="214" width="223.6" height="3" fill="url(#r34)"/><rect x="284.2" y="216" width="223.6" height="3" fill="url(#r35)"/><rect x="284.2" y="218" width="223.6" height="3" fill="url(#r36)"/><rect x="284.2" y="220" width="223.6" height="3" fill="url(#r37)"/><rect x="284.2" y="222" width="223.6" height="3" fill="url(#r38)"/><rect x="284.2" y="224" width="223.6" height="3" fill="url(#r39)"/><rect x="284.2" y="226" width="223.6" height="3" fill="url(#r40)"/><rect x="284.2" y="228" width="223.6" height="3" fill="url(#r41)"/><rect x="284.2" y="230" width="223.6" height="3" fill="url(#r42)"/><rect x="284.2" y="232" width="223.6" height="3" fill="url(#r43)"/><rect x="284.2" y="234" width="223.6" height="3" fill="url(#r44)"/><rect x="284.2" y="236" width="223.6" height="3" fill="url(#r45)"/><rect x="284.2" y="238" width="223.6" height="3" fill="url(#r46)"/><rect x="284.2" y="240" width="223.6" height="2" fill="url(#r47)"/><rect x="284.2" y="241" width="223.6" height="2" fill="url(#r48)"/><rect x="284.2" y="242" width="223.6" height="2" fill="url(#r49)"/><rect x="284.2" y="243" width="223.6" height="2" fill="url(#r50)"/><rect x="284.2" y="244" width="223.6" height="2" fill="url(#r51)"/><rect x="284.2" y="245" width="223.6" height="2" fill="url(#r52)"/><rect x="284.2" y="246" width="223.6" height="2" fill="url(#r53)"/><rect x="284.2" y="247" width="223.6" height="2" fill="url(#r54)"/><rect x="284.2" y="248" width="223.6" height="2" fill="url(#r55)"/><rect x="284.2" y="249" width="223.6" height="2" fill="url(#r56)"/><rect x="284.2" y="250" width="223.6" height="2" fill="url(#r57)"/><rect x="284.2" y="251" width="223.6" height="2" fill="url(#r58)"/><rect x="284.2" y="252" width="223.6" height="2" fill="url(#r59)"/><rect x="284.2" y="253" width="223.6" height="2" fill="url(#r60)"/><rect x="284.2" y="254" width="223.6" height="2" fill="url(#r61)"/><rect x="284.2" y="255" width="223.6" height="2" fill="url(#r62)"/><rect x="284.2" y="256" width="223.6" height="2" fill="url(#r63)"/><rect x="284.2" y="257" width="223.6" height="2" fill="url(#r64)"/><rect x="284.2" y="258" width="223.6" height="2" fill="url(#r65)"/><rect x="284.2" y="259" width="223.6" height="2" fill="url(#r66)"/><rect x="284.2" y="260" width="223.6" height="2" fill="url(#r67)"/><rect x="284.2" y="261" width="223.6" height="2" fill="url(#r68)"/><rect x="284.2" y="262" width="223.6" height="2" fill="url(#r69)"/><rect x="284.2" y="263" width="223.6" height="2" fill="url(#r70)"/><rect x="284.2" y="264" width="223.6" height="2" fill="url(#r71)"/><rect x="284.2" y="265" width="223.6" height="2" fill="url(#r72)"/><rect x="284.2" y="266" width="223.6" height="2" fill="url(#r73)"/><rect x="284.2" y="267" width="223.6" height="2" fill="url(#r74)"/><rect x="284.2" y="268" width="223.6" height="2" fill="url(#r75)"/><rect x="284.2" y="269" width="223.6" height="2" fill="url(#r76)"/><rect x="284.2" y="270" width="223.6" height="2" fill="url(#r77)"/><rect x="284.2" y="271" width="223.6" height="2" fill="url(#r78)"/></g><polyline points="290,209.4 295.13,209.42 300.26,209.44 305.38,209.46 310.51,209.48 315.64,209.5 320.77,209.52 325.9,209.54 331.03,209.56 336.15,209.58 341.28,209.59 346.41,209.54 351.54,209.48 356.67,209.43 361.79,209.38 366.92,209.33 372.05,209.28 377.18,209.23 382.31,209.18 387.44,209.13 392.56,209.07 397.69,209.02 402.82,208.99 407.95,208.96 413.08,208.93 418.21,208.91 423.33,208.88 428.46,208.86 433.59,208.83 438.72,208.81 443.85,208.82 448.97,208.84 454.1,208.86 459.23,208.88 464.36,208.9 469.49,208.92 474.62,208.94 479.74,208.96 484.87,208.98 490,209" fill="none" stroke="#444" stroke-width="0.9" stroke-dasharray="2.2 2.0"/><polyline points="285.3,253.9 288.8,253.78 292.3,253.49 295.8,253.32 299.3,252.97 302.8,252.91 306.3,252.79 309.8,252.73 313.3,252.85 316.8,252.53 320.3,252.61 323.8,252.46 327.3,252.48 330.8,252.51 334.3,252.65 337.8,252.54 341.3,252.28 344.8,252.37 348.3,252.3 351.8,252.57 355.3,252.57 358.8,253.07 362.3,253.58 365.8,254.08 369.3,254.7 372.8,255.18 376.3,255.72 379.8,257.08 383.3,258.05 386.8,259.67 390.3,261.49 393.8,263.32 397.3,265.59 400.8,268.11 404.3,270.84 407.8,273.68 411.3,276.77 414.8,277.97 418,278.6" fill="none" stroke="#454545" stroke-width="1.2" stroke-linejoin="round"/><polyline points="440,273.6 446,278.6 452,281" fill="none" stroke="#333" stroke-width="0.9" stroke-linejoin="round"/><polyline points="481,272.8 488,272 497,271" fill="none" stroke="#333" stroke-width="1" stroke-linejoin="round"/><rect x="427.5" y="244.6" width="5.0" height="37" fill="#e060ff" fill-opacity="0.6" stroke="#ff28ff" stroke-width="1.2"/><rect x="467.9" y="244.6" width="5.0" height="37" fill="#e060ff" fill-opacity="0.6" stroke="#ff28ff" stroke-width="1.2"/><path d="M285.4 225L289.2 225.8M286.56 226.21L289.2 225.8L286.95 224.36Z" stroke="#2a1a10" stroke-width="0.45" fill="#2a1a10" opacity="0.92" stroke-linejoin="miter"/><path d="M285.4 229.5L289.2 229.75M286.64 230.53L289.2 229.75L286.77 228.64Z" stroke="#2a1a10" stroke-width="0.45" fill="#2a1a10" opacity="0.92" stroke-linejoin="miter"/><path d="M285.4 234L289.2 233.7M286.78 234.84L289.2 233.7L286.63 232.95Z" stroke="#2a1a10" stroke-width="0.45" fill="#2a1a10" opacity="0.92" stroke-linejoin="miter"/><path d="M285.4 238.5L289.2 237.65M286.97 239.12L289.2 237.65L286.55 237.27Z" stroke="#2a1a10" stroke-width="0.45" fill="#2a1a10" opacity="0.92" stroke-linejoin="miter"/><path d="M285.4 243L289.2 241.6M287.18 243.36L289.2 241.6L286.53 241.57Z" stroke="#2a1a10" stroke-width="0.45" fill="#2a1a10" opacity="0.92" stroke-linejoin="miter"/><path d="M329.5 224L336.5 224.4M333.95 225.21L336.5 224.4L334.06 223.31Z" stroke="#2a1a10" stroke-width="0.45" fill="#2a1a10" opacity="0.92" stroke-linejoin="miter"/><path d="M329.5 228.75L337.38 228.65M334.89 229.63L337.38 228.65L334.86 227.73Z" stroke="#2a1a10" stroke-width="0.45" fill="#2a1a10" opacity="0.92" stroke-linejoin="miter"/><path d="M329.5 233.5L338.25 232.9M335.82 234.02L338.25 232.9L335.69 232.12Z" stroke="#2a1a10" stroke-width="0.45" fill="#2a1a10" opacity="0.92" stroke-linejoin="miter"/><path d="M329.5 238.25L339.12 237.15M336.75 238.38L339.12 237.15L336.53 236.49Z" stroke="#2a1a10" stroke-width="0.45" fill="#2a1a10" opacity="0.92" stroke-linejoin="miter"/><path d="M329.5 243L340 241.4M337.67 242.72L340 241.4L337.39 240.84Z" stroke="#2a1a10" stroke-width="0.45" fill="#2a1a10" opacity="0.92" stroke-linejoin="miter"/><path d="M373.5 224L382 225.4M379.38 225.93L382 225.4L379.69 224.06Z" stroke="#2a1a10" stroke-width="0.45" fill="#2a1a10" opacity="0.92" stroke-linejoin="miter"/><path d="M373.5 228.75L382.38 230.45M379.74 230.91L382.38 230.45L380.1 229.05Z" stroke="#2a1a10" stroke-width="0.45" fill="#2a1a10" opacity="0.92" stroke-linejoin="miter"/><path d="M373.5 233.5L382.75 235.5M380.11 235.9L382.75 235.5L380.51 234.04Z" stroke="#2a1a10" stroke-width="0.45" fill="#2a1a10" opacity="0.92" stroke-linejoin="miter"/><path d="M373.5 238.25L383.12 240.55M380.47 240.89L383.12 240.55L380.91 239.04Z" stroke="#2a1a10" stroke-width="0.45" fill="#2a1a10" opacity="0.92" stroke-linejoin="miter"/><path d="M373.5 243L383.5 245.6M380.84 245.89L383.5 245.6L381.32 244.05Z" stroke="#2a1a10" stroke-width="0.45" fill="#2a1a10" opacity="0.92" stroke-linejoin="miter"/><path d="M400.2 219.6L409.6 221.4M406.97 221.86L409.6 221.4L407.32 220Z" stroke="#2a1a10" stroke-width="0.45" fill="#2a1a10" opacity="0.92" stroke-linejoin="miter"/><path d="M400.2 224.28L409.32 226.92M406.65 227.14L409.32 226.92L407.18 225.31Z" stroke="#2a1a10" stroke-width="0.45" fill="#2a1a10" opacity="0.92" stroke-linejoin="miter"/><path d="M400.2 228.96L409.04 232.44M406.37 232.41L409.04 232.44L407.06 230.64Z" stroke="#2a1a10" stroke-width="0.45" fill="#2a1a10" opacity="0.92" stroke-linejoin="miter"/><path d="M400.2 233.64L408.76 237.96M406.1 237.68L408.76 237.96L406.96 235.99Z" stroke="#2a1a10" stroke-width="0.45" fill="#2a1a10" opacity="0.92" stroke-linejoin="miter"/><path d="M400.2 238.32L408.48 243.48M405.86 242.96L408.48 243.48L406.86 241.35Z" stroke="#2a1a10" stroke-width="0.45" fill="#2a1a10" opacity="0.92" stroke-linejoin="miter"/><path d="M400.2 243L408.2 249M405.63 248.26L408.2 249L406.77 246.74Z" stroke="#2a1a10" stroke-width="0.45" fill="#2a1a10" opacity="0.92" stroke-linejoin="miter"/><path d="M434 219L446 224.7M443.33 224.49L446 224.7L444.15 222.77Z" stroke="#2a1a10" stroke-width="0.45" fill="#2a1a10" opacity="0.92" stroke-linejoin="miter"/><path d="M435.33 224.67L447 230.8M444.35 230.48L447 230.8L445.23 228.8Z" stroke="#2a1a10" stroke-width="0.45" fill="#2a1a10" opacity="0.92" stroke-linejoin="miter"/><path d="M436.67 230.33L448 236.9M445.36 236.47L448 236.9L446.31 234.82Z" stroke="#2a1a10" stroke-width="0.45" fill="#2a1a10" opacity="0.92" stroke-linejoin="miter"/><path d="M438 236L449 243M446.38 242.46L449 243L447.4 240.86Z" stroke="#2a1a10" stroke-width="0.45" fill="#2a1a10" opacity="0.92" stroke-linejoin="miter"/><path d="M457.2 219.6L467.2 221.6M464.56 222.04L467.2 221.6L464.93 220.18Z" stroke="#2a1a10" stroke-width="0.45" fill="#2a1a10" opacity="0.92" stroke-linejoin="miter"/><path d="M457.33 224.07L467.13 226.2M464.49 226.6L467.13 226.2L464.89 224.74Z" stroke="#2a1a10" stroke-width="0.45" fill="#2a1a10" opacity="0.92" stroke-linejoin="miter"/><path d="M457.47 228.53L467.07 230.8M464.42 231.15L467.07 230.8L464.85 229.3Z" stroke="#2a1a10" stroke-width="0.45" fill="#2a1a10" opacity="0.92" stroke-linejoin="miter"/><path d="M457.6 233L467 235.4M464.34 235.7L467 235.4L464.81 233.86Z" stroke="#2a1a10" stroke-width="0.45" fill="#2a1a10" opacity="0.92" stroke-linejoin="miter"/><path d="M474.3 220.3L481.3 227.3M478.86 226.2L481.3 227.3L480.2 224.86Z" stroke="#2a1a10" stroke-width="0.45" fill="#2a1a10" opacity="0.92" stroke-linejoin="miter"/><path d="M475.48 225.23L482.73 232.73M480.3 231.59L482.73 232.73L481.67 230.27Z" stroke="#2a1a10" stroke-width="0.45" fill="#2a1a10" opacity="0.92" stroke-linejoin="miter"/><path d="M476.65 230.15L484.15 238.15M481.75 236.98L484.15 238.15L483.13 235.68Z" stroke="#2a1a10" stroke-width="0.45" fill="#2a1a10" opacity="0.92" stroke-linejoin="miter"/><path d="M477.82 235.07L485.57 243.57M483.19 242.37L485.57 243.57L484.59 241.09Z" stroke="#2a1a10" stroke-width="0.45" fill="#2a1a10" opacity="0.92" stroke-linejoin="miter"/><path d="M479 240L487 249M484.63 247.76L487 249L486.05 246.5Z" stroke="#2a1a10" stroke-width="0.45" fill="#2a1a10" opacity="0.92" stroke-linejoin="miter"/><path d="M373.5 244L384 247M381.02 247.25L384 247L381.6 245.21Z" stroke="#3a3a3a" stroke-width="0.45" fill="#3a3a3a" opacity="1" stroke-linejoin="miter"/><path d="M400.6 247L408.4 256M405.76 254.58L408.4 256L407.37 253.19Z" stroke="#3a3a3a" stroke-width="0.45" fill="#3a3a3a" opacity="1" stroke-linejoin="miter"/><path d="M400.7 254.5L408.4 262.2M405.67 260.97L408.4 262.2L407.17 259.47Z" stroke="#3a3a3a" stroke-width="0.45" fill="#3a3a3a" opacity="1" stroke-linejoin="miter"/><path d="M428 266.6L411 266.8M414.58 265.39L411 266.8L414.62 268.13" stroke="#444" stroke-width="0.5" fill="none" opacity="1" stroke-linejoin="miter"/><path d="M433 267.2L425.5 270.4M428.27 267.73L425.5 270.4L429.35 270.25" stroke="#444" stroke-width="0.5" fill="none" opacity="1" stroke-linejoin="miter"/><path d="M436 246L448.2 272.4M446.06 270.3L448.2 272.4L447.99 269.41Z" stroke="#3a3a3a" stroke-width="0.45" fill="#3a3a3a" opacity="1" stroke-linejoin="miter"/><path d="M439.5 249L449 270M446.88 267.89L449 270L448.82 267.01Z" stroke="#3a3a3a" stroke-width="0.45" fill="#3a3a3a" opacity="1" stroke-linejoin="miter"/><path d="M441 240L451.5 262M449.33 259.93L451.5 262L451.25 259.01Z" stroke="#3a3a3a" stroke-width="0.45" fill="#3a3a3a" opacity="1" stroke-linejoin="miter"/><path d="M444 236L454 254M451.71 252.07L454 254L453.57 251.04Z" stroke="#3a3a3a" stroke-width="0.45" fill="#3a3a3a" opacity="1" stroke-linejoin="miter"/><path d="M458 252.6L447.5 275.5M447.7 272.51L447.5 275.5L449.63 273.4Z" stroke="#3a3a3a" stroke-width="0.45" fill="#3a3a3a" opacity="1" stroke-linejoin="miter"/><path d="M461 247L450 268.6M450.32 265.62L450 268.6L452.22 266.59Z" stroke="#3a3a3a" stroke-width="0.45" fill="#3a3a3a" opacity="1" stroke-linejoin="miter"/><path d="M460 242L453 254M453.49 251.05L453 254L455.33 252.12Z" stroke="#3a3a3a" stroke-width="0.45" fill="#3a3a3a" opacity="1" stroke-linejoin="miter"/><path d="M449 270L445.5 277M445.89 273.17L445.5 277L448.33 274.39" stroke="#444" stroke-width="0.5" fill="none" opacity="1" stroke-linejoin="miter"/><path d="M472.4 259L461 278M461.68 274.21L461 278L464.03 275.62" stroke="#444" stroke-width="0.5" fill="none" opacity="1" stroke-linejoin="miter"/><path d="M468 262L462.4 275.4M462.5 272.41L462.4 275.4L464.46 273.23Z" stroke="#3a3a3a" stroke-width="0.45" fill="#3a3a3a" opacity="1" stroke-linejoin="miter"/><path d="M482 245L487 258.4M485.02 256.15L487 258.4L487.02 255.4Z" stroke="#3a3a3a" stroke-width="0.45" fill="#3a3a3a" opacity="1" stroke-linejoin="miter"/><path d="M480 240L485.5 252M483.37 249.9L485.5 252L485.3 249.01Z" stroke="#3a3a3a" stroke-width="0.45" fill="#3a3a3a" opacity="1" stroke-linejoin="miter"/><path d="M484 248L489 262M487.06 259.72L489 262L489.06 259.01Z" stroke="#3a3a3a" stroke-width="0.45" fill="#3a3a3a" opacity="1" stroke-linejoin="miter"/><path d="M480 261.5L482.5 271.7M480.8 269.23L482.5 271.7L482.87 268.73Z" stroke="#3a3a3a" stroke-width="0.45" fill="#3a3a3a" opacity="1" stroke-linejoin="miter"/><polyline points="478.3,262 478.4,281" fill="none" stroke="#666" stroke-width="0.5" stroke-linejoin="round"/><path d="M497.2 271L481.3 272.7M484.54 271.05L481.3 272.7L484.82 273.62" stroke="#3a3a3a" stroke-width="0.9" fill="none" opacity="1" stroke-linejoin="miter"/><path d="M428.7 231 C432 232 436.4 234.4 438.6 237.8 C440.6 241 441.2 246 441.0 250 C440.8 254 439.6 256.6 437.8 258" fill="none" stroke="#111" stroke-width="1.8" stroke-dasharray="3.2 1.6"/><path d="M433.9 252.6 L433.9 272" fill="none" stroke="#111" stroke-width="1.6" stroke-dasharray="3 1.5"/><path d="M465.6 237.6 C467.6 236 472 235 474.8 237.4 C477.2 239.6 477.8 243.6 476.6 249 L475.6 256 L475.5 266.6" fill="none" stroke="#111" stroke-width="1.8" stroke-dasharray="3.2 1.6"/><path d="M473.7 266.2 L477.3 266.2 L475.5 271 Z" fill="#111"/><polyline points="506.4,216 506.2,257 506.2,281" fill="none" stroke="#444" stroke-width="1.3" stroke-dasharray="2.8 1.4"/><rect x="281" y="205.2" width="229.5" height="76.2" fill="none" stroke="#8c8c8c" stroke-width="0.8"/><path d="M285.3 281.4v-2.2M285.3 205.2v2.2M329.54 281.4v-2.2M329.54 205.2v2.2M373.78 281.4v-2.2M373.78 205.2v2.2M418.02 281.4v-2.2M418.02 205.2v2.2M462.26 281.4v-2.2M462.26 205.2v2.2M506.5 281.4v-2.2M506.5 205.2v2.2M281 210.1h2.2M510.5 210.1h-2.2M281 233.87h2.2M510.5 233.87h-2.2M281 257.63h2.2M510.5 257.63h-2.2" stroke="#8c8c8c" stroke-width="0.8" fill="none"/><text transform="translate(497.7 212.8) scale(0.88 1)" font-size="10" font-weight="bold" fill="#1a1a1a">f)</text><path d="M285.8 269.4L297.2 269.4M294.8 270.31L297.2 269.4L294.8 268.49Z" stroke="#6a6a6a" stroke-width="0.7" fill="#6a6a6a" opacity="1" stroke-linejoin="miter"/><text transform="translate(285.3 280.4) scale(0.84 1)" font-size="10" fill="#303030">0.05<tspan dx="0.9"> ms</tspan><tspan dy="-4.8" dx="1.2" font-size="6.6">-1</tspan></text><rect x="522.4" y="23.6" width="6.2" height="68.8" fill="url(#g79)"/><text transform="translate(531.4 28.2) scale(0.93 1)" font-size="9" fill="#303030">0.5</text><text transform="translate(531.4 41.96) scale(0.93 1)" font-size="9" fill="#303030">0.4</text><text transform="translate(531.4 55.72) scale(0.93 1)" font-size="9" fill="#303030">0.3</text><text transform="translate(531.4 69.48) scale(0.93 1)" font-size="9" fill="#303030">0.2</text><text transform="translate(531.4 83.24) scale(0.93 1)" font-size="9" fill="#303030">0.1</text><text transform="translate(531.4 97) scale(0.93 1)" font-size="9" fill="#303030">0</text><text transform="translate(507.6 16.7) scale(0.86 1)" font-size="10.6" fill="#303030">u (ms<tspan dy="-5.2" font-size="6.6">-1</tspan><tspan dy="5.2">)</tspan></text><path d="M513 110.8h3.2M517.8 110.8h3.2" stroke="#222" stroke-width="1.2"/><text transform="translate(523.2 113.7) scale(0.94 1)" font-size="9" font-weight="bold" fill="#222">W. L.</text><path d="M513 129.6h9" stroke="#444" stroke-width="1.1"/><text transform="translate(526.2 132.9) scale(0.94 1)" font-size="9" font-weight="bold" fill="#222">B. L.</text><path d="M512.8 146.9h6" stroke="#f48cf0" stroke-width="1.2"/><text transform="translate(521.8 151.7) scale(0.9 1)" font-size="9" font-weight="bold" fill="#222">Vanes</text><text transform="translate(515.3 161.3) scale(0.89 1)" font-size="9" font-weight="bold" fill="#222">contour</text><text transform="translate(155 15) scale(0.89 1)" font-size="10.6" text-anchor="middle" font-weight="bold" fill="#1a1a1a">Without Vanes</text><text transform="translate(395.7 14.2) scale(0.89 1)" font-size="10.6" text-anchor="middle" font-weight="bold" fill="#1a1a1a">With Vanes</text><text transform="translate(43.9 295.2) scale(0.84 1)" font-size="10" text-anchor="middle" fill="#303030">0.16</text><text transform="translate(285.3 295.2) scale(0.84 1)" font-size="10" text-anchor="middle" fill="#303030">0.16</text><text transform="translate(88.1 295.2) scale(0.84 1)" font-size="10" text-anchor="middle" fill="#303030">0.26</text><text transform="translate(329.54 295.2) scale(0.84 1)" font-size="10" text-anchor="middle" fill="#303030">0.26</text><text transform="translate(132.3 295.2) scale(0.84 1)" font-size="10" text-anchor="middle" fill="#303030">0.36</text><text transform="translate(373.78 295.2) scale(0.84 1)" font-size="10" text-anchor="middle" fill="#303030">0.36</text><text transform="translate(176.5 295.2) scale(0.84 1)" font-size="10" text-anchor="middle" fill="#303030">0.46</text><text transform="translate(418.02 295.2) scale(0.84 1)" font-size="10" text-anchor="middle" fill="#303030">0.46</text><text transform="translate(220.7 295.2) scale(0.84 1)" font-size="10" text-anchor="middle" fill="#303030">0.56</text><text transform="translate(462.26 295.2) scale(0.84 1)" font-size="10" text-anchor="middle" fill="#303030">0.56</text><text transform="translate(264.9 295.2) scale(0.84 1)" font-size="10" text-anchor="middle" fill="#303030">0.66</text><text transform="translate(506.5 295.2) scale(0.84 1)" font-size="10" text-anchor="middle" fill="#303030">0.66</text><text transform="translate(154.8 308.5) scale(0.85 1)" font-size="10.6" text-anchor="middle" fill="#303030">y (m)</text><text transform="translate(396 308.5) scale(0.85 1)" font-size="10.6" text-anchor="middle" fill="#303030">y (m)</text><text transform="translate(36.8 31.4) scale(0.84 1)" font-size="10" text-anchor="end" fill="#303030">0.10</text><text transform="translate(36.8 55.5) scale(0.84 1)" font-size="10" text-anchor="end" fill="#303030">0.05</text><text transform="translate(36.8 79.6) scale(0.84 1)" font-size="10" text-anchor="end" fill="#303030">0.00</text><text transform="translate(36.8 103.7) scale(0.84 1)" font-size="10" text-anchor="end" fill="#303030">-0.05</text><text transform="translate(13.8 60) scale(0.84 1) rotate(-90)" font-size="10.4" text-anchor="middle" fill="#303030">z (m)</text><text transform="translate(36.8 124.5) scale(0.84 1)" font-size="10" text-anchor="end" fill="#303030">0.10</text><text transform="translate(36.8 148.45) scale(0.84 1)" font-size="10" text-anchor="end" fill="#303030">0.05</text><text transform="translate(36.8 172.4) scale(0.84 1)" font-size="10" text-anchor="end" fill="#303030">0.00</text><text transform="translate(36.8 196.35) scale(0.84 1)" font-size="10" text-anchor="end" fill="#303030">-0.05</text><text transform="translate(13.8 153.4) scale(0.84 1) rotate(-90)" font-size="10.4" text-anchor="middle" fill="#303030">z (m)</text><text transform="translate(36.8 214.2) scale(0.84 1)" font-size="10" text-anchor="end" fill="#303030">0.10</text><text transform="translate(36.8 238.1) scale(0.84 1)" font-size="10" text-anchor="end" fill="#303030">0.05</text><text transform="translate(36.8 262) scale(0.84 1)" font-size="10" text-anchor="end" fill="#303030">0.00</text><text transform="translate(36.8 285.9) scale(0.84 1)" font-size="10" text-anchor="end" fill="#303030">-0.05</text><text transform="translate(13.8 243.2) scale(0.84 1) rotate(-90)" font-size="10.4" text-anchor="middle" fill="#303030">z (m)</text>
</svg>
</body></html>
